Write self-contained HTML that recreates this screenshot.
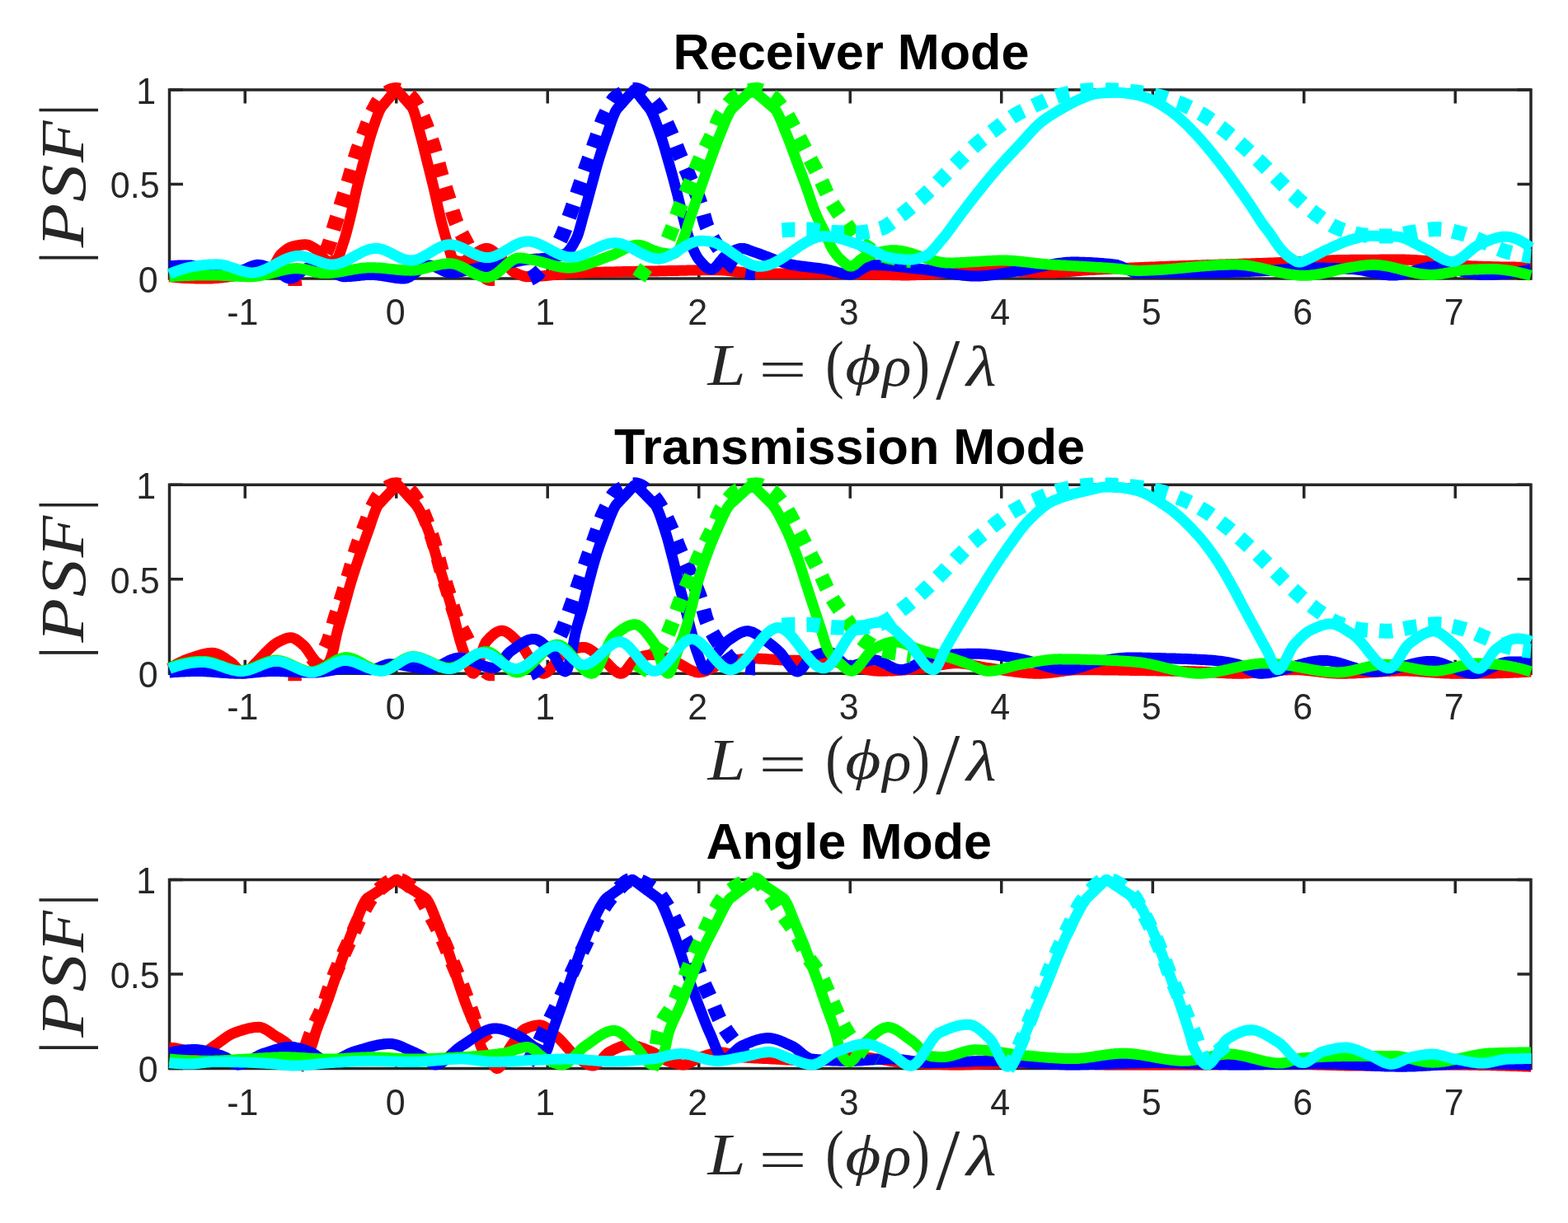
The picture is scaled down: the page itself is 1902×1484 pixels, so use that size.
<!DOCTYPE html><html><head><meta charset="utf-8"><title>PSF</title><style>html,body{margin:0;padding:0;background:#fff;}svg{display:block;}.tk{font-family:"Liberation Sans",Arial,sans-serif;font-size:43px;fill:#262626;}.ti{font-family:"Liberation Sans",Arial,sans-serif;font-size:61.2px;font-weight:bold;fill:#000;}.lx{font-family:"Liberation Serif","Times New Roman",serif;font-size:73px;fill:#262626;}</style></head><body>
<svg xmlns="http://www.w3.org/2000/svg" width="1902" height="1484" viewBox="0 0 1902 1484">
<rect width="1902" height="1484" fill="#fff"/>
<g fill="none" stroke="#262626" stroke-width="3.5">
<rect x="205.5" y="109.0" width="1651.5" height="229.0"/>
<path d="M297.25 109.00V125.50M297.25 338.00V321.50"/>
<path d="M480.75 109.00V125.50M480.75 338.00V321.50"/>
<path d="M664.25 109.00V125.50M664.25 338.00V321.50"/>
<path d="M847.75 109.00V125.50M847.75 338.00V321.50"/>
<path d="M1031.25 109.00V125.50M1031.25 338.00V321.50"/>
<path d="M1214.75 109.00V125.50M1214.75 338.00V321.50"/>
<path d="M1398.25 109.00V125.50M1398.25 338.00V321.50"/>
<path d="M1581.75 109.00V125.50M1581.75 338.00V321.50"/>
<path d="M1765.25 109.00V125.50M1765.25 338.00V321.50"/>
<path d="M205.50 338.00H222.00M1857.00 338.00H1840.50"/>
<path d="M205.50 223.50H222.00M1857.00 223.50H1840.50"/>
<path d="M205.50 109.00H222.00M1857.00 109.00H1840.50"/>
</g>
<path d="M205.5 335.7 L207.0 335.9 L208.5 336.1 L210.0 336.2 L211.5 336.4 L213.0 336.6 L214.5 336.7 L216.0 336.8 L217.5 336.9 L219.0 337.1 L220.5 337.2 L222.0 337.3 L223.5 337.4 L225.0 337.4 L226.5 337.5 L228.0 337.6 L229.5 337.6 L231.0 337.7 L232.5 337.8 L234.0 337.8 L235.5 337.8 L237.0 337.9 L238.5 337.9 L240.0 337.9 L241.5 338.0 L243.0 338.0 L244.5 338.0 L246.0 338.0 L247.5 338.0 L249.0 338.0 L250.5 338.0 L252.0 338.0 L253.5 338.0 L255.0 337.9 L256.5 337.9 L258.0 337.8 L259.5 337.7 L261.0 337.6 L262.5 337.5 L264.0 337.4 L265.5 337.2 L267.0 337.1 L268.5 336.9 L270.0 336.8 L271.5 336.6 L273.0 336.4 L274.5 336.2 L276.0 336.0 L277.5 335.8 L279.0 335.6 L280.5 335.4 L282.0 335.2 L283.5 335.0 L285.0 334.7 L286.5 334.5 L288.0 334.3 L289.5 334.0 L291.0 333.8 L292.5 333.5 L294.0 333.3 L295.5 333.0 L297.0 332.8 L298.5 332.5 L300.0 332.3 L301.5 332.0 L303.0 331.8 L304.5 331.5 L306.0 331.3 L307.5 331.0 L309.0 330.8 L310.5 330.5 L312.0 330.2 L313.5 329.9 L315.0 329.5 L316.5 329.2 L318.0 328.8 L319.5 328.4 L321.0 327.9 L322.5 327.4 L324.0 326.9 L325.5 326.3 L327.0 325.7 L328.5 325.0 L330.0 324.3 L331.5 323.0 L333.0 321.1 L334.5 318.6 L336.0 315.9 L337.5 313.2 L339.0 310.7 L340.5 308.7 L342.0 307.3 L343.5 306.0 L345.0 304.7 L346.5 303.6 L348.0 302.5 L349.5 301.5 L351.0 300.6 L352.5 299.9 L354.0 299.4 L355.5 298.9 L357.0 298.6 L358.5 298.3 L360.0 297.9 L361.5 297.7 L363.0 297.4 L364.5 297.2 L366.0 297.0 L367.5 296.9 L369.0 296.8 L370.5 296.8 L372.0 296.9 L373.5 297.2 L375.0 297.7 L376.5 298.4 L378.0 299.2 L379.5 300.1 L381.0 301.0 L382.5 302.0 L384.0 303.0 L385.5 304.0 L387.0 305.5 L388.5 307.3 L390.0 309.4 L391.5 311.6 L393.0 313.6 L394.5 315.4 L396.0 316.7 L397.5 317.3 L399.0 317.4 L400.5 317.2 L402.0 317.0 L403.5 316.7 L405.0 316.2 L406.5 315.7 L408.0 315.1 L409.5 313.6 L411.0 310.6 L412.5 306.6 L414.0 302.2 L415.5 297.6 L417.0 293.2 L418.5 288.3 L420.0 283.0 L421.5 277.3 L423.0 271.5 L424.5 265.5 L426.0 259.3 L427.5 252.7 L429.0 245.8 L430.5 238.9 L432.0 232.2 L433.5 225.9 L435.0 219.8 L436.5 213.7 L438.0 207.8 L439.5 202.0 L441.0 196.3 L442.5 190.5 L444.0 184.7 L445.5 179.0 L447.0 173.5 L448.5 168.3 L450.0 163.4 L451.5 158.8 L453.0 154.1 L454.5 149.6 L456.0 145.3 L457.5 141.2 L459.0 137.5 L460.5 134.1 L462.0 131.1 L463.5 129.0 L465.0 127.3 L466.5 125.5 L468.0 123.7 L469.5 121.9 L471.0 120.1 L472.5 118.4 L474.0 116.6 L475.5 114.8 L477.0 113.0 L478.5 111.2 L480.0 109.4 L481.5 109.3 L483.0 111.0 L484.5 112.7 L486.0 114.4 L487.5 116.1 L489.0 117.9 L490.5 119.6 L492.0 121.3 L493.5 123.0 L495.0 124.7 L496.5 126.4 L498.0 128.1 L499.5 129.8 L501.0 132.5 L502.5 136.5 L504.0 141.3 L505.5 146.6 L507.0 152.3 L508.5 158.0 L510.0 163.7 L511.5 169.2 L513.0 175.1 L514.5 181.1 L516.0 187.2 L517.5 193.4 L519.0 199.4 L520.5 205.4 L522.0 211.3 L523.5 217.3 L525.0 223.4 L526.5 229.6 L528.0 236.2 L529.5 243.0 L531.0 250.0 L532.5 256.7 L534.0 263.1 L535.5 269.1 L537.0 274.9 L538.5 280.5 L540.0 285.9 L541.5 291.0 L543.0 295.9 L544.5 300.8 L546.0 306.1 L547.5 310.8 L549.0 314.1 L550.5 315.3 L552.0 315.9 L553.5 316.4 L555.0 316.8 L556.5 317.1 L558.0 317.3 L559.5 317.4 L561.0 317.3 L562.5 316.9 L564.0 316.2 L565.5 315.3 L567.0 314.2 L568.5 313.0 L570.0 311.7 L571.5 310.5 L573.0 309.4 L574.5 308.5 L576.0 307.7 L577.5 306.9 L579.0 306.0 L580.5 305.1 L582.0 304.2 L583.5 303.4 L585.0 302.7 L586.5 302.1 L588.0 301.7 L589.5 301.4 L591.0 301.4 L592.5 301.6 L594.0 302.2 L595.5 303.0 L597.0 304.0 L598.5 305.1 L600.0 306.3 L601.5 307.6 L603.0 308.9 L604.5 310.1 L606.0 311.3 L607.5 312.8 L609.0 314.4 L610.5 316.1 L612.0 317.9 L613.5 319.8 L615.0 321.6 L616.5 323.4 L618.0 325.2 L619.5 326.8 L621.0 328.3 L622.5 329.6 L624.0 330.6 L625.5 331.4 L627.0 332.0 L628.5 332.7 L630.0 333.3 L631.5 333.9 L633.0 334.4 L634.5 334.9 L636.0 335.3 L637.5 335.5 L639.0 335.7 L640.5 335.7 L642.0 335.7 L643.5 335.7 L645.0 335.6 L646.5 335.6 L648.0 335.5 L649.5 335.4 L651.0 335.4 L652.5 335.3 L654.0 335.2 L655.5 335.1 L657.0 334.9 L658.5 334.8 L660.0 334.7 L661.5 334.5 L663.0 334.4 L664.5 334.3 L666.0 334.1 L667.5 334.0 L669.0 333.8 L670.5 333.6 L672.0 333.5 L673.5 333.3 L675.0 333.2 L676.5 333.0 L678.0 332.9 L679.5 332.7 L681.0 332.5 L682.5 332.4 L684.0 332.3 L685.5 332.1 L687.0 332.0 L688.5 331.8 L690.0 331.7 L691.5 331.6 L693.0 331.5 L694.5 331.4 L696.0 331.3 L697.5 331.2 L699.0 331.2 L700.5 331.1 L702.0 331.1 L703.5 331.0 L705.0 331.0 L706.5 330.9 L708.0 330.8 L709.5 330.8 L711.0 330.8 L712.5 330.7 L714.0 330.7 L715.5 330.6 L717.0 330.6 L718.5 330.5 L720.0 330.5 L721.5 330.4 L723.0 330.4 L724.5 330.4 L726.0 330.3 L727.5 330.3 L729.0 330.2 L730.5 330.2 L732.0 330.2 L733.5 330.1 L735.0 330.1 L736.5 330.1 L738.0 330.0 L739.5 330.0 L741.0 330.0 L742.5 329.9 L744.0 329.9 L745.5 329.9 L747.0 329.8 L748.5 329.8 L750.0 329.8 L751.5 329.7 L753.0 329.7 L754.5 329.7 L756.0 329.6 L757.5 329.6 L759.0 329.6 L760.5 329.6 L762.0 329.5 L763.5 329.5 L765.0 329.5 L766.5 329.4 L768.0 329.4 L769.5 329.4 L771.0 329.4 L772.5 329.3 L774.0 329.3 L775.5 329.3 L777.0 329.3 L778.5 329.2 L780.0 329.2 L781.5 329.2 L783.0 329.1 L784.5 329.1 L786.0 329.1 L787.5 329.1 L789.0 329.0 L790.5 329.0 L792.0 329.0 L793.5 329.0 L795.0 328.9 L796.5 328.9 L798.0 328.9 L799.5 328.8 L801.0 328.8 L802.5 328.8 L804.0 328.8 L805.5 328.7 L807.0 328.7 L808.5 328.7 L810.0 328.6 L811.5 328.6 L813.0 328.6 L814.5 328.5 L816.0 328.5 L817.5 328.5 L819.0 328.4 L820.5 328.4 L822.0 328.4 L823.5 328.3 L825.0 328.3 L826.5 328.3 L828.0 328.2 L829.5 328.2 L831.0 328.2 L832.5 328.2 L834.0 328.1 L835.5 328.1 L837.0 328.1 L838.5 328.0 L840.0 328.0 L841.5 328.0 L843.0 328.0 L844.5 327.9 L846.0 327.9 L847.5 327.9 L849.0 327.9 L850.5 327.8 L852.0 327.8 L853.5 327.8 L855.0 327.8 L856.5 327.8 L858.0 327.8 L859.5 327.7 L861.0 327.7 L862.5 327.7 L864.0 327.7 L865.5 327.7 L867.0 327.7 L868.5 327.7 L870.0 327.7 L871.5 327.7 L873.0 327.7 L874.5 327.8 L876.0 327.9 L877.5 328.0 L879.0 328.1 L880.5 328.2 L882.0 328.3 L883.5 328.5 L885.0 328.6 L886.5 328.8 L888.0 329.0 L889.5 329.2 L891.0 329.4 L892.5 329.5 L894.0 329.7 L895.5 329.9 L897.0 330.1 L898.5 330.3 L900.0 330.5 L901.5 330.7 L903.0 330.9 L904.5 331.1 L906.0 331.2 L907.5 331.4 L909.0 331.5 L910.5 331.6 L912.0 331.7 L913.5 331.8 L915.0 331.9 L916.5 332.0 L918.0 332.0 L919.5 332.0 L921.0 332.0 L922.5 332.0 L924.0 332.0 L925.5 332.0 L927.0 332.0 L928.5 332.0 L930.0 332.0 L931.5 332.0 L933.0 332.0 L934.5 332.0 L936.0 332.0 L937.5 332.0 L939.0 332.0 L940.5 332.0 L942.0 332.0 L943.5 332.0 L945.0 332.0 L946.5 332.0 L948.0 332.0 L949.5 332.0 L951.0 332.0 L952.5 332.0 L954.0 332.0 L955.5 332.0 L957.0 332.0 L958.5 332.0 L960.0 332.0 L961.5 332.0 L963.0 332.0 L964.5 332.0 L966.0 332.0 L967.5 332.0 L969.0 332.0 L970.5 332.0 L972.0 332.0 L973.5 332.0 L975.0 332.0 L976.5 332.0 L978.0 332.0 L979.5 332.0 L981.0 332.0 L982.5 332.0 L984.0 332.0 L985.5 332.0 L987.0 332.0 L988.5 332.0 L990.0 332.0 L991.5 332.0 L993.0 332.0 L994.5 332.0 L996.0 332.0 L997.5 332.0 L999.0 332.0 L1000.5 332.0 L1002.0 332.0 L1003.5 332.0 L1005.0 332.0 L1006.5 332.0 L1008.0 332.0 L1009.5 332.0 L1011.0 332.0 L1012.5 332.0 L1014.0 332.1 L1015.5 332.1 L1017.0 332.1 L1018.5 332.1 L1020.0 332.1 L1021.5 332.1 L1023.0 332.1 L1024.5 332.2 L1026.0 332.2 L1027.5 332.2 L1029.0 332.2 L1030.5 332.3 L1032.0 332.3 L1033.5 332.3 L1035.0 332.4 L1036.5 332.4 L1038.0 332.4 L1039.5 332.5 L1041.0 332.5 L1042.5 332.6 L1044.0 332.6 L1045.5 332.7 L1047.0 332.7 L1048.5 332.7 L1050.0 332.8 L1051.5 332.8 L1053.0 332.9 L1054.5 332.9 L1056.0 333.0 L1057.5 333.0 L1059.0 333.1 L1060.5 333.1 L1062.0 333.2 L1063.5 333.2 L1065.0 333.3 L1066.5 333.3 L1068.0 333.3 L1069.5 333.4 L1071.0 333.4 L1072.5 333.5 L1074.0 333.5 L1075.5 333.5 L1077.0 333.6 L1078.5 333.6 L1080.0 333.6 L1081.5 333.7 L1083.0 333.7 L1084.5 333.7 L1086.0 333.8 L1087.5 333.8 L1089.0 333.8 L1090.5 333.8 L1092.0 333.8 L1093.5 333.9 L1095.0 333.9 L1096.5 333.9 L1098.0 333.9 L1099.5 333.9 L1101.0 333.9 L1102.5 333.9 L1104.0 333.8 L1105.5 333.8 L1107.0 333.8 L1108.5 333.7 L1110.0 333.7 L1111.5 333.6 L1113.0 333.6 L1114.5 333.5 L1116.0 333.4 L1117.5 333.4 L1119.0 333.3 L1120.5 333.2 L1122.0 333.1 L1123.5 333.0 L1125.0 332.9 L1126.5 332.8 L1128.0 332.7 L1129.5 332.6 L1131.0 332.5 L1132.5 332.4 L1134.0 332.3 L1135.5 332.2 L1137.0 332.1 L1138.5 331.9 L1140.0 331.8 L1141.5 331.7 L1143.0 331.6 L1144.5 331.5 L1146.0 331.4 L1147.5 331.3 L1149.0 331.2 L1150.5 331.1 L1152.0 331.0 L1153.5 330.9 L1155.0 330.7 L1156.5 330.6 L1158.0 330.5 L1159.5 330.3 L1161.0 330.2 L1162.5 330.0 L1164.0 329.9 L1165.5 329.7 L1167.0 329.5 L1168.5 329.4 L1170.0 329.2 L1171.5 329.0 L1173.0 328.9 L1174.5 328.7 L1176.0 328.6 L1177.5 328.4 L1179.0 328.2 L1180.5 328.1 L1182.0 328.0 L1183.5 327.8 L1185.0 327.7 L1186.5 327.6 L1188.0 327.5 L1189.5 327.4 L1191.0 327.3 L1192.5 327.2 L1194.0 327.1 L1195.5 327.1 L1197.0 327.0 L1198.5 327.0 L1200.0 327.0 L1201.5 327.0 L1203.0 327.0 L1204.5 327.1 L1206.0 327.1 L1207.5 327.1 L1209.0 327.2 L1210.5 327.3 L1212.0 327.3 L1213.5 327.4 L1215.0 327.5 L1216.5 327.6 L1218.0 327.7 L1219.5 327.8 L1221.0 327.9 L1222.5 328.1 L1224.0 328.2 L1225.5 328.3 L1227.0 328.4 L1228.5 328.6 L1230.0 328.7 L1231.5 328.8 L1233.0 329.0 L1234.5 329.1 L1236.0 329.3 L1237.5 329.4 L1239.0 329.5 L1240.5 329.7 L1242.0 329.8 L1243.5 329.9 L1245.0 330.0 L1246.5 330.2 L1248.0 330.3 L1249.5 330.4 L1251.0 330.5 L1252.5 330.6 L1254.0 330.7 L1255.5 330.8 L1257.0 330.8 L1258.5 330.9 L1260.0 331.0 L1261.5 331.0 L1263.0 331.1 L1264.5 331.1 L1266.0 331.1 L1267.5 331.1 L1269.0 331.1 L1270.5 331.1 L1272.0 331.1 L1273.5 331.1 L1275.0 331.0 L1276.5 331.0 L1278.0 330.9 L1279.5 330.8 L1281.0 330.7 L1282.5 330.6 L1284.0 330.5 L1285.5 330.4 L1287.0 330.3 L1288.5 330.2 L1290.0 330.1 L1291.5 330.0 L1293.0 329.9 L1294.5 329.7 L1296.0 329.6 L1297.5 329.5 L1299.0 329.3 L1300.5 329.2 L1302.0 329.1 L1303.5 329.0 L1305.0 328.8 L1306.5 328.7 L1308.0 328.6 L1309.5 328.4 L1311.0 328.3 L1312.5 328.2 L1314.0 328.1 L1315.5 328.0 L1317.0 327.9 L1318.5 327.8 L1320.0 327.7 L1321.5 327.6 L1323.0 327.5 L1324.5 327.4 L1326.0 327.4 L1327.5 327.3 L1329.0 327.2 L1330.5 327.1 L1332.0 327.0 L1333.5 326.9 L1335.0 326.9 L1336.5 326.8 L1338.0 326.7 L1339.5 326.6 L1341.0 326.6 L1342.5 326.5 L1344.0 326.4 L1345.5 326.3 L1347.0 326.2 L1348.5 326.2 L1350.0 326.1 L1351.5 326.0 L1353.0 326.0 L1354.5 325.9 L1356.0 325.8 L1357.5 325.7 L1359.0 325.7 L1360.5 325.6 L1362.0 325.5 L1363.5 325.5 L1365.0 325.4 L1366.5 325.3 L1368.0 325.2 L1369.5 325.2 L1371.0 325.1 L1372.5 325.0 L1374.0 325.0 L1375.5 324.9 L1377.0 324.8 L1378.5 324.8 L1380.0 324.7 L1381.5 324.7 L1383.0 324.6 L1384.5 324.5 L1386.0 324.5 L1387.5 324.4 L1389.0 324.3 L1390.5 324.3 L1392.0 324.2 L1393.5 324.2 L1395.0 324.1 L1396.5 324.0 L1398.0 324.0 L1399.5 323.9 L1401.0 323.9 L1402.5 323.8 L1404.0 323.7 L1405.5 323.7 L1407.0 323.6 L1408.5 323.6 L1410.0 323.5 L1411.5 323.5 L1413.0 323.4 L1414.5 323.4 L1416.0 323.3 L1417.5 323.2 L1419.0 323.2 L1420.5 323.1 L1422.0 323.1 L1423.5 323.0 L1425.0 323.0 L1426.5 322.9 L1428.0 322.9 L1429.5 322.8 L1431.0 322.8 L1432.5 322.7 L1434.0 322.6 L1435.5 322.6 L1437.0 322.5 L1438.5 322.5 L1440.0 322.4 L1441.5 322.4 L1443.0 322.3 L1444.5 322.3 L1446.0 322.2 L1447.5 322.2 L1449.0 322.1 L1450.5 322.1 L1452.0 322.0 L1453.5 322.0 L1455.0 321.9 L1456.5 321.9 L1458.0 321.8 L1459.5 321.8 L1461.0 321.7 L1462.5 321.7 L1464.0 321.6 L1465.5 321.6 L1467.0 321.5 L1468.5 321.5 L1470.0 321.4 L1471.5 321.4 L1473.0 321.3 L1474.5 321.3 L1476.0 321.2 L1477.5 321.2 L1479.0 321.1 L1480.5 321.1 L1482.0 321.0 L1483.5 321.0 L1485.0 320.9 L1486.5 320.9 L1488.0 320.8 L1489.5 320.8 L1491.0 320.7 L1492.5 320.7 L1494.0 320.6 L1495.5 320.6 L1497.0 320.5 L1498.5 320.5 L1500.0 320.4 L1501.5 320.4 L1503.0 320.3 L1504.5 320.3 L1506.0 320.2 L1507.5 320.2 L1509.0 320.1 L1510.5 320.1 L1512.0 320.0 L1513.5 320.0 L1515.0 319.9 L1516.5 319.9 L1518.0 319.8 L1519.5 319.8 L1521.0 319.7 L1522.5 319.7 L1524.0 319.6 L1525.5 319.6 L1527.0 319.5 L1528.5 319.5 L1530.0 319.4 L1531.5 319.4 L1533.0 319.3 L1534.5 319.3 L1536.0 319.2 L1537.5 319.2 L1539.0 319.1 L1540.5 319.1 L1542.0 319.0 L1543.5 318.9 L1545.0 318.9 L1546.5 318.8 L1548.0 318.8 L1549.5 318.7 L1551.0 318.7 L1552.5 318.6 L1554.0 318.6 L1555.5 318.5 L1557.0 318.4 L1558.5 318.4 L1560.0 318.3 L1561.5 318.2 L1563.0 318.2 L1564.5 318.1 L1566.0 318.0 L1567.5 318.0 L1569.0 317.9 L1570.5 317.8 L1572.0 317.8 L1573.5 317.7 L1575.0 317.6 L1576.5 317.5 L1578.0 317.5 L1579.5 317.4 L1581.0 317.3 L1582.5 317.3 L1584.0 317.2 L1585.5 317.1 L1587.0 317.0 L1588.5 317.0 L1590.0 316.9 L1591.5 316.8 L1593.0 316.8 L1594.5 316.7 L1596.0 316.6 L1597.5 316.6 L1599.0 316.5 L1600.5 316.4 L1602.0 316.4 L1603.5 316.3 L1605.0 316.2 L1606.5 316.2 L1608.0 316.1 L1609.5 316.1 L1611.0 316.0 L1612.5 316.0 L1614.0 315.9 L1615.5 315.8 L1617.0 315.8 L1618.5 315.8 L1620.0 315.7 L1621.5 315.7 L1623.0 315.6 L1624.5 315.6 L1626.0 315.5 L1627.5 315.5 L1629.0 315.5 L1630.5 315.5 L1632.0 315.4 L1633.5 315.4 L1635.0 315.4 L1636.5 315.4 L1638.0 315.3 L1639.5 315.3 L1641.0 315.3 L1642.5 315.3 L1644.0 315.3 L1645.5 315.3 L1647.0 315.3 L1648.5 315.3 L1650.0 315.3 L1651.5 315.3 L1653.0 315.2 L1654.5 315.2 L1656.0 315.2 L1657.5 315.2 L1659.0 315.2 L1660.5 315.2 L1662.0 315.2 L1663.5 315.2 L1665.0 315.2 L1666.5 315.2 L1668.0 315.2 L1669.5 315.2 L1671.0 315.2 L1672.5 315.2 L1674.0 315.1 L1675.5 315.1 L1677.0 315.1 L1678.5 315.1 L1680.0 315.1 L1681.5 315.1 L1683.0 315.1 L1684.5 315.1 L1686.0 315.1 L1687.5 315.1 L1689.0 315.1 L1690.5 315.1 L1692.0 315.1 L1693.5 315.1 L1695.0 315.1 L1696.5 315.1 L1698.0 315.1 L1699.5 315.1 L1701.0 315.1 L1702.5 315.1 L1704.0 315.1 L1705.5 315.2 L1707.0 315.2 L1708.5 315.3 L1710.0 315.3 L1711.5 315.4 L1713.0 315.5 L1714.5 315.5 L1716.0 315.6 L1717.5 315.7 L1719.0 315.8 L1720.5 315.9 L1722.0 316.0 L1723.5 316.1 L1725.0 316.2 L1726.5 316.3 L1728.0 316.5 L1729.5 316.6 L1731.0 316.7 L1732.5 316.8 L1734.0 316.9 L1735.5 317.0 L1737.0 317.2 L1738.5 317.3 L1740.0 317.4 L1741.5 317.5 L1743.0 317.6 L1744.5 317.8 L1746.0 317.9 L1747.5 318.1 L1749.0 318.3 L1750.5 318.5 L1752.0 318.7 L1753.5 318.9 L1755.0 319.1 L1756.5 319.3 L1758.0 319.5 L1759.5 319.7 L1761.0 319.9 L1762.5 320.2 L1764.0 320.4 L1765.5 320.6 L1767.0 320.8 L1768.5 321.0 L1770.0 321.2 L1771.5 321.4 L1773.0 321.6 L1774.5 321.8 L1776.0 322.0 L1777.5 322.2 L1779.0 322.3 L1780.5 322.5 L1782.0 322.6 L1783.5 322.8 L1785.0 322.9 L1786.5 323.0 L1788.0 323.0 L1789.5 323.1 L1791.0 323.1 L1792.5 323.2 L1794.0 323.2 L1795.5 323.3 L1797.0 323.3 L1798.5 323.4 L1800.0 323.4 L1801.5 323.4 L1803.0 323.5 L1804.5 323.5 L1806.0 323.6 L1807.5 323.6 L1809.0 323.6 L1810.5 323.7 L1812.0 323.7 L1813.5 323.7 L1815.0 323.8 L1816.5 323.8 L1818.0 323.8 L1819.5 323.9 L1821.0 323.9 L1822.5 323.9 L1824.0 324.0 L1825.5 324.0 L1827.0 324.0 L1828.5 324.0 L1830.0 324.1 L1831.5 324.1 L1833.0 324.1 L1834.5 324.1 L1836.0 324.1 L1837.5 324.1 L1839.0 324.2 L1840.5 324.2 L1842.0 324.2 L1843.5 324.2 L1845.0 324.2 L1846.5 324.2 L1848.0 324.2 L1849.5 324.2 L1851.0 324.2 L1852.5 324.3 L1854.0 324.3 L1855.5 324.3 L1857.0 324.3" stroke="#ff0000" stroke-width="13" fill="none" stroke-linejoin="round"/>
<path d="M349.4 338.0 L350.9 338.0 L352.4 338.0 L353.9 338.0 L355.4 338.0 L356.9 338.0 L358.4 338.0 L359.9 338.0 L361.4 338.0 L362.9 338.0 L364.4 338.0 L365.9 337.8 L367.4 337.4 L368.9 336.8 L370.4 336.1 L371.9 335.1 L373.4 334.1 L374.9 333.0 L376.4 331.8 L377.9 330.6 L379.4 329.3 L380.9 328.0 L382.4 326.5 L383.9 324.8 L385.4 323.0 L386.9 320.9 L388.4 318.6 L389.9 316.1 L391.4 313.5 L392.9 310.7 L394.4 307.7 L395.9 304.6 L397.4 301.3 L398.9 297.4 L400.4 292.7 L401.9 287.4 L403.4 282.0 L404.9 276.7 L406.4 271.8 L407.9 267.0 L409.4 262.2 L410.9 257.5 L412.4 252.8 L413.9 248.0 L415.4 243.3 L416.9 238.5 L418.4 233.8 L419.9 229.0 L421.4 224.2 L422.9 219.3 L424.4 214.3 L425.9 209.0 L427.4 203.6 L428.9 198.2 L430.4 192.9 L431.9 188.1 L433.4 183.6 L434.9 179.3 L436.4 175.2 L437.9 171.2 L439.4 167.3 L440.9 163.5 L442.4 159.6 L443.9 155.7 L445.4 151.7 L446.9 147.7 L448.4 143.8 L449.9 140.1 L451.4 136.7 L452.9 133.7 L454.4 130.9 L455.9 128.2 L457.4 125.6 L458.9 123.1 L460.4 120.8 L461.9 118.9 L463.4 117.2 L464.9 115.9 L466.4 114.8 L467.9 113.8 L469.4 112.8 L470.9 111.9 L472.4 111.1 L473.9 110.4 L475.5 109.8 L477.0 109.4 L478.5 109.1 L480.0 109.0 L481.5 109.1 L483.0 109.3 L484.5 109.7 L486.0 110.1 L487.5 110.7 L489.0 111.4 L490.5 112.2 L492.0 113.0 L493.5 113.8 L495.0 114.7 L496.5 115.8 L498.0 117.1 L499.5 118.8 L501.0 120.6 L502.5 122.7 L504.0 124.8 L505.5 127.1 L507.0 129.6 L508.5 132.4 L510.0 135.5 L511.5 138.9 L513.0 142.4 L514.5 146.1 L516.0 149.9 L517.5 153.7 L519.0 157.6 L520.5 161.7 L522.0 166.0 L523.5 170.5 L525.0 175.1 L526.5 179.9 L528.0 184.9 L529.5 190.3 L531.0 196.1 L532.5 201.9 L534.0 207.5 L535.5 212.9 L537.0 217.9 L538.5 222.8 L540.0 227.5 L541.5 232.2 L543.0 236.9 L544.5 241.7 L546.0 246.6 L547.5 251.7 L549.0 256.8 L550.5 261.7 L552.0 266.2 L553.5 270.2 L555.0 273.7 L556.5 277.0 L558.0 280.0 L559.5 282.9 L561.0 285.7 L562.5 288.5 L564.0 291.2 L565.5 294.1 L567.0 297.1 L568.5 300.4 L570.0 303.8 L571.5 307.3 L573.0 310.8 L574.5 314.2 L576.0 317.4 L577.5 320.3 L579.0 322.8 L580.5 324.9 L582.0 326.8 L583.5 328.8 L585.0 330.7 L586.5 332.4 L588.0 334.0 L589.5 335.4 L591.0 336.6 L592.5 337.4 L594.0 337.9 L595.5 338.0 L597.0 338.0 L598.5 338.0 L600.0 338.0" stroke="#ff0000" stroke-width="18" fill="none" stroke-dasharray="16 14"/>
<path d="M205.5 322.9 L207.0 322.7 L208.5 322.6 L210.0 322.5 L211.5 322.4 L213.0 322.3 L214.5 322.2 L216.0 322.1 L217.5 322.1 L219.0 322.1 L220.5 322.0 L222.0 322.0 L223.5 322.0 L225.0 322.0 L226.5 322.0 L228.0 322.0 L229.5 322.0 L231.0 322.0 L232.5 322.1 L234.0 322.4 L235.5 322.7 L237.0 323.1 L238.5 323.6 L240.0 324.1 L241.5 324.7 L243.0 325.3 L244.5 325.9 L246.0 326.6 L247.5 327.2 L249.0 327.8 L250.5 328.4 L252.0 329.0 L253.5 329.5 L255.0 330.0 L256.5 330.4 L258.0 330.7 L259.5 331.0 L261.0 331.1 L262.5 331.1 L264.0 331.1 L265.5 331.1 L267.0 331.0 L268.5 331.0 L270.0 330.9 L271.5 330.8 L273.0 330.7 L274.5 330.6 L276.0 330.5 L277.5 330.3 L279.0 330.2 L280.5 330.0 L282.0 329.8 L283.5 329.7 L285.0 329.5 L286.5 329.3 L288.0 329.1 L289.5 328.9 L291.0 328.7 L292.5 328.3 L294.0 327.9 L295.5 327.3 L297.0 326.7 L298.5 326.1 L300.0 325.4 L301.5 324.7 L303.0 324.0 L304.5 323.4 L306.0 322.8 L307.5 322.2 L309.0 321.8 L310.5 321.5 L312.0 321.3 L313.5 321.3 L315.0 321.4 L316.5 321.6 L318.0 321.9 L319.5 322.3 L321.0 322.8 L322.5 323.3 L324.0 323.9 L325.5 324.5 L327.0 325.2 L328.5 325.9 L330.0 326.6 L331.5 327.3 L333.0 328.0 L334.5 328.6 L336.0 329.3 L337.5 330.1 L339.0 331.1 L340.5 332.2 L342.0 333.2 L343.5 334.3 L345.0 335.3 L346.5 336.3 L348.0 337.0 L349.5 337.6 L351.0 337.9 L352.5 338.0 L354.0 337.7 L355.5 337.2 L357.0 336.5 L358.5 335.5 L360.0 334.4 L361.5 333.2 L363.0 332.0 L364.5 330.7 L366.0 329.4 L367.5 328.2 L369.0 327.1 L370.5 326.1 L372.0 325.3 L373.5 324.7 L375.0 324.3 L376.5 324.3 L378.0 324.3 L379.5 324.4 L381.0 324.5 L382.5 324.6 L384.0 324.8 L385.5 325.0 L387.0 325.2 L388.5 325.4 L390.0 325.7 L391.5 325.9 L393.0 326.2 L394.5 326.5 L396.0 326.8 L397.5 327.2 L399.0 327.8 L400.5 328.5 L402.0 329.2 L403.5 330.0 L405.0 330.8 L406.5 331.7 L408.0 332.5 L409.5 333.2 L411.0 334.0 L412.5 334.6 L414.0 335.1 L415.5 335.5 L417.0 335.7 L418.5 335.7 L420.0 335.7 L421.5 335.6 L423.0 335.6 L424.5 335.5 L426.0 335.4 L427.5 335.2 L429.0 335.1 L430.5 334.9 L432.0 334.8 L433.5 334.6 L435.0 334.5 L436.5 334.3 L438.0 334.1 L439.5 334.0 L441.0 333.9 L442.5 333.7 L444.0 333.6 L445.5 333.5 L447.0 333.5 L448.5 333.4 L450.0 333.4 L451.5 333.4 L453.0 333.5 L454.5 333.6 L456.0 333.7 L457.5 333.8 L459.0 334.0 L460.5 334.2 L462.0 334.4 L463.5 334.6 L465.0 334.9 L466.5 335.1 L468.0 335.4 L469.5 335.6 L471.0 335.9 L472.5 336.1 L474.0 336.4 L475.5 336.6 L477.0 336.9 L478.5 337.1 L480.0 337.3 L481.5 337.5 L483.0 337.6 L484.5 337.8 L486.0 337.9 L487.5 337.9 L489.0 338.0 L490.5 338.0 L492.0 337.8 L493.5 337.4 L495.0 336.8 L496.5 336.1 L498.0 335.2 L499.5 334.2 L501.0 333.1 L502.5 332.0 L504.0 330.8 L505.5 329.6 L507.0 328.4 L508.5 327.2 L510.0 326.1 L511.5 325.1 L513.0 324.2 L514.5 323.4 L516.0 322.7 L517.5 322.3 L519.0 322.0 L520.5 322.0 L522.0 322.1 L523.5 322.4 L525.0 322.8 L526.5 323.3 L528.0 323.9 L529.5 324.6 L531.0 325.3 L532.5 326.0 L534.0 326.8 L535.5 327.6 L537.0 328.3 L538.5 329.0 L540.0 329.6 L541.5 330.1 L543.0 330.6 L544.5 330.9 L546.0 331.1 L547.5 331.1 L549.0 331.1 L550.5 331.0 L552.0 330.8 L553.5 330.7 L555.0 330.4 L556.5 330.2 L558.0 329.9 L559.5 329.6 L561.0 329.2 L562.5 328.9 L564.0 328.5 L565.5 328.2 L567.0 327.8 L568.5 327.4 L570.0 327.1 L571.5 326.7 L573.0 326.4 L574.5 326.1 L576.0 325.8 L577.5 325.5 L579.0 325.2 L580.5 325.0 L582.0 324.8 L583.5 324.6 L585.0 324.3 L586.5 324.1 L588.0 323.9 L589.5 323.7 L591.0 323.5 L592.5 323.3 L594.0 323.1 L595.5 322.9 L597.0 322.7 L598.5 322.5 L600.0 322.3 L601.5 322.1 L603.0 321.9 L604.5 321.7 L606.0 321.5 L607.5 321.2 L609.0 321.0 L610.5 320.7 L612.0 320.5 L613.5 320.2 L615.0 319.9 L616.5 319.6 L618.0 319.3 L619.5 319.0 L621.0 318.7 L622.5 318.3 L624.0 318.0 L625.5 317.7 L627.0 317.4 L628.5 317.1 L630.0 316.8 L631.5 316.5 L633.0 316.2 L634.5 315.9 L636.0 315.7 L637.5 315.4 L639.0 315.2 L640.5 315.0 L642.0 314.9 L643.5 314.7 L645.0 314.6 L646.5 314.4 L648.0 314.3 L649.5 314.2 L651.0 314.1 L652.5 314.0 L654.0 313.9 L655.5 313.8 L657.0 313.6 L658.5 313.5 L660.0 313.4 L661.5 313.2 L663.0 313.1 L664.5 312.9 L666.0 312.7 L667.5 312.5 L669.0 312.3 L670.5 312.0 L672.0 311.8 L673.5 311.5 L675.0 311.2 L676.5 310.9 L678.0 310.5 L679.5 310.1 L681.0 309.7 L682.5 309.2 L684.0 308.6 L685.5 308.0 L687.0 307.1 L688.5 305.8 L690.0 304.2 L691.5 302.3 L693.0 300.2 L694.5 297.8 L696.0 295.3 L697.5 292.5 L699.0 289.7 L700.5 286.3 L702.0 282.0 L703.5 276.9 L705.0 271.4 L706.5 265.7 L708.0 260.2 L709.5 254.9 L711.0 249.5 L712.5 244.0 L714.0 238.4 L715.5 232.9 L717.0 227.4 L718.5 221.9 L720.0 216.3 L721.5 210.6 L723.0 205.1 L724.5 199.8 L726.0 194.7 L727.5 189.8 L729.0 185.0 L730.5 180.4 L732.0 175.8 L733.5 171.4 L735.0 167.0 L736.5 162.7 L738.0 158.3 L739.5 153.8 L741.0 149.3 L742.5 145.0 L744.0 141.0 L745.5 137.4 L747.0 134.3 L748.5 132.1 L750.0 130.4 L751.5 128.7 L753.0 127.1 L754.5 125.4 L756.0 123.7 L757.5 122.0 L759.0 120.3 L760.5 118.6 L762.0 116.9 L763.5 115.2 L765.0 113.6 L766.5 111.9 L768.0 110.2 L769.5 108.5 L771.0 110.4 L772.5 112.3 L774.0 114.2 L775.5 116.1 L777.0 118.1 L778.5 120.0 L780.0 121.9 L781.5 123.8 L783.0 125.7 L784.5 127.6 L786.0 129.5 L787.5 131.4 L789.0 133.4 L790.5 136.3 L792.0 139.4 L793.5 142.9 L795.0 146.7 L796.5 150.7 L798.0 154.8 L799.5 159.0 L801.0 163.3 L802.5 167.7 L804.0 172.4 L805.5 177.3 L807.0 182.4 L808.5 187.6 L810.0 192.9 L811.5 198.1 L813.0 203.4 L814.5 208.8 L816.0 214.3 L817.5 219.9 L819.0 225.5 L820.5 231.3 L822.0 237.2 L823.5 243.3 L825.0 249.4 L826.5 255.3 L828.0 261.1 L829.5 267.0 L831.0 272.9 L832.5 278.6 L834.0 283.9 L835.5 288.5 L837.0 292.6 L838.5 296.5 L840.0 300.2 L841.5 303.7 L843.0 306.9 L844.5 309.8 L846.0 312.3 L847.5 314.5 L849.0 316.3 L850.5 318.0 L852.0 319.8 L853.5 321.4 L855.0 322.9 L856.5 324.2 L858.0 325.3 L859.5 326.2 L861.0 326.7 L862.5 327.0 L864.0 326.8 L865.5 326.1 L867.0 325.0 L868.5 323.6 L870.0 321.9 L871.5 320.0 L873.0 318.0 L874.5 316.1 L876.0 314.3 L877.5 312.6 L879.0 311.2 L880.5 310.2 L882.0 309.3 L883.5 308.3 L885.0 307.3 L886.5 306.4 L888.0 305.5 L889.5 304.6 L891.0 303.9 L892.5 303.2 L894.0 302.6 L895.5 302.1 L897.0 301.7 L898.5 301.4 L900.0 301.4 L901.5 301.4 L903.0 301.7 L904.5 302.0 L906.0 302.5 L907.5 303.1 L909.0 303.6 L910.5 304.3 L912.0 304.9 L913.5 305.4 L915.0 305.9 L916.5 306.4 L918.0 306.9 L919.5 307.4 L921.0 308.0 L922.5 308.5 L924.0 309.1 L925.5 309.6 L927.0 310.2 L928.5 310.8 L930.0 311.3 L931.5 311.9 L933.0 312.5 L934.5 313.1 L936.0 313.6 L937.5 314.2 L939.0 314.8 L940.5 315.3 L942.0 315.9 L943.5 316.4 L945.0 316.9 L946.5 317.4 L948.0 317.9 L949.5 318.4 L951.0 318.8 L952.5 319.3 L954.0 319.7 L955.5 320.1 L957.0 320.4 L958.5 320.7 L960.0 321.1 L961.5 321.3 L963.0 321.6 L964.5 321.9 L966.0 322.1 L967.5 322.3 L969.0 322.5 L970.5 322.8 L972.0 323.0 L973.5 323.2 L975.0 323.3 L976.5 323.5 L978.0 323.7 L979.5 323.9 L981.0 324.1 L982.5 324.2 L984.0 324.4 L985.5 324.6 L987.0 324.8 L988.5 324.9 L990.0 325.1 L991.5 325.3 L993.0 325.5 L994.5 325.7 L996.0 325.9 L997.5 326.2 L999.0 326.4 L1000.5 326.6 L1002.0 326.9 L1003.5 327.2 L1005.0 327.6 L1006.5 327.9 L1008.0 328.3 L1009.5 328.7 L1011.0 329.1 L1012.5 329.5 L1014.0 329.9 L1015.5 330.4 L1017.0 330.7 L1018.5 331.1 L1020.0 331.5 L1021.5 331.8 L1023.0 332.1 L1024.5 332.4 L1026.0 332.6 L1027.5 332.8 L1029.0 332.9 L1030.5 333.0 L1032.0 332.9 L1033.5 332.8 L1035.0 332.4 L1036.5 331.8 L1038.0 331.2 L1039.5 330.4 L1041.0 329.5 L1042.5 328.6 L1044.0 327.6 L1045.5 326.6 L1047.0 325.7 L1048.5 324.7 L1050.0 323.9 L1051.5 323.1 L1053.0 322.5 L1054.5 322.0 L1056.0 321.6 L1057.5 321.5 L1059.0 321.5 L1060.5 321.5 L1062.0 321.6 L1063.5 321.6 L1065.0 321.6 L1066.5 321.7 L1068.0 321.8 L1069.5 321.8 L1071.0 321.9 L1072.5 322.0 L1074.0 322.1 L1075.5 322.2 L1077.0 322.3 L1078.5 322.5 L1080.0 322.6 L1081.5 322.7 L1083.0 322.9 L1084.5 323.0 L1086.0 323.1 L1087.5 323.3 L1089.0 323.5 L1090.5 323.6 L1092.0 323.8 L1093.5 323.9 L1095.0 324.1 L1096.5 324.3 L1098.0 324.4 L1099.5 324.6 L1101.0 324.8 L1102.5 325.0 L1104.0 325.1 L1105.5 325.3 L1107.0 325.5 L1108.5 325.6 L1110.0 325.8 L1111.5 326.0 L1113.0 326.1 L1114.5 326.3 L1116.0 326.4 L1117.5 326.6 L1119.0 326.8 L1120.5 326.9 L1122.0 327.1 L1123.5 327.3 L1125.0 327.5 L1126.5 327.7 L1128.0 327.9 L1129.5 328.2 L1131.0 328.4 L1132.5 328.6 L1134.0 328.9 L1135.5 329.1 L1137.0 329.4 L1138.5 329.6 L1140.0 329.9 L1141.5 330.1 L1143.0 330.4 L1144.5 330.6 L1146.0 330.9 L1147.5 331.1 L1149.0 331.4 L1150.5 331.6 L1152.0 331.9 L1153.5 332.1 L1155.0 332.4 L1156.5 332.6 L1158.0 332.8 L1159.5 333.0 L1161.0 333.2 L1162.5 333.4 L1164.0 333.6 L1165.5 333.8 L1167.0 334.0 L1168.5 334.2 L1170.0 334.3 L1171.5 334.4 L1173.0 334.6 L1174.5 334.7 L1176.0 334.8 L1177.5 334.9 L1179.0 334.9 L1180.5 335.0 L1182.0 335.0 L1183.5 335.0 L1185.0 335.0 L1186.5 335.0 L1188.0 335.0 L1189.5 334.9 L1191.0 334.8 L1192.5 334.7 L1194.0 334.6 L1195.5 334.5 L1197.0 334.4 L1198.5 334.2 L1200.0 334.0 L1201.5 333.9 L1203.0 333.7 L1204.5 333.5 L1206.0 333.3 L1207.5 333.1 L1209.0 332.9 L1210.5 332.6 L1212.0 332.4 L1213.5 332.2 L1215.0 331.9 L1216.5 331.7 L1218.0 331.4 L1219.5 331.2 L1221.0 331.0 L1222.5 330.7 L1224.0 330.5 L1225.5 330.2 L1227.0 330.0 L1228.5 329.8 L1230.0 329.5 L1231.5 329.3 L1233.0 329.1 L1234.5 328.9 L1236.0 328.7 L1237.5 328.4 L1239.0 328.2 L1240.5 327.9 L1242.0 327.7 L1243.5 327.4 L1245.0 327.1 L1246.5 326.9 L1248.0 326.6 L1249.5 326.3 L1251.0 326.0 L1252.5 325.7 L1254.0 325.3 L1255.5 325.0 L1257.0 324.7 L1258.5 324.4 L1260.0 324.1 L1261.5 323.7 L1263.0 323.4 L1264.5 323.1 L1266.0 322.8 L1267.5 322.5 L1269.0 322.2 L1270.5 321.9 L1272.0 321.6 L1273.5 321.3 L1275.0 321.0 L1276.5 320.7 L1278.0 320.4 L1279.5 320.2 L1281.0 319.9 L1282.5 319.7 L1284.0 319.5 L1285.5 319.3 L1287.0 319.1 L1288.5 318.9 L1290.0 318.7 L1291.5 318.6 L1293.0 318.5 L1294.5 318.3 L1296.0 318.3 L1297.5 318.2 L1299.0 318.1 L1300.5 318.1 L1302.0 318.1 L1303.5 318.1 L1305.0 318.1 L1306.5 318.1 L1308.0 318.1 L1309.5 318.2 L1311.0 318.2 L1312.5 318.2 L1314.0 318.3 L1315.5 318.3 L1317.0 318.4 L1318.5 318.4 L1320.0 318.5 L1321.5 318.6 L1323.0 318.6 L1324.5 318.7 L1326.0 318.8 L1327.5 318.9 L1329.0 319.0 L1330.5 319.1 L1332.0 319.2 L1333.5 319.3 L1335.0 319.4 L1336.5 319.5 L1338.0 319.6 L1339.5 319.8 L1341.0 319.9 L1342.5 320.0 L1344.0 320.2 L1345.5 320.3 L1347.0 320.5 L1348.5 320.6 L1350.0 320.8 L1351.5 320.9 L1353.0 321.1 L1354.5 321.4 L1356.0 321.8 L1357.5 322.3 L1359.0 322.9 L1360.5 323.5 L1362.0 324.2 L1363.5 325.0 L1365.0 325.8 L1366.5 326.6 L1368.0 327.3 L1369.5 328.1 L1371.0 328.8 L1372.5 329.4 L1374.0 330.0 L1375.5 330.5 L1377.0 330.8 L1378.5 331.1 L1380.0 331.1 L1381.5 331.1 L1383.0 331.1 L1384.5 331.1 L1386.0 331.1 L1387.5 331.1 L1389.0 331.1 L1390.5 331.1 L1392.0 331.1 L1393.5 331.1 L1395.0 331.1 L1396.5 331.1 L1398.0 331.1 L1399.5 331.1 L1401.0 331.1 L1402.5 331.1 L1404.0 331.1 L1405.5 331.1 L1407.0 331.1 L1408.5 331.1 L1410.0 331.1 L1411.5 331.1 L1413.0 331.1 L1414.5 331.1 L1416.0 331.1 L1417.5 331.1 L1419.0 331.1 L1420.5 331.1 L1422.0 331.1 L1423.5 331.1 L1425.0 331.1 L1426.5 331.1 L1428.0 331.1 L1429.5 331.1 L1431.0 331.1 L1432.5 331.1 L1434.0 331.1 L1435.5 331.1 L1437.0 331.1 L1438.5 331.1 L1440.0 331.1 L1441.5 331.1 L1443.0 331.1 L1444.5 331.1 L1446.0 331.1 L1447.5 331.1 L1449.0 331.1 L1450.5 331.1 L1452.0 331.1 L1453.5 331.1 L1455.0 331.1 L1456.5 331.1 L1458.0 331.1 L1459.5 331.1 L1461.0 331.1 L1462.5 331.0 L1464.0 331.0 L1465.5 331.0 L1467.0 331.0 L1468.5 331.0 L1470.0 330.9 L1471.5 330.9 L1473.0 330.9 L1474.5 330.8 L1476.0 330.8 L1477.5 330.8 L1479.0 330.7 L1480.5 330.7 L1482.0 330.6 L1483.5 330.6 L1485.0 330.5 L1486.5 330.5 L1488.0 330.5 L1489.5 330.4 L1491.0 330.4 L1492.5 330.3 L1494.0 330.3 L1495.5 330.2 L1497.0 330.1 L1498.5 330.1 L1500.0 330.0 L1501.5 330.0 L1503.0 329.9 L1504.5 329.9 L1506.0 329.8 L1507.5 329.8 L1509.0 329.7 L1510.5 329.6 L1512.0 329.6 L1513.5 329.5 L1515.0 329.5 L1516.5 329.4 L1518.0 329.3 L1519.5 329.3 L1521.0 329.2 L1522.5 329.1 L1524.0 329.1 L1525.5 329.0 L1527.0 329.0 L1528.5 328.9 L1530.0 328.8 L1531.5 328.8 L1533.0 328.7 L1534.5 328.6 L1536.0 328.5 L1537.5 328.4 L1539.0 328.3 L1540.5 328.2 L1542.0 328.1 L1543.5 328.0 L1545.0 327.9 L1546.5 327.8 L1548.0 327.7 L1549.5 327.5 L1551.0 327.4 L1552.5 327.3 L1554.0 327.1 L1555.5 327.0 L1557.0 326.9 L1558.5 326.7 L1560.0 326.6 L1561.5 326.5 L1563.0 326.4 L1564.5 326.2 L1566.0 326.1 L1567.5 326.0 L1569.0 325.9 L1570.5 325.8 L1572.0 325.7 L1573.5 325.6 L1575.0 325.5 L1576.5 325.4 L1578.0 325.3 L1579.5 325.2 L1581.0 325.2 L1582.5 325.1 L1584.0 325.0 L1585.5 325.0 L1587.0 325.0 L1588.5 325.0 L1590.0 324.9 L1591.5 324.9 L1593.0 325.0 L1594.5 325.0 L1596.0 325.0 L1597.5 325.0 L1599.0 325.0 L1600.5 325.0 L1602.0 325.1 L1603.5 325.1 L1605.0 325.1 L1606.5 325.2 L1608.0 325.2 L1609.5 325.2 L1611.0 325.3 L1612.5 325.3 L1614.0 325.4 L1615.5 325.4 L1617.0 325.5 L1618.5 325.5 L1620.0 325.6 L1621.5 325.7 L1623.0 325.7 L1624.5 325.8 L1626.0 325.9 L1627.5 325.9 L1629.0 326.0 L1630.5 326.1 L1632.0 326.1 L1633.5 326.2 L1635.0 326.3 L1636.5 326.4 L1638.0 326.4 L1639.5 326.5 L1641.0 326.6 L1642.5 326.7 L1644.0 326.9 L1645.5 327.0 L1647.0 327.2 L1648.5 327.4 L1650.0 327.7 L1651.5 327.9 L1653.0 328.2 L1654.5 328.5 L1656.0 328.8 L1657.5 329.1 L1659.0 329.4 L1660.5 329.7 L1662.0 330.0 L1663.5 330.3 L1665.0 330.7 L1666.5 331.0 L1668.0 331.3 L1669.5 331.6 L1671.0 331.9 L1672.5 332.2 L1674.0 332.5 L1675.5 332.7 L1677.0 333.0 L1678.5 333.2 L1680.0 333.4 L1681.5 333.6 L1683.0 333.7 L1684.5 333.9 L1686.0 334.0 L1687.5 334.1 L1689.0 334.1 L1690.5 334.1 L1692.0 334.1 L1693.5 334.0 L1695.0 333.8 L1696.5 333.6 L1698.0 333.4 L1699.5 333.1 L1701.0 332.8 L1702.5 332.5 L1704.0 332.1 L1705.5 331.7 L1707.0 331.3 L1708.5 330.8 L1710.0 330.4 L1711.5 329.9 L1713.0 329.5 L1714.5 329.0 L1716.0 328.5 L1717.5 328.1 L1719.0 327.6 L1720.5 327.1 L1722.0 326.7 L1723.5 326.3 L1725.0 325.8 L1726.5 325.5 L1728.0 325.1 L1729.5 324.8 L1731.0 324.5 L1732.5 324.2 L1734.0 324.0 L1735.5 323.8 L1737.0 323.7 L1738.5 323.6 L1740.0 323.6 L1741.5 323.6 L1743.0 323.6 L1744.5 323.7 L1746.0 323.8 L1747.5 324.0 L1749.0 324.2 L1750.5 324.4 L1752.0 324.6 L1753.5 324.8 L1755.0 325.1 L1756.5 325.4 L1758.0 325.7 L1759.5 326.0 L1761.0 326.3 L1762.5 326.7 L1764.0 327.0 L1765.5 327.4 L1767.0 327.8 L1768.5 328.1 L1770.0 328.5 L1771.5 328.9 L1773.0 329.2 L1774.5 329.6 L1776.0 330.0 L1777.5 330.3 L1779.0 330.6 L1780.5 331.0 L1782.0 331.3 L1783.5 331.6 L1785.0 331.9 L1786.5 332.1 L1788.0 332.4 L1789.5 332.6 L1791.0 332.8 L1792.5 333.0 L1794.0 333.1 L1795.5 333.3 L1797.0 333.3 L1798.5 333.4 L1800.0 333.4 L1801.5 333.4 L1803.0 333.4 L1804.5 333.4 L1806.0 333.4 L1807.5 333.3 L1809.0 333.3 L1810.5 333.2 L1812.0 333.2 L1813.5 333.1 L1815.0 333.0 L1816.5 332.9 L1818.0 332.8 L1819.5 332.7 L1821.0 332.6 L1822.5 332.4 L1824.0 332.3 L1825.5 332.2 L1827.0 332.0 L1828.5 331.8 L1830.0 331.7 L1831.5 331.5 L1833.0 331.3 L1834.5 331.1 L1836.0 330.8 L1837.5 330.6 L1839.0 330.4 L1840.5 330.1 L1842.0 329.8 L1843.5 329.6 L1845.0 329.3 L1846.5 329.0 L1848.0 328.7 L1849.5 328.3 L1851.0 328.0 L1852.5 327.7 L1854.0 327.3 L1855.5 326.9 L1857.0 326.6" stroke="#0000ff" stroke-width="13" fill="none" stroke-linejoin="round"/>
<path d="M643.0 338.0 L644.5 337.3 L646.0 336.5 L647.5 335.6 L649.0 334.6 L650.5 333.4 L652.0 332.2 L653.5 330.8 L655.0 329.4 L656.5 327.9 L658.0 326.4 L659.5 324.8 L661.0 323.1 L662.5 321.3 L664.0 319.3 L665.5 317.1 L667.0 314.8 L668.5 312.4 L670.0 309.8 L671.5 307.1 L673.0 304.4 L674.5 301.5 L676.0 298.5 L677.5 295.4 L679.0 292.3 L680.5 289.1 L682.0 285.8 L683.5 282.2 L685.0 278.4 L686.5 274.2 L688.0 270.0 L689.5 265.7 L691.0 261.4 L692.5 257.1 L694.0 252.9 L695.5 248.5 L697.0 244.1 L698.5 239.7 L700.0 235.3 L701.5 230.9 L703.0 226.5 L704.5 222.0 L706.0 217.6 L707.5 213.1 L709.0 208.7 L710.5 204.3 L712.0 200.0 L713.5 195.8 L715.0 191.6 L716.5 187.4 L718.0 183.2 L719.5 179.1 L721.0 174.9 L722.5 170.7 L724.0 166.3 L725.5 161.8 L727.0 157.3 L728.5 153.0 L730.0 148.9 L731.5 145.1 L733.0 141.8 L734.5 138.7 L736.0 135.5 L737.5 132.5 L739.0 129.5 L740.5 126.8 L742.0 124.3 L743.5 122.1 L745.0 120.2 L746.5 118.8 L748.0 117.7 L749.5 116.7 L751.0 115.7 L752.5 114.8 L754.0 114.0 L755.5 113.2 L757.0 112.4 L758.5 111.7 L760.0 111.1 L761.5 110.5 L763.0 110.1 L764.5 109.7 L766.0 109.4 L767.5 109.1 L769.0 109.0 L770.5 109.0 L772.0 109.2 L773.5 109.5 L775.0 110.0 L776.5 110.7 L778.0 111.5 L779.5 112.4 L781.0 113.3 L782.5 114.4 L784.0 115.6 L785.5 116.8 L787.0 118.0 L788.5 119.2 L790.0 120.5 L791.5 121.8 L793.0 123.4 L794.5 125.2 L796.0 127.2 L797.5 129.3 L799.0 131.5 L800.5 133.9 L802.0 136.4 L803.5 139.2 L805.0 142.1 L806.5 145.2 L808.0 148.3 L809.5 151.6 L811.0 154.9 L812.5 158.3 L814.0 161.7 L815.5 165.2 L817.0 168.9 L818.5 172.7 L820.0 176.6 L821.5 180.4 L823.0 184.2 L824.5 187.9 L826.0 191.5 L827.5 195.0 L829.0 198.4 L830.5 201.8 L832.0 205.2 L833.5 208.6 L835.0 212.0 L836.5 215.5 L838.0 219.0 L839.5 222.4 L841.0 225.8 L842.5 229.2 L844.0 232.7 L845.5 236.3 L847.0 240.1 L848.5 244.1 L850.0 248.5 L851.5 253.7 L853.0 259.4 L854.5 265.0 L856.0 270.3 L857.5 274.8 L859.0 278.3 L860.5 281.7 L862.0 284.7 L863.5 287.6 L865.0 290.3 L866.5 292.9 L868.0 295.3 L869.5 297.6 L871.0 299.9 L872.5 302.1 L874.0 304.3 L875.5 306.5 L877.0 308.7 L878.5 310.8 L880.0 312.9 L881.5 314.9 L883.0 316.8 L884.5 318.5 L886.0 320.1 L887.5 321.6 L889.0 322.9 L890.5 323.9 L892.0 324.8 L893.5 325.7 L895.0 326.5 L896.5 327.2 L898.0 327.9 L899.5 328.5 L901.0 329.0 L902.5 329.4 L904.0 329.8 L905.5 330.1 L907.0 330.3 L908.5 330.5 L910.0 330.7 L911.5 330.9 L913.0 331.0 L914.5 331.1 L916.0 331.1" stroke="#0000ff" stroke-width="18" fill="none" stroke-dasharray="16 14"/>
<path d="M205.5 335.7 L207.0 335.6 L208.5 335.5 L210.0 335.4 L211.5 335.3 L213.0 335.2 L214.5 335.1 L216.0 335.0 L217.5 334.9 L219.0 334.8 L220.5 334.8 L222.0 334.7 L223.5 334.6 L225.0 334.5 L226.5 334.5 L228.0 334.4 L229.5 334.4 L231.0 334.3 L232.5 334.3 L234.0 334.2 L235.5 334.2 L237.0 334.1 L238.5 334.1 L240.0 334.0 L241.5 334.0 L243.0 334.0 L244.5 334.0 L246.0 333.9 L247.5 333.9 L249.0 333.9 L250.5 333.9 L252.0 333.9 L253.5 333.9 L255.0 333.9 L256.5 333.9 L258.0 333.9 L259.5 333.9 L261.0 334.0 L262.5 334.0 L264.0 334.0 L265.5 334.1 L267.0 334.2 L268.5 334.2 L270.0 334.3 L271.5 334.4 L273.0 334.4 L274.5 334.5 L276.0 334.6 L277.5 334.7 L279.0 334.8 L280.5 334.9 L282.0 334.9 L283.5 335.0 L285.0 335.1 L286.5 335.2 L288.0 335.3 L289.5 335.3 L291.0 335.4 L292.5 335.5 L294.0 335.5 L295.5 335.6 L297.0 335.6 L298.5 335.6 L300.0 335.7 L301.5 335.7 L303.0 335.7 L304.5 335.7 L306.0 335.7 L307.5 335.6 L309.0 335.5 L310.5 335.3 L312.0 335.2 L313.5 334.9 L315.0 334.7 L316.5 334.4 L318.0 334.1 L319.5 333.8 L321.0 333.5 L322.5 333.1 L324.0 332.8 L325.5 332.4 L327.0 332.0 L328.5 331.6 L330.0 331.2 L331.5 330.8 L333.0 330.4 L334.5 330.0 L336.0 329.6 L337.5 329.2 L339.0 328.8 L340.5 328.4 L342.0 328.1 L343.5 327.7 L345.0 327.4 L346.5 327.1 L348.0 326.8 L349.5 326.6 L351.0 326.3 L352.5 326.1 L354.0 326.0 L355.5 325.8 L357.0 325.7 L358.5 325.7 L360.0 325.6 L361.5 325.7 L363.0 325.8 L364.5 325.9 L366.0 326.1 L367.5 326.4 L369.0 326.7 L370.5 327.0 L372.0 327.4 L373.5 327.7 L375.0 328.1 L376.5 328.5 L378.0 328.9 L379.5 329.3 L381.0 329.7 L382.5 330.1 L384.0 330.4 L385.5 330.7 L387.0 331.0 L388.5 331.2 L390.0 331.4 L391.5 331.5 L393.0 331.6 L394.5 331.6 L396.0 331.6 L397.5 331.5 L399.0 331.4 L400.5 331.3 L402.0 331.2 L403.5 331.0 L405.0 330.9 L406.5 330.7 L408.0 330.5 L409.5 330.3 L411.0 330.0 L412.5 329.8 L414.0 329.6 L415.5 329.3 L417.0 329.0 L418.5 328.8 L420.0 328.5 L421.5 328.2 L423.0 327.9 L424.5 327.7 L426.0 327.4 L427.5 327.1 L429.0 326.9 L430.5 326.6 L432.0 326.4 L433.5 326.1 L435.0 325.9 L436.5 325.7 L438.0 325.5 L439.5 325.3 L441.0 325.2 L442.5 325.1 L444.0 324.9 L445.5 324.8 L447.0 324.8 L448.5 324.7 L450.0 324.7 L451.5 324.7 L453.0 324.8 L454.5 324.8 L456.0 324.9 L457.5 324.9 L459.0 325.0 L460.5 325.1 L462.0 325.2 L463.5 325.4 L465.0 325.5 L466.5 325.6 L468.0 325.8 L469.5 325.9 L471.0 326.1 L472.5 326.3 L474.0 326.4 L475.5 326.6 L477.0 326.7 L478.5 326.9 L480.0 327.0 L481.5 327.2 L483.0 327.3 L484.5 327.5 L486.0 327.6 L487.5 327.7 L489.0 327.8 L490.5 327.9 L492.0 328.0 L493.5 328.1 L495.0 328.1 L496.5 328.1 L498.0 328.2 L499.5 328.1 L501.0 328.1 L502.5 328.0 L504.0 327.8 L505.5 327.6 L507.0 327.4 L508.5 327.2 L510.0 326.9 L511.5 326.6 L513.0 326.2 L514.5 325.9 L516.0 325.5 L517.5 325.1 L519.0 324.7 L520.5 324.3 L522.0 323.9 L523.5 323.5 L525.0 323.1 L526.5 322.7 L528.0 322.3 L529.5 322.0 L531.0 321.6 L532.5 321.3 L534.0 321.0 L535.5 320.7 L537.0 320.4 L538.5 320.2 L540.0 320.0 L541.5 319.9 L543.0 319.8 L544.5 319.7 L546.0 319.7 L547.5 319.8 L549.0 320.0 L550.5 320.2 L552.0 320.6 L553.5 321.0 L555.0 321.6 L556.5 322.1 L558.0 322.8 L559.5 323.5 L561.0 324.2 L562.5 325.0 L564.0 325.8 L565.5 326.6 L567.0 327.4 L568.5 328.3 L570.0 329.1 L571.5 329.9 L573.0 330.7 L574.5 331.5 L576.0 332.3 L577.5 333.0 L579.0 333.7 L580.5 334.3 L582.0 334.9 L583.5 335.4 L585.0 335.8 L586.5 336.2 L588.0 336.4 L589.5 336.6 L591.0 336.6 L592.5 336.5 L594.0 336.2 L595.5 335.7 L597.0 335.1 L598.5 334.3 L600.0 333.4 L601.5 332.4 L603.0 331.3 L604.5 330.0 L606.0 328.8 L607.5 327.5 L609.0 326.1 L610.5 324.7 L612.0 323.4 L613.5 322.0 L615.0 320.7 L616.5 319.5 L618.0 318.3 L619.5 317.1 L621.0 316.1 L622.5 315.2 L624.0 314.5 L625.5 313.8 L627.0 313.4 L628.5 313.1 L630.0 313.0 L631.5 313.1 L633.0 313.2 L634.5 313.3 L636.0 313.5 L637.5 313.8 L639.0 314.0 L640.5 314.3 L642.0 314.6 L643.5 314.8 L645.0 315.1 L646.5 315.4 L648.0 315.7 L649.5 316.0 L651.0 316.3 L652.5 316.7 L654.0 317.1 L655.5 317.5 L657.0 317.9 L658.5 318.3 L660.0 318.8 L661.5 319.2 L663.0 319.7 L664.5 320.1 L666.0 320.6 L667.5 321.0 L669.0 321.4 L670.5 321.8 L672.0 322.3 L673.5 322.6 L675.0 323.0 L676.5 323.4 L678.0 323.7 L679.5 324.0 L681.0 324.2 L682.5 324.4 L684.0 324.6 L685.5 324.8 L687.0 324.9 L688.5 324.9 L690.0 324.9 L691.5 324.9 L693.0 324.8 L694.5 324.7 L696.0 324.5 L697.5 324.3 L699.0 324.1 L700.5 323.8 L702.0 323.5 L703.5 323.2 L705.0 322.8 L706.5 322.4 L708.0 322.0 L709.5 321.6 L711.0 321.1 L712.5 320.6 L714.0 320.1 L715.5 319.6 L717.0 319.1 L718.5 318.5 L720.0 318.0 L721.5 317.4 L723.0 316.8 L724.5 316.3 L726.0 315.7 L727.5 315.1 L729.0 314.5 L730.5 314.0 L732.0 313.4 L733.5 312.8 L735.0 312.3 L736.5 311.7 L738.0 311.2 L739.5 310.7 L741.0 310.2 L742.5 309.6 L744.0 309.0 L745.5 308.3 L747.0 307.6 L748.5 306.8 L750.0 306.0 L751.5 305.2 L753.0 304.5 L754.5 303.7 L756.0 302.9 L757.5 302.1 L759.0 301.4 L760.5 300.7 L762.0 300.0 L763.5 299.4 L765.0 298.9 L766.5 298.4 L768.0 298.0 L769.5 297.6 L771.0 297.4 L772.5 297.3 L774.0 297.2 L775.5 297.4 L777.0 297.6 L778.5 297.9 L780.0 298.4 L781.5 298.9 L783.0 299.5 L784.5 300.2 L786.0 300.9 L787.5 301.6 L789.0 302.3 L790.5 303.0 L792.0 303.6 L793.5 304.3 L795.0 304.8 L796.5 305.3 L798.0 305.7 L799.5 306.1 L801.0 306.4 L802.5 306.7 L804.0 306.9 L805.5 307.2 L807.0 307.5 L808.5 307.7 L810.0 307.9 L811.5 308.1 L813.0 308.2 L814.5 308.2 L816.0 308.1 L817.5 307.7 L819.0 306.9 L820.5 305.8 L822.0 304.6 L823.5 303.1 L825.0 300.4 L826.5 296.7 L828.0 292.6 L829.5 288.5 L831.0 284.3 L832.5 279.8 L834.0 275.1 L835.5 270.3 L837.0 265.5 L838.5 260.8 L840.0 256.3 L841.5 251.9 L843.0 247.5 L844.5 243.2 L846.0 239.0 L847.5 234.7 L849.0 230.5 L850.5 226.2 L852.0 221.9 L853.5 217.6 L855.0 213.3 L856.5 209.0 L858.0 204.7 L859.5 200.5 L861.0 196.3 L862.5 192.2 L864.0 188.0 L865.5 183.9 L867.0 179.8 L868.5 175.7 L870.0 171.8 L871.5 168.0 L873.0 164.3 L874.5 160.6 L876.0 156.8 L877.5 153.1 L879.0 149.4 L880.5 145.8 L882.0 142.4 L883.5 139.3 L885.0 136.4 L886.5 133.9 L888.0 131.9 L889.5 130.5 L891.0 129.0 L892.5 127.6 L894.0 126.1 L895.5 124.7 L897.0 123.2 L898.5 121.8 L900.0 120.3 L901.5 118.9 L903.0 117.4 L904.5 116.0 L906.0 114.5 L907.5 113.1 L909.0 111.6 L910.5 110.1 L912.0 108.7 L913.5 109.6 L915.0 110.9 L916.5 112.2 L918.0 113.5 L919.5 114.7 L921.0 116.0 L922.5 117.3 L924.0 118.6 L925.5 119.9 L927.0 121.1 L928.5 122.4 L930.0 123.7 L931.5 125.0 L933.0 126.3 L934.5 127.5 L936.0 128.8 L937.5 130.1 L939.0 131.4 L940.5 132.9 L942.0 135.2 L943.5 137.9 L945.0 141.0 L946.5 144.3 L948.0 147.8 L949.5 151.5 L951.0 155.3 L952.5 159.1 L954.0 162.8 L955.5 166.5 L957.0 170.3 L958.5 174.2 L960.0 178.3 L961.5 182.4 L963.0 186.5 L964.5 190.6 L966.0 194.7 L967.5 198.7 L969.0 202.7 L970.5 206.6 L972.0 210.6 L973.5 214.6 L975.0 218.6 L976.5 222.6 L978.0 226.8 L979.5 231.0 L981.0 235.4 L982.5 239.9 L984.0 244.3 L985.5 248.7 L987.0 252.9 L988.5 256.8 L990.0 260.4 L991.5 263.7 L993.0 266.9 L994.5 270.0 L996.0 273.0 L997.5 276.0 L999.0 279.0 L1000.5 282.1 L1002.0 285.2 L1003.5 288.5 L1005.0 292.2 L1006.5 295.9 L1008.0 299.1 L1009.5 301.7 L1011.0 304.1 L1012.5 306.3 L1014.0 308.4 L1015.5 310.3 L1017.0 312.1 L1018.5 313.7 L1020.0 315.1 L1021.5 316.5 L1023.0 317.9 L1024.5 319.2 L1026.0 320.4 L1027.5 321.5 L1029.0 322.4 L1030.5 322.9 L1032.0 323.1 L1033.5 322.9 L1035.0 322.3 L1036.5 321.4 L1038.0 320.2 L1039.5 318.9 L1041.0 317.6 L1042.5 316.2 L1044.0 315.0 L1045.5 313.9 L1047.0 313.1 L1048.5 312.5 L1050.0 311.9 L1051.5 311.4 L1053.0 310.8 L1054.5 310.2 L1056.0 309.7 L1057.5 309.1 L1059.0 308.6 L1060.5 308.1 L1062.0 307.6 L1063.5 307.2 L1065.0 306.7 L1066.5 306.3 L1068.0 305.9 L1069.5 305.5 L1071.0 305.2 L1072.5 304.9 L1074.0 304.6 L1075.5 304.3 L1077.0 304.1 L1078.5 303.9 L1080.0 303.8 L1081.5 303.7 L1083.0 303.7 L1084.5 303.7 L1086.0 303.7 L1087.5 303.8 L1089.0 303.9 L1090.5 304.1 L1092.0 304.3 L1093.5 304.5 L1095.0 304.8 L1096.5 305.1 L1098.0 305.4 L1099.5 305.8 L1101.0 306.1 L1102.5 306.6 L1104.0 307.0 L1105.5 307.4 L1107.0 307.9 L1108.5 308.4 L1110.0 308.9 L1111.5 309.4 L1113.0 309.9 L1114.5 310.4 L1116.0 310.9 L1117.5 311.4 L1119.0 311.9 L1120.5 312.4 L1122.0 313.0 L1123.5 313.5 L1125.0 314.0 L1126.5 314.4 L1128.0 314.9 L1129.5 315.4 L1131.0 315.8 L1132.5 316.2 L1134.0 316.6 L1135.5 317.0 L1137.0 317.4 L1138.5 317.7 L1140.0 318.0 L1141.5 318.2 L1143.0 318.5 L1144.5 318.6 L1146.0 318.8 L1147.5 318.9 L1149.0 319.0 L1150.5 319.0 L1152.0 319.0 L1153.5 319.0 L1155.0 319.0 L1156.5 318.9 L1158.0 318.9 L1159.5 318.8 L1161.0 318.8 L1162.5 318.7 L1164.0 318.7 L1165.5 318.6 L1167.0 318.5 L1168.5 318.5 L1170.0 318.4 L1171.5 318.3 L1173.0 318.2 L1174.5 318.1 L1176.0 318.0 L1177.5 317.9 L1179.0 317.8 L1180.5 317.7 L1182.0 317.7 L1183.5 317.6 L1185.0 317.5 L1186.5 317.4 L1188.0 317.3 L1189.5 317.2 L1191.0 317.1 L1192.5 317.0 L1194.0 316.9 L1195.5 316.8 L1197.0 316.7 L1198.5 316.6 L1200.0 316.5 L1201.5 316.5 L1203.0 316.4 L1204.5 316.3 L1206.0 316.3 L1207.5 316.2 L1209.0 316.2 L1210.5 316.1 L1212.0 316.1 L1213.5 316.1 L1215.0 316.0 L1216.5 316.0 L1218.0 316.0 L1219.5 316.0 L1221.0 316.1 L1222.5 316.1 L1224.0 316.2 L1225.5 316.2 L1227.0 316.3 L1228.5 316.4 L1230.0 316.5 L1231.5 316.6 L1233.0 316.8 L1234.5 316.9 L1236.0 317.0 L1237.5 317.2 L1239.0 317.4 L1240.5 317.5 L1242.0 317.7 L1243.5 317.9 L1245.0 318.1 L1246.5 318.2 L1248.0 318.4 L1249.5 318.6 L1251.0 318.8 L1252.5 319.0 L1254.0 319.1 L1255.5 319.3 L1257.0 319.5 L1258.5 319.7 L1260.0 319.8 L1261.5 320.0 L1263.0 320.1 L1264.5 320.3 L1266.0 320.4 L1267.5 320.5 L1269.0 320.6 L1270.5 320.8 L1272.0 320.9 L1273.5 321.0 L1275.0 321.1 L1276.5 321.2 L1278.0 321.3 L1279.5 321.4 L1281.0 321.5 L1282.5 321.6 L1284.0 321.7 L1285.5 321.8 L1287.0 321.9 L1288.5 321.9 L1290.0 322.0 L1291.5 322.1 L1293.0 322.2 L1294.5 322.3 L1296.0 322.4 L1297.5 322.5 L1299.0 322.6 L1300.5 322.7 L1302.0 322.7 L1303.5 322.8 L1305.0 322.9 L1306.5 323.0 L1308.0 323.1 L1309.5 323.2 L1311.0 323.2 L1312.5 323.3 L1314.0 323.4 L1315.5 323.5 L1317.0 323.6 L1318.5 323.7 L1320.0 323.7 L1321.5 323.8 L1323.0 323.9 L1324.5 324.0 L1326.0 324.1 L1327.5 324.2 L1329.0 324.3 L1330.5 324.4 L1332.0 324.5 L1333.5 324.5 L1335.0 324.6 L1336.5 324.7 L1338.0 324.8 L1339.5 324.9 L1341.0 325.0 L1342.5 325.1 L1344.0 325.2 L1345.5 325.3 L1347.0 325.4 L1348.5 325.6 L1350.0 325.7 L1351.5 325.8 L1353.0 325.9 L1354.5 326.0 L1356.0 326.2 L1357.5 326.3 L1359.0 326.5 L1360.5 326.7 L1362.0 326.9 L1363.5 327.0 L1365.0 327.2 L1366.5 327.4 L1368.0 327.6 L1369.5 327.7 L1371.0 327.9 L1372.5 328.0 L1374.0 328.2 L1375.5 328.2 L1377.0 328.3 L1378.5 328.4 L1380.0 328.4 L1381.5 328.4 L1383.0 328.4 L1384.5 328.4 L1386.0 328.3 L1387.5 328.3 L1389.0 328.3 L1390.5 328.2 L1392.0 328.2 L1393.5 328.1 L1395.0 328.1 L1396.5 328.0 L1398.0 327.9 L1399.5 327.8 L1401.0 327.8 L1402.5 327.7 L1404.0 327.6 L1405.5 327.5 L1407.0 327.4 L1408.5 327.3 L1410.0 327.2 L1411.5 327.1 L1413.0 327.0 L1414.5 326.9 L1416.0 326.8 L1417.5 326.6 L1419.0 326.5 L1420.5 326.4 L1422.0 326.3 L1423.5 326.1 L1425.0 326.0 L1426.5 325.9 L1428.0 325.7 L1429.5 325.6 L1431.0 325.5 L1432.5 325.3 L1434.0 325.2 L1435.5 325.0 L1437.0 324.9 L1438.5 324.8 L1440.0 324.6 L1441.5 324.5 L1443.0 324.3 L1444.5 324.2 L1446.0 324.1 L1447.5 323.9 L1449.0 323.8 L1450.5 323.7 L1452.0 323.5 L1453.5 323.4 L1455.0 323.3 L1456.5 323.1 L1458.0 323.0 L1459.5 322.9 L1461.0 322.8 L1462.5 322.6 L1464.0 322.5 L1465.5 322.4 L1467.0 322.3 L1468.5 322.2 L1470.0 322.1 L1471.5 322.0 L1473.0 321.9 L1474.5 321.8 L1476.0 321.7 L1477.5 321.6 L1479.0 321.6 L1480.5 321.5 L1482.0 321.4 L1483.5 321.4 L1485.0 321.3 L1486.5 321.2 L1488.0 321.2 L1489.5 321.2 L1491.0 321.1 L1492.5 321.1 L1494.0 321.1 L1495.5 321.1 L1497.0 321.1 L1498.5 321.1 L1500.0 321.1 L1501.5 321.1 L1503.0 321.2 L1504.5 321.3 L1506.0 321.4 L1507.5 321.5 L1509.0 321.7 L1510.5 321.8 L1512.0 322.0 L1513.5 322.2 L1515.0 322.5 L1516.5 322.7 L1518.0 322.9 L1519.5 323.2 L1521.0 323.5 L1522.5 323.8 L1524.0 324.1 L1525.5 324.4 L1527.0 324.7 L1528.5 325.0 L1530.0 325.4 L1531.5 325.7 L1533.0 326.0 L1534.5 326.4 L1536.0 326.7 L1537.5 327.1 L1539.0 327.4 L1540.5 327.8 L1542.0 328.1 L1543.5 328.5 L1545.0 328.8 L1546.5 329.2 L1548.0 329.5 L1549.5 329.9 L1551.0 330.2 L1552.5 330.5 L1554.0 330.9 L1555.5 331.2 L1557.0 331.5 L1558.5 331.8 L1560.0 332.1 L1561.5 332.3 L1563.0 332.6 L1564.5 332.8 L1566.0 333.1 L1567.5 333.3 L1569.0 333.5 L1570.5 333.6 L1572.0 333.8 L1573.5 333.9 L1575.0 334.1 L1576.5 334.2 L1578.0 334.2 L1579.5 334.3 L1581.0 334.3 L1582.5 334.3 L1584.0 334.3 L1585.5 334.3 L1587.0 334.2 L1588.5 334.1 L1590.0 334.0 L1591.5 333.8 L1593.0 333.6 L1594.5 333.4 L1596.0 333.2 L1597.5 333.0 L1599.0 332.7 L1600.5 332.5 L1602.0 332.2 L1603.5 331.9 L1605.0 331.6 L1606.5 331.3 L1608.0 331.0 L1609.5 330.6 L1611.0 330.3 L1612.5 330.0 L1614.0 329.6 L1615.5 329.3 L1617.0 328.9 L1618.5 328.6 L1620.0 328.2 L1621.5 327.9 L1623.0 327.5 L1624.5 327.2 L1626.0 326.8 L1627.5 326.5 L1629.0 326.2 L1630.5 325.9 L1632.0 325.6 L1633.5 325.3 L1635.0 325.0 L1636.5 324.8 L1638.0 324.5 L1639.5 324.3 L1641.0 324.1 L1642.5 323.9 L1644.0 323.7 L1645.5 323.4 L1647.0 323.2 L1648.5 323.0 L1650.0 322.7 L1651.5 322.5 L1653.0 322.3 L1654.5 322.1 L1656.0 321.9 L1657.5 321.8 L1659.0 321.6 L1660.5 321.5 L1662.0 321.4 L1663.5 321.3 L1665.0 321.3 L1666.5 321.3 L1668.0 321.3 L1669.5 321.4 L1671.0 321.5 L1672.5 321.6 L1674.0 321.8 L1675.5 321.9 L1677.0 322.1 L1678.5 322.3 L1680.0 322.6 L1681.5 322.8 L1683.0 323.1 L1684.5 323.4 L1686.0 323.7 L1687.5 324.0 L1689.0 324.4 L1690.5 324.7 L1692.0 325.1 L1693.5 325.5 L1695.0 325.8 L1696.5 326.2 L1698.0 326.6 L1699.5 327.0 L1701.0 327.4 L1702.5 327.7 L1704.0 328.1 L1705.5 328.5 L1707.0 328.9 L1708.5 329.3 L1710.0 329.6 L1711.5 330.0 L1713.0 330.3 L1714.5 330.7 L1716.0 331.0 L1717.5 331.3 L1719.0 331.6 L1720.5 331.9 L1722.0 332.1 L1723.5 332.4 L1725.0 332.6 L1726.5 332.8 L1728.0 332.9 L1729.5 333.1 L1731.0 333.2 L1732.5 333.3 L1734.0 333.4 L1735.5 333.4 L1737.0 333.4 L1738.5 333.4 L1740.0 333.3 L1741.5 333.2 L1743.0 333.1 L1744.5 332.9 L1746.0 332.7 L1747.5 332.5 L1749.0 332.3 L1750.5 332.0 L1752.0 331.7 L1753.5 331.5 L1755.0 331.2 L1756.5 330.9 L1758.0 330.6 L1759.5 330.3 L1761.0 330.0 L1762.5 329.7 L1764.0 329.4 L1765.5 329.1 L1767.0 328.8 L1768.5 328.6 L1770.0 328.3 L1771.5 328.1 L1773.0 327.9 L1774.5 327.8 L1776.0 327.6 L1777.5 327.5 L1779.0 327.4 L1780.5 327.4 L1782.0 327.3 L1783.5 327.2 L1785.0 327.2 L1786.5 327.1 L1788.0 327.0 L1789.5 327.0 L1791.0 326.9 L1792.5 326.9 L1794.0 326.8 L1795.5 326.8 L1797.0 326.7 L1798.5 326.7 L1800.0 326.7 L1801.5 326.6 L1803.0 326.6 L1804.5 326.6 L1806.0 326.6 L1807.5 326.6 L1809.0 326.6 L1810.5 326.6 L1812.0 326.6 L1813.5 326.6 L1815.0 326.7 L1816.5 326.7 L1818.0 326.8 L1819.5 326.9 L1821.0 327.1 L1822.5 327.2 L1824.0 327.4 L1825.5 327.6 L1827.0 327.8 L1828.5 328.0 L1830.0 328.2 L1831.5 328.4 L1833.0 328.7 L1834.5 329.0 L1836.0 329.2 L1837.5 329.5 L1839.0 329.9 L1840.5 330.2 L1842.0 330.5 L1843.5 330.8 L1845.0 331.2 L1846.5 331.6 L1848.0 331.9 L1849.5 332.3 L1851.0 332.7 L1852.5 333.1 L1854.0 333.5 L1855.5 333.9 L1857.0 334.3" stroke="#00ff00" stroke-width="13" fill="none" stroke-linejoin="round"/>
<path d="M775.0 338.0 L776.5 335.5 L778.0 333.1 L779.5 330.8 L781.0 328.5 L782.5 326.4 L784.0 324.4 L785.5 322.7 L787.0 321.0 L788.5 319.4 L790.0 317.9 L791.5 316.5 L793.0 315.1 L794.5 313.6 L796.0 312.2 L797.5 310.6 L799.0 309.0 L800.5 307.3 L802.0 305.4 L803.5 303.3 L805.0 301.0 L806.5 298.4 L808.0 295.3 L809.5 291.8 L811.0 288.2 L812.5 284.4 L814.0 280.5 L815.5 276.7 L817.0 272.8 L818.5 268.8 L820.0 264.6 L821.5 260.3 L823.0 256.0 L824.5 251.9 L826.0 247.9 L827.5 244.2 L829.0 240.6 L830.5 237.1 L832.0 233.7 L833.5 230.3 L835.0 227.0 L836.5 223.5 L838.0 220.0 L839.5 216.4 L841.0 212.8 L842.5 209.1 L844.0 205.5 L845.5 201.8 L847.0 198.3 L848.5 194.8 L850.0 191.4 L851.5 188.2 L853.0 185.1 L854.5 182.1 L856.0 179.1 L857.5 176.2 L859.0 173.2 L860.5 170.3 L862.0 167.3 L863.5 164.2 L865.0 161.1 L866.5 157.7 L868.0 154.1 L869.5 150.4 L871.0 146.9 L872.5 143.5 L874.0 140.3 L875.5 137.6 L877.0 135.3 L878.5 133.1 L880.0 131.0 L881.5 128.9 L883.0 127.0 L884.5 125.1 L886.0 123.4 L887.5 121.7 L889.0 120.2 L890.5 118.9 L892.0 117.7 L893.5 116.7 L895.0 115.9 L896.5 115.1 L898.0 114.4 L899.5 113.7 L901.0 113.1 L902.5 112.4 L904.0 111.8 L905.5 111.3 L907.0 110.7 L908.5 110.3 L910.0 109.9 L911.5 109.6 L913.0 109.3 L914.5 109.1 L916.0 109.0 L917.5 109.0 L919.0 109.1 L920.5 109.4 L922.0 109.7 L923.5 110.2 L925.0 110.7 L926.5 111.4 L928.0 112.1 L929.5 112.8 L931.0 113.6 L932.5 114.4 L934.0 115.3 L935.5 116.2 L937.0 117.2 L938.5 118.5 L940.0 119.9 L941.5 121.5 L943.0 123.2 L944.5 125.0 L946.0 127.0 L947.5 129.0 L949.0 131.0 L950.5 133.0 L952.0 135.2 L953.5 137.4 L955.0 139.9 L956.5 142.5 L958.0 145.2 L959.5 148.0 L961.0 150.8 L962.5 153.7 L964.0 156.6 L965.5 159.4 L967.0 162.2 L968.5 165.1 L970.0 168.0 L971.5 170.9 L973.0 173.8 L974.5 176.8 L976.0 179.8 L977.5 182.8 L979.0 185.7 L980.5 188.7 L982.0 191.6 L983.5 194.4 L985.0 197.3 L986.5 200.2 L988.0 203.0 L989.5 205.9 L991.0 208.8 L992.5 211.8 L994.0 214.8 L995.5 217.8 L997.0 221.0 L998.5 224.4 L1000.0 227.7 L1001.5 231.1 L1003.0 234.4 L1004.5 237.6 L1006.0 240.6 L1007.5 243.4 L1009.0 246.0 L1010.5 248.5 L1012.0 250.8 L1013.5 253.2 L1015.0 255.4 L1016.5 257.6 L1018.0 259.7 L1019.5 261.8 L1021.0 263.9 L1022.5 266.0 L1024.0 268.1 L1025.5 270.2 L1027.0 272.4 L1028.5 274.7 L1030.0 276.9 L1031.5 279.1 L1033.0 281.3 L1034.5 283.5 L1036.0 285.5 L1037.5 287.5 L1039.0 289.4 L1040.5 291.1 L1042.0 292.7 L1043.5 294.1 L1045.0 295.3 L1046.5 296.5 L1048.0 297.6 L1049.5 298.7 L1051.0 299.8 L1052.5 300.8 L1054.0 301.7 L1055.5 302.7 L1057.0 303.6 L1058.5 304.4 L1060.0 305.2 L1061.5 306.0 L1063.0 306.7 L1064.5 307.3 L1066.0 308.0 L1067.5 308.5 L1069.0 309.1 L1070.5 309.5 L1072.0 310.0 L1073.5 310.4 L1075.0 310.8 L1076.5 311.2 L1078.0 311.5 L1079.5 311.9 L1081.0 312.2 L1082.5 312.5 L1084.0 312.8 L1085.5 313.1 L1087.0 313.4 L1088.5 313.7 L1090.0 313.9 L1091.5 314.2 L1093.0 314.4 L1094.5 314.7 L1096.0 314.9 L1097.5 315.2 L1099.0 315.4 L1100.5 315.6 L1102.0 315.8 L1103.5 316.1 L1105.0 316.2" stroke="#00ff00" stroke-width="18" fill="none" stroke-dasharray="16 14"/>
<path d="M205.5 332.5 L207.0 331.8 L208.5 331.2 L210.0 330.6 L211.5 330.0 L213.0 329.4 L214.5 328.8 L216.0 328.3 L217.5 327.8 L219.0 327.3 L220.5 326.8 L222.0 326.4 L223.5 325.9 L225.0 325.5 L226.5 325.1 L228.0 324.8 L229.5 324.4 L231.0 324.1 L232.5 323.8 L234.0 323.5 L235.5 323.2 L237.0 322.9 L238.5 322.7 L240.0 322.5 L241.5 322.3 L243.0 322.1 L244.5 321.9 L246.0 321.7 L247.5 321.6 L249.0 321.4 L250.5 321.3 L252.0 321.2 L253.5 321.1 L255.0 321.0 L256.5 321.0 L258.0 320.9 L259.5 320.9 L261.0 320.8 L262.5 320.8 L264.0 320.8 L265.5 320.9 L267.0 321.0 L268.5 321.1 L270.0 321.4 L271.5 321.7 L273.0 322.0 L274.5 322.4 L276.0 322.8 L277.5 323.3 L279.0 323.8 L280.5 324.3 L282.0 324.8 L283.5 325.3 L285.0 325.9 L286.5 326.4 L288.0 326.9 L289.5 327.5 L291.0 328.0 L292.5 328.4 L294.0 328.9 L295.5 329.3 L297.0 329.7 L298.5 330.1 L300.0 330.3 L301.5 330.6 L303.0 330.8 L304.5 330.9 L306.0 330.9 L307.5 330.9 L309.0 330.7 L310.5 330.5 L312.0 330.2 L313.5 329.9 L315.0 329.5 L316.5 329.0 L318.0 328.5 L319.5 327.9 L321.0 327.3 L322.5 326.6 L324.0 325.9 L325.5 325.2 L327.0 324.5 L328.5 323.7 L330.0 322.9 L331.5 322.1 L333.0 321.3 L334.5 320.4 L336.0 319.6 L337.5 318.8 L339.0 318.0 L340.5 317.2 L342.0 316.5 L343.5 315.7 L345.0 315.0 L346.5 314.3 L348.0 313.7 L349.5 313.1 L351.0 312.6 L352.5 312.1 L354.0 311.6 L355.5 311.3 L357.0 311.0 L358.5 310.7 L360.0 310.6 L361.5 310.5 L363.0 310.5 L364.5 310.6 L366.0 310.8 L367.5 311.0 L369.0 311.3 L370.5 311.7 L372.0 312.1 L373.5 312.5 L375.0 313.0 L376.5 313.5 L378.0 314.1 L379.5 314.6 L381.0 315.2 L382.5 315.8 L384.0 316.4 L385.5 316.9 L387.0 317.5 L388.5 318.0 L390.0 318.5 L391.5 319.0 L393.0 319.5 L394.5 319.9 L396.0 320.2 L397.5 320.5 L399.0 320.8 L400.5 320.9 L402.0 321.0 L403.5 321.0 L405.0 321.0 L406.5 320.8 L408.0 320.6 L409.5 320.2 L411.0 319.8 L412.5 319.4 L414.0 318.9 L415.5 318.3 L417.0 317.7 L418.5 317.0 L420.0 316.3 L421.5 315.5 L423.0 314.8 L424.5 314.0 L426.0 313.1 L427.5 312.3 L429.0 311.5 L430.5 310.6 L432.0 309.8 L433.5 309.0 L435.0 308.2 L436.5 307.4 L438.0 306.6 L439.5 305.9 L441.0 305.2 L442.5 304.5 L444.0 303.9 L445.5 303.4 L447.0 302.9 L448.5 302.4 L450.0 302.1 L451.5 301.8 L453.0 301.5 L454.5 301.4 L456.0 301.4 L457.5 301.4 L459.0 301.6 L460.5 301.8 L462.0 302.2 L463.5 302.6 L465.0 303.1 L466.5 303.6 L468.0 304.2 L469.5 304.9 L471.0 305.6 L472.5 306.3 L474.0 307.0 L475.5 307.8 L477.0 308.6 L478.5 309.4 L480.0 310.1 L481.5 310.9 L483.0 311.6 L484.5 312.3 L486.0 313.0 L487.5 313.6 L489.0 314.2 L490.5 314.7 L492.0 315.1 L493.5 315.5 L495.0 315.7 L496.5 315.9 L498.0 316.0 L499.5 316.0 L501.0 315.8 L502.5 315.6 L504.0 315.3 L505.5 314.8 L507.0 314.3 L508.5 313.8 L510.0 313.1 L511.5 312.4 L513.0 311.6 L514.5 310.8 L516.0 310.0 L517.5 309.1 L519.0 308.2 L520.5 307.3 L522.0 306.4 L523.5 305.5 L525.0 304.6 L526.5 303.7 L528.0 302.8 L529.5 302.0 L531.0 301.2 L532.5 300.4 L534.0 299.7 L535.5 299.0 L537.0 298.5 L538.5 298.0 L540.0 297.5 L541.5 297.2 L543.0 296.9 L544.5 296.8 L546.0 296.8 L547.5 296.9 L549.0 297.0 L550.5 297.3 L552.0 297.6 L553.5 298.0 L555.0 298.5 L556.5 299.1 L558.0 299.7 L559.5 300.3 L561.0 301.0 L562.5 301.7 L564.0 302.5 L565.5 303.2 L567.0 304.0 L568.5 304.8 L570.0 305.6 L571.5 306.3 L573.0 307.1 L574.5 307.8 L576.0 308.5 L577.5 309.2 L579.0 309.9 L580.5 310.4 L582.0 311.0 L583.5 311.4 L585.0 311.8 L586.5 312.1 L588.0 312.4 L589.5 312.5 L591.0 312.6 L592.5 312.5 L594.0 312.4 L595.5 312.1 L597.0 311.8 L598.5 311.3 L600.0 310.8 L601.5 310.3 L603.0 309.6 L604.5 308.9 L606.0 308.2 L607.5 307.4 L609.0 306.6 L610.5 305.7 L612.0 304.8 L613.5 303.9 L615.0 303.0 L616.5 302.1 L618.0 301.2 L619.5 300.3 L621.0 299.5 L622.5 298.6 L624.0 297.8 L625.5 297.0 L627.0 296.3 L628.5 295.6 L630.0 295.0 L631.5 294.5 L633.0 294.0 L634.5 293.6 L636.0 293.3 L637.5 293.0 L639.0 292.9 L640.5 292.9 L642.0 293.0 L643.5 293.1 L645.0 293.4 L646.5 293.7 L648.0 294.1 L649.5 294.5 L651.0 295.0 L652.5 295.6 L654.0 296.2 L655.5 296.9 L657.0 297.6 L658.5 298.3 L660.0 299.1 L661.5 299.9 L663.0 300.7 L664.5 301.5 L666.0 302.3 L667.5 303.1 L669.0 303.9 L670.5 304.7 L672.0 305.5 L673.5 306.3 L675.0 307.0 L676.5 307.8 L678.0 308.4 L679.5 309.1 L681.0 309.7 L682.5 310.2 L684.0 310.7 L685.5 311.1 L687.0 311.5 L688.5 311.8 L690.0 312.0 L691.5 312.1 L693.0 312.1 L694.5 312.1 L696.0 311.9 L697.5 311.7 L699.0 311.5 L700.5 311.1 L702.0 310.7 L703.5 310.3 L705.0 309.8 L706.5 309.2 L708.0 308.6 L709.5 308.0 L711.0 307.4 L712.5 306.7 L714.0 306.0 L715.5 305.3 L717.0 304.5 L718.5 303.8 L720.0 303.1 L721.5 302.3 L723.0 301.6 L724.5 300.9 L726.0 300.2 L727.5 299.5 L729.0 298.8 L730.5 298.2 L732.0 297.6 L733.5 297.1 L735.0 296.6 L736.5 296.1 L738.0 295.7 L739.5 295.4 L741.0 295.1 L742.5 294.9 L744.0 294.8 L745.5 294.7 L747.0 294.8 L748.5 294.9 L750.0 295.1 L751.5 295.4 L753.0 295.7 L754.5 296.1 L756.0 296.6 L757.5 297.2 L759.0 297.8 L760.5 298.4 L762.0 299.1 L763.5 299.8 L765.0 300.6 L766.5 301.3 L768.0 302.1 L769.5 302.9 L771.0 303.7 L772.5 304.6 L774.0 305.4 L775.5 306.2 L777.0 307.0 L778.5 307.8 L780.0 308.5 L781.5 309.3 L783.0 310.0 L784.5 310.6 L786.0 311.2 L787.5 311.8 L789.0 312.3 L790.5 312.8 L792.0 313.2 L793.5 313.5 L795.0 313.7 L796.5 313.9 L798.0 313.9 L799.5 313.9 L801.0 313.8 L802.5 313.6 L804.0 313.3 L805.5 312.9 L807.0 312.4 L808.5 311.8 L810.0 311.2 L811.5 310.5 L813.0 309.8 L814.5 309.0 L816.0 308.1 L817.5 307.3 L819.0 306.4 L820.5 305.4 L822.0 304.5 L823.5 303.6 L825.0 302.6 L826.5 301.7 L828.0 300.7 L829.5 299.8 L831.0 298.9 L832.5 298.0 L834.0 297.2 L835.5 296.4 L837.0 295.7 L838.5 295.0 L840.0 294.3 L841.5 293.8 L843.0 293.3 L844.5 292.9 L846.0 292.6 L847.5 292.3 L849.0 292.2 L850.5 292.2 L852.0 292.2 L853.5 292.3 L855.0 292.4 L856.5 292.5 L858.0 292.7 L859.5 292.8 L861.0 293.0 L862.5 293.3 L864.0 293.6 L865.5 294.0 L867.0 294.5 L868.5 295.1 L870.0 295.7 L871.5 296.4 L873.0 297.2 L874.5 298.0 L876.0 298.8 L877.5 299.7 L879.0 300.6 L880.5 301.6 L882.0 302.6 L883.5 303.6 L885.0 304.7 L886.5 305.7 L888.0 306.8 L889.5 307.8 L891.0 308.9 L892.5 310.0 L894.0 311.0 L895.5 312.1 L897.0 313.1 L898.5 314.1 L900.0 315.1 L901.5 316.0 L903.0 316.9 L904.5 317.8 L906.0 318.6 L907.5 319.4 L909.0 320.1 L910.5 320.8 L912.0 321.4 L913.5 321.9 L915.0 322.3 L916.5 322.7 L918.0 323.0 L919.5 323.2 L921.0 323.3 L922.5 323.3 L924.0 323.3 L925.5 323.1 L927.0 322.9 L928.5 322.6 L930.0 322.3 L931.5 321.8 L933.0 321.4 L934.5 320.8 L936.0 320.2 L937.5 319.6 L939.0 318.9 L940.5 318.1 L942.0 317.3 L943.5 316.5 L945.0 315.6 L946.5 314.8 L948.0 313.8 L949.5 312.9 L951.0 311.9 L952.5 310.9 L954.0 309.9 L955.5 308.8 L957.0 307.8 L958.5 306.8 L960.0 305.7 L961.5 304.6 L963.0 303.6 L964.5 302.5 L966.0 301.5 L967.5 300.4 L969.0 299.4 L970.5 298.4 L972.0 297.4 L973.5 296.5 L975.0 295.5 L976.5 294.6 L978.0 293.8 L979.5 292.9 L981.0 292.1 L982.5 291.4 L984.0 290.7 L985.5 290.0 L987.0 289.4 L988.5 288.8 L990.0 288.3 L991.5 287.9 L993.0 287.5 L994.5 287.2 L996.0 287.0 L997.5 286.8 L999.0 286.7 L1000.5 286.7 L1002.0 286.7 L1003.5 286.8 L1005.0 286.9 L1006.5 287.1 L1008.0 287.3 L1009.5 287.5 L1011.0 287.7 L1012.5 288.0 L1014.0 288.3 L1015.5 288.7 L1017.0 289.0 L1018.5 289.4 L1020.0 289.8 L1021.5 290.2 L1023.0 290.7 L1024.5 291.1 L1026.0 291.6 L1027.5 292.1 L1029.0 292.6 L1030.5 293.1 L1032.0 293.6 L1033.5 294.1 L1035.0 294.7 L1036.5 295.2 L1038.0 295.7 L1039.5 296.2 L1041.0 296.7 L1042.5 297.3 L1044.0 297.8 L1045.5 298.3 L1047.0 298.8 L1048.5 299.3 L1050.0 299.9 L1051.5 300.5 L1053.0 301.1 L1054.5 301.8 L1056.0 302.6 L1057.5 303.3 L1059.0 304.1 L1060.5 304.9 L1062.0 305.7 L1063.5 306.5 L1065.0 307.2 L1066.5 308.0 L1068.0 308.7 L1069.5 309.4 L1071.0 310.1 L1072.5 310.7 L1074.0 311.2 L1075.5 311.7 L1077.0 312.2 L1078.5 312.5 L1080.0 312.8 L1081.5 313.0 L1083.0 313.3 L1084.5 313.5 L1086.0 313.7 L1087.5 313.9 L1089.0 314.1 L1090.5 314.3 L1092.0 314.5 L1093.5 314.6 L1095.0 314.7 L1096.5 314.9 L1098.0 315.0 L1099.5 315.0 L1101.0 315.1 L1102.5 315.1 L1104.0 315.1 L1105.5 315.0 L1107.0 314.9 L1108.5 314.7 L1110.0 314.4 L1111.5 314.1 L1113.0 313.7 L1114.5 313.3 L1116.0 312.9 L1117.5 312.5 L1119.0 312.0 L1120.5 311.5 L1122.0 310.9 L1123.5 310.3 L1125.0 309.4 L1126.5 308.3 L1128.0 307.1 L1129.5 305.7 L1131.0 304.2 L1132.5 302.6 L1134.0 300.9 L1135.5 299.1 L1137.0 297.3 L1138.5 295.5 L1140.0 293.7 L1141.5 291.9 L1143.0 290.1 L1144.5 288.4 L1146.0 286.6 L1147.5 284.7 L1149.0 282.7 L1150.5 280.7 L1152.0 278.7 L1153.5 276.6 L1155.0 274.5 L1156.5 272.4 L1158.0 270.3 L1159.5 268.2 L1161.0 266.1 L1162.5 264.1 L1164.0 262.0 L1165.5 260.1 L1167.0 258.1 L1168.5 256.1 L1170.0 254.1 L1171.5 252.2 L1173.0 250.2 L1174.5 248.2 L1176.0 246.3 L1177.5 244.3 L1179.0 242.4 L1180.5 240.5 L1182.0 238.6 L1183.5 236.6 L1185.0 234.8 L1186.5 232.9 L1188.0 231.0 L1189.5 229.1 L1191.0 227.3 L1192.5 225.4 L1194.0 223.6 L1195.5 221.7 L1197.0 219.9 L1198.5 218.1 L1200.0 216.2 L1201.5 214.4 L1203.0 212.7 L1204.5 210.9 L1206.0 209.1 L1207.5 207.4 L1209.0 205.6 L1210.5 203.9 L1212.0 202.2 L1213.5 200.5 L1215.0 198.9 L1216.5 197.2 L1218.0 195.6 L1219.5 193.9 L1221.0 192.3 L1222.5 190.7 L1224.0 189.1 L1225.5 187.5 L1227.0 185.9 L1228.5 184.3 L1230.0 182.7 L1231.5 181.1 L1233.0 179.5 L1234.5 177.9 L1236.0 176.3 L1237.5 174.7 L1239.0 173.1 L1240.5 171.4 L1242.0 169.7 L1243.5 168.0 L1245.0 166.3 L1246.5 164.6 L1248.0 163.0 L1249.5 161.3 L1251.0 159.7 L1252.5 158.1 L1254.0 156.5 L1255.5 154.9 L1257.0 153.5 L1258.5 152.0 L1260.0 150.7 L1261.5 149.4 L1263.0 148.1 L1264.5 147.0 L1266.0 145.8 L1267.5 144.7 L1269.0 143.7 L1270.5 142.6 L1272.0 141.6 L1273.5 140.6 L1275.0 139.6 L1276.5 138.7 L1278.0 137.8 L1279.5 136.8 L1281.0 136.0 L1282.5 135.1 L1284.0 134.2 L1285.5 133.3 L1287.0 132.5 L1288.5 131.6 L1290.0 130.8 L1291.5 129.9 L1293.0 129.0 L1294.5 128.2 L1296.0 127.4 L1297.5 126.5 L1299.0 125.7 L1300.5 124.9 L1302.0 124.1 L1303.5 123.4 L1305.0 122.6 L1306.5 121.9 L1308.0 121.2 L1309.5 120.6 L1311.0 120.0 L1312.5 119.4 L1314.0 118.8 L1315.5 118.2 L1317.0 117.6 L1318.5 117.0 L1320.0 116.4 L1321.5 115.9 L1323.0 115.4 L1324.5 114.9 L1326.0 114.5 L1327.5 114.1 L1329.0 113.8 L1330.5 113.5 L1332.0 113.4 L1333.5 113.2 L1335.0 113.1 L1336.5 113.0 L1338.0 112.8 L1339.5 112.7 L1341.0 112.6 L1342.5 112.5 L1344.0 112.5 L1345.5 112.4 L1347.0 112.3 L1348.5 112.3 L1350.0 112.2 L1351.5 112.2 L1353.0 112.2 L1354.5 112.2 L1356.0 112.3 L1357.5 112.3 L1359.0 112.4 L1360.5 112.6 L1362.0 112.7 L1363.5 112.9 L1365.0 113.0 L1366.5 113.2 L1368.0 113.4 L1369.5 113.6 L1371.0 113.8 L1372.5 114.0 L1374.0 114.3 L1375.5 114.5 L1377.0 114.8 L1378.5 115.1 L1380.0 115.4 L1381.5 115.8 L1383.0 116.2 L1384.5 116.6 L1386.0 117.1 L1387.5 117.6 L1389.0 118.1 L1390.5 118.6 L1392.0 119.1 L1393.5 119.7 L1395.0 120.2 L1396.5 120.8 L1398.0 121.5 L1399.5 122.2 L1401.0 122.9 L1402.5 123.7 L1404.0 124.6 L1405.5 125.5 L1407.0 126.4 L1408.5 127.3 L1410.0 128.2 L1411.5 129.2 L1413.0 130.2 L1414.5 131.2 L1416.0 132.1 L1417.5 133.1 L1419.0 134.2 L1420.5 135.2 L1422.0 136.3 L1423.5 137.4 L1425.0 138.6 L1426.5 139.8 L1428.0 141.0 L1429.5 142.3 L1431.0 143.6 L1432.5 144.9 L1434.0 146.3 L1435.5 147.7 L1437.0 149.1 L1438.5 150.5 L1440.0 152.0 L1441.5 153.5 L1443.0 155.0 L1444.5 156.6 L1446.0 158.1 L1447.5 159.7 L1449.0 161.2 L1450.5 162.8 L1452.0 164.4 L1453.5 166.1 L1455.0 167.7 L1456.5 169.4 L1458.0 171.1 L1459.5 172.9 L1461.0 174.6 L1462.5 176.4 L1464.0 178.2 L1465.5 180.0 L1467.0 181.8 L1468.5 183.6 L1470.0 185.4 L1471.5 187.3 L1473.0 189.1 L1474.5 191.0 L1476.0 192.9 L1477.5 194.8 L1479.0 196.7 L1480.5 198.7 L1482.0 200.6 L1483.5 202.6 L1485.0 204.6 L1486.5 206.6 L1488.0 208.6 L1489.5 210.6 L1491.0 212.7 L1492.5 214.7 L1494.0 216.8 L1495.5 218.9 L1497.0 221.0 L1498.5 223.1 L1500.0 225.2 L1501.5 227.3 L1503.0 229.4 L1504.5 231.5 L1506.0 233.6 L1507.5 235.7 L1509.0 237.8 L1510.5 240.0 L1512.0 242.1 L1513.5 244.3 L1515.0 246.4 L1516.5 248.6 L1518.0 250.9 L1519.5 253.2 L1521.0 255.5 L1522.5 257.9 L1524.0 260.2 L1525.5 262.6 L1527.0 264.9 L1528.5 267.2 L1530.0 269.5 L1531.5 271.6 L1533.0 273.7 L1534.5 275.6 L1536.0 277.6 L1537.5 279.5 L1539.0 281.5 L1540.5 283.5 L1542.0 285.6 L1543.5 287.8 L1545.0 290.1 L1546.5 292.4 L1548.0 294.6 L1549.5 296.8 L1551.0 298.9 L1552.5 300.8 L1554.0 302.5 L1555.5 304.2 L1557.0 305.8 L1558.5 307.4 L1560.0 308.8 L1561.5 310.2 L1563.0 311.4 L1564.5 312.5 L1566.0 313.5 L1567.5 314.4 L1569.0 315.4 L1570.5 316.3 L1572.0 317.1 L1573.5 317.7 L1575.0 318.0 L1576.5 318.1 L1578.0 317.9 L1579.5 317.5 L1581.0 317.0 L1582.5 316.4 L1584.0 315.7 L1585.5 315.0 L1587.0 314.2 L1588.5 313.5 L1590.0 312.8 L1591.5 312.1 L1593.0 311.4 L1594.5 310.7 L1596.0 309.9 L1597.5 309.1 L1599.0 308.3 L1600.5 307.5 L1602.0 306.6 L1603.5 305.9 L1605.0 305.1 L1606.5 304.3 L1608.0 303.6 L1609.5 303.0 L1611.0 302.3 L1612.5 301.6 L1614.0 300.9 L1615.5 300.2 L1617.0 299.5 L1618.5 298.8 L1620.0 298.1 L1621.5 297.5 L1623.0 296.8 L1624.5 296.2 L1626.0 295.5 L1627.5 294.9 L1629.0 294.3 L1630.5 293.7 L1632.0 293.2 L1633.5 292.6 L1635.0 292.1 L1636.5 291.6 L1638.0 291.2 L1639.5 290.7 L1641.0 290.3 L1642.5 289.9 L1644.0 289.5 L1645.5 289.0 L1647.0 288.6 L1648.5 288.2 L1650.0 287.8 L1651.5 287.4 L1653.0 287.1 L1654.5 286.8 L1656.0 286.6 L1657.5 286.4 L1659.0 286.3 L1660.5 286.2 L1662.0 286.2 L1663.5 286.3 L1665.0 286.3 L1666.5 286.3 L1668.0 286.3 L1669.5 286.3 L1671.0 286.3 L1672.5 286.4 L1674.0 286.4 L1675.5 286.4 L1677.0 286.5 L1678.5 286.5 L1680.0 286.6 L1681.5 286.6 L1683.0 286.7 L1684.5 286.7 L1686.0 286.8 L1687.5 286.8 L1689.0 286.9 L1690.5 287.0 L1692.0 287.1 L1693.5 287.1 L1695.0 287.2 L1696.5 287.4 L1698.0 287.6 L1699.5 288.0 L1701.0 288.4 L1702.5 288.9 L1704.0 289.4 L1705.5 290.0 L1707.0 290.6 L1708.5 291.3 L1710.0 292.0 L1711.5 292.8 L1713.0 293.6 L1714.5 294.4 L1716.0 295.2 L1717.5 296.0 L1719.0 296.8 L1720.5 297.6 L1722.0 298.4 L1723.5 299.2 L1725.0 299.9 L1726.5 300.7 L1728.0 301.4 L1729.5 302.1 L1731.0 302.8 L1732.5 303.7 L1734.0 304.5 L1735.5 305.4 L1737.0 306.3 L1738.5 307.3 L1740.0 308.2 L1741.5 309.2 L1743.0 310.1 L1744.5 311.1 L1746.0 312.0 L1747.5 312.8 L1749.0 313.6 L1750.5 314.4 L1752.0 315.1 L1753.5 315.7 L1755.0 316.2 L1756.5 316.7 L1758.0 317.0 L1759.5 317.3 L1761.0 317.4 L1762.5 317.4 L1764.0 317.1 L1765.5 316.8 L1767.0 316.2 L1768.5 315.6 L1770.0 314.8 L1771.5 313.8 L1773.0 312.8 L1774.5 311.7 L1776.0 310.6 L1777.5 309.3 L1779.0 308.1 L1780.5 306.8 L1782.0 305.5 L1783.5 304.3 L1785.0 303.0 L1786.5 301.8 L1788.0 300.7 L1789.5 299.6 L1791.0 298.6 L1792.5 297.7 L1794.0 296.9 L1795.5 296.2 L1797.0 295.6 L1798.5 295.0 L1800.0 294.4 L1801.5 293.7 L1803.0 293.1 L1804.5 292.5 L1806.0 291.9 L1807.5 291.3 L1809.0 290.7 L1810.5 290.2 L1812.0 289.7 L1813.5 289.2 L1815.0 288.8 L1816.5 288.4 L1818.0 288.0 L1819.5 287.7 L1821.0 287.5 L1822.5 287.3 L1824.0 287.2 L1825.5 287.2 L1827.0 287.2 L1828.5 287.3 L1830.0 287.4 L1831.5 287.7 L1833.0 288.0 L1834.5 288.3 L1836.0 288.8 L1837.5 289.2 L1839.0 289.8 L1840.5 290.4 L1842.0 291.1 L1843.5 291.8 L1845.0 292.6 L1846.5 293.4 L1848.0 294.3 L1849.5 295.2 L1851.0 296.2 L1852.5 297.3 L1854.0 298.4 L1855.5 299.5 L1857.0 300.7" stroke="#00ffff" stroke-width="13" fill="none" stroke-linejoin="round"/>
<path d="M948.4 279.4 L949.9 279.3 L951.4 279.1 L952.9 279.0 L954.4 278.9 L955.9 278.9 L957.4 278.8 L958.9 278.7 L960.4 278.7 L961.9 278.6 L963.4 278.6 L964.9 278.6 L966.4 278.5 L967.9 278.5 L969.4 278.5 L970.9 278.5 L972.4 278.5 L973.9 278.5 L975.4 278.5 L976.9 278.5 L978.4 278.5 L979.9 278.5 L981.4 278.5 L982.9 278.6 L984.4 278.7 L985.9 278.8 L987.4 279.0 L988.9 279.2 L990.5 279.5 L992.0 279.7 L993.5 280.0 L995.0 280.2 L996.5 280.5 L998.0 280.7 L999.5 281.0 L1001.0 281.2 L1002.5 281.4 L1004.0 281.6 L1005.5 281.7 L1007.0 281.8 L1008.5 281.9 L1010.0 282.0 L1011.5 282.0 L1013.0 282.1 L1014.5 282.1 L1016.0 282.2 L1017.5 282.2 L1019.0 282.3 L1020.5 282.3 L1022.0 282.4 L1023.5 282.4 L1025.0 282.4 L1026.5 282.5 L1028.0 282.5 L1029.5 282.5 L1031.0 282.5 L1032.5 282.6 L1034.0 282.6 L1035.5 282.6 L1037.0 282.6 L1038.5 282.6 L1040.0 282.5 L1041.5 282.5 L1043.0 282.4 L1044.5 282.2 L1046.0 282.1 L1047.5 281.9 L1049.0 281.7 L1050.5 281.4 L1052.0 281.2 L1053.5 280.9 L1055.0 280.6 L1056.5 280.3 L1058.0 279.9 L1059.5 279.6 L1061.0 279.2 L1062.5 278.8 L1064.0 278.5 L1065.5 278.0 L1067.0 277.6 L1068.5 277.2 L1070.0 276.7 L1071.5 276.1 L1073.1 275.4 L1074.6 274.5 L1076.1 273.6 L1077.6 272.7 L1079.1 271.6 L1080.6 270.5 L1082.1 269.4 L1083.6 268.3 L1085.1 267.1 L1086.6 265.9 L1088.1 264.7 L1089.6 263.6 L1091.1 262.4 L1092.6 261.3 L1094.1 260.2 L1095.6 259.1 L1097.1 257.9 L1098.6 256.7 L1100.1 255.5 L1101.6 254.3 L1103.1 253.0 L1104.6 251.8 L1106.1 250.5 L1107.6 249.2 L1109.1 247.9 L1110.6 246.6 L1112.1 245.3 L1113.6 243.9 L1115.1 242.6 L1116.6 241.3 L1118.1 239.9 L1119.6 238.6 L1121.1 237.2 L1122.6 235.8 L1124.1 234.4 L1125.6 233.0 L1127.1 231.5 L1128.6 230.1 L1130.1 228.6 L1131.6 227.2 L1133.1 225.7 L1134.6 224.2 L1136.1 222.8 L1137.6 221.3 L1139.1 219.8 L1140.6 218.3 L1142.1 216.8 L1143.6 215.2 L1145.1 213.7 L1146.6 212.1 L1148.1 210.5 L1149.6 209.0 L1151.1 207.4 L1152.6 205.8 L1154.1 204.3 L1155.7 202.7 L1157.2 201.2 L1158.7 199.7 L1160.2 198.2 L1161.7 196.7 L1163.2 195.2 L1164.7 193.7 L1166.2 192.2 L1167.7 190.7 L1169.2 189.3 L1170.7 187.8 L1172.2 186.3 L1173.7 184.9 L1175.2 183.5 L1176.7 182.0 L1178.2 180.6 L1179.7 179.3 L1181.2 177.9 L1182.7 176.6 L1184.2 175.3 L1185.7 174.0 L1187.2 172.7 L1188.7 171.5 L1190.2 170.2 L1191.7 169.0 L1193.2 167.8 L1194.7 166.5 L1196.2 165.3 L1197.7 164.1 L1199.2 163.0 L1200.7 161.8 L1202.2 160.6 L1203.7 159.5 L1205.2 158.3 L1206.7 157.1 L1208.2 156.0 L1209.7 154.8 L1211.2 153.7 L1212.7 152.5 L1214.2 151.4 L1215.7 150.2 L1217.2 149.1 L1218.7 148.0 L1220.2 146.9 L1221.7 145.8 L1223.2 144.8 L1224.7 143.8 L1226.2 142.8 L1227.7 141.8 L1229.2 140.9 L1230.7 140.0 L1232.2 139.1 L1233.7 138.3 L1235.2 137.4 L1236.7 136.6 L1238.3 135.8 L1239.8 135.0 L1241.3 134.3 L1242.8 133.5 L1244.3 132.8 L1245.8 132.1 L1247.3 131.3 L1248.8 130.6 L1250.3 129.9 L1251.8 129.3 L1253.3 128.6 L1254.8 127.9 L1256.3 127.2 L1257.8 126.6 L1259.3 125.9 L1260.8 125.2 L1262.3 124.6 L1263.8 123.9 L1265.3 123.2 L1266.8 122.6 L1268.3 121.9 L1269.8 121.3 L1271.3 120.7 L1272.8 120.1 L1274.3 119.5 L1275.8 118.9 L1277.3 118.3 L1278.8 117.8 L1280.3 117.3 L1281.8 116.8 L1283.3 116.4 L1284.8 116.0 L1286.3 115.6 L1287.8 115.2 L1289.3 114.8 L1290.8 114.4 L1292.3 114.1 L1293.8 113.7 L1295.3 113.3 L1296.8 113.0 L1298.3 112.7 L1299.8 112.3 L1301.3 112.0 L1302.8 111.7 L1304.3 111.5 L1305.8 111.2 L1307.3 111.0 L1308.8 110.7 L1310.3 110.5 L1311.8 110.4 L1313.3 110.2 L1314.8 110.1 L1316.3 109.9 L1317.8 109.8 L1319.3 109.7 L1320.9 109.5 L1322.4 109.4 L1323.9 109.3 L1325.4 109.2 L1326.9 109.1 L1328.4 109.1 L1329.9 109.0 L1331.4 109.0 L1332.9 109.0 L1334.4 109.0 L1335.9 109.0 L1337.4 109.1 L1338.9 109.1 L1340.4 109.1 L1341.9 109.2 L1343.4 109.2 L1344.9 109.3 L1346.4 109.3 L1347.9 109.4 L1349.4 109.4 L1350.9 109.5 L1352.4 109.6 L1353.9 109.6 L1355.4 109.7 L1356.9 109.8 L1358.4 109.9 L1359.9 110.0 L1361.4 110.1 L1362.9 110.2 L1364.4 110.3 L1365.9 110.4 L1367.4 110.6 L1368.9 110.7 L1370.4 110.8 L1371.9 111.0 L1373.4 111.1 L1374.9 111.3 L1376.4 111.4 L1377.9 111.6 L1379.4 111.8 L1380.9 112.0 L1382.4 112.2 L1383.9 112.5 L1385.4 112.7 L1386.9 112.9 L1388.4 113.2 L1389.9 113.5 L1391.4 113.7 L1392.9 114.0 L1394.4 114.3 L1395.9 114.6 L1397.4 114.9 L1398.9 115.2 L1400.4 115.6 L1401.9 115.9 L1403.5 116.2 L1405.0 116.6 L1406.5 117.0 L1408.0 117.4 L1409.5 117.8 L1411.0 118.2 L1412.5 118.6 L1414.0 119.1 L1415.5 119.6 L1417.0 120.1 L1418.5 120.6 L1420.0 121.1 L1421.5 121.6 L1423.0 122.2 L1424.5 122.7 L1426.0 123.3 L1427.5 123.9 L1429.0 124.4 L1430.5 125.0 L1432.0 125.6 L1433.5 126.2 L1435.0 126.8 L1436.5 127.5 L1438.0 128.1 L1439.5 128.8 L1441.0 129.5 L1442.5 130.2 L1444.0 130.9 L1445.5 131.6 L1447.0 132.4 L1448.5 133.2 L1450.0 134.0 L1451.5 134.8 L1453.0 135.6 L1454.5 136.5 L1456.0 137.3 L1457.5 138.2 L1459.0 139.1 L1460.5 140.0 L1462.0 140.9 L1463.5 141.9 L1465.0 142.8 L1466.5 143.8 L1468.0 144.9 L1469.5 145.9 L1471.0 147.0 L1472.5 148.1 L1474.0 149.2 L1475.5 150.4 L1477.0 151.5 L1478.5 152.7 L1480.0 153.9 L1481.5 155.0 L1483.0 156.2 L1484.5 157.4 L1486.1 158.6 L1487.6 159.8 L1489.1 161.0 L1490.6 162.3 L1492.1 163.5 L1493.6 164.7 L1495.1 166.0 L1496.6 167.3 L1498.1 168.6 L1499.6 169.9 L1501.1 171.2 L1502.6 172.5 L1504.1 173.8 L1505.6 175.2 L1507.1 176.5 L1508.6 177.8 L1510.1 179.2 L1511.6 180.5 L1513.1 181.9 L1514.6 183.3 L1516.1 184.7 L1517.6 186.1 L1519.1 187.5 L1520.6 188.9 L1522.1 190.3 L1523.6 191.8 L1525.1 193.2 L1526.6 194.6 L1528.1 196.1 L1529.6 197.5 L1531.1 199.0 L1532.6 200.4 L1534.1 201.9 L1535.6 203.4 L1537.1 204.9 L1538.6 206.4 L1540.1 207.9 L1541.6 209.4 L1543.1 210.9 L1544.6 212.4 L1546.1 213.9 L1547.6 215.4 L1549.1 216.9 L1550.6 218.4 L1552.1 219.9 L1553.6 221.3 L1555.1 222.8 L1556.6 224.3 L1558.1 225.8 L1559.6 227.3 L1561.1 228.8 L1562.6 230.3 L1564.1 231.8 L1565.6 233.3 L1567.1 234.8 L1568.7 236.2 L1570.2 237.7 L1571.7 239.1 L1573.2 240.5 L1574.7 241.8 L1576.2 243.2 L1577.7 244.5 L1579.2 245.8 L1580.7 247.2 L1582.2 248.5 L1583.7 249.8 L1585.2 251.0 L1586.7 252.3 L1588.2 253.5 L1589.7 254.8 L1591.2 256.0 L1592.7 257.2 L1594.2 258.3 L1595.7 259.5 L1597.2 260.6 L1598.7 261.6 L1600.2 262.7 L1601.7 263.8 L1603.2 264.9 L1604.7 266.0 L1606.2 267.0 L1607.7 268.1 L1609.2 269.1 L1610.7 270.2 L1612.2 271.1 L1613.7 272.1 L1615.2 273.0 L1616.7 273.9 L1618.2 274.7 L1619.7 275.4 L1621.2 276.1 L1622.7 276.8 L1624.2 277.4 L1625.7 277.9 L1627.2 278.5 L1628.7 279.0 L1630.2 279.5 L1631.7 280.1 L1633.2 280.6 L1634.7 281.0 L1636.2 281.5 L1637.7 282.0 L1639.2 282.4 L1640.7 282.8 L1642.2 283.2 L1643.7 283.6 L1645.2 283.9 L1646.7 284.2 L1648.2 284.5 L1649.7 284.7 L1651.3 285.0 L1652.8 285.1 L1654.3 285.3 L1655.8 285.4 L1657.3 285.5 L1658.8 285.6 L1660.3 285.7 L1661.8 285.8 L1663.3 285.8 L1664.8 285.9 L1666.3 286.0 L1667.8 286.1 L1669.3 286.1 L1670.8 286.2 L1672.3 286.3 L1673.8 286.3 L1675.3 286.4 L1676.8 286.4 L1678.3 286.4 L1679.8 286.4 L1681.3 286.5 L1682.8 286.5 L1684.3 286.5 L1685.8 286.4 L1687.3 286.4 L1688.8 286.2 L1690.3 286.1 L1691.8 285.9 L1693.3 285.6 L1694.8 285.4 L1696.3 285.1 L1697.8 284.8 L1699.3 284.5 L1700.8 284.2 L1702.3 283.9 L1703.8 283.6 L1705.3 283.2 L1706.8 282.9 L1708.3 282.6 L1709.8 282.4 L1711.3 282.1 L1712.8 281.9 L1714.3 281.7 L1715.8 281.4 L1717.3 281.2 L1718.8 280.9 L1720.3 280.7 L1721.8 280.4 L1723.3 280.2 L1724.8 279.9 L1726.3 279.7 L1727.8 279.4 L1729.3 279.2 L1730.8 279.0 L1732.3 278.8 L1733.9 278.6 L1735.4 278.4 L1736.9 278.3 L1738.4 278.2 L1739.9 278.1 L1741.4 278.0 L1742.9 278.0 L1744.4 278.0 L1745.9 278.1 L1747.4 278.2 L1748.9 278.3 L1750.4 278.4 L1751.9 278.6 L1753.4 278.9 L1754.9 279.1 L1756.4 279.4 L1757.9 279.7 L1759.4 280.0 L1760.9 280.3 L1762.4 280.7 L1763.9 281.0 L1765.4 281.4 L1766.9 281.8 L1768.4 282.2 L1769.9 282.5 L1771.4 282.9 L1772.9 283.3 L1774.4 283.7 L1775.9 284.1 L1777.4 284.5 L1778.9 285.0 L1780.4 285.5 L1781.9 286.1 L1783.4 286.6 L1784.9 287.2 L1786.4 287.8 L1787.9 288.4 L1789.4 289.1 L1790.9 289.7 L1792.4 290.4 L1793.9 291.0 L1795.4 291.7 L1796.9 292.4 L1798.4 293.0 L1799.9 293.6 L1801.4 294.3 L1802.9 294.9 L1804.4 295.5 L1805.9 296.2 L1807.4 296.9 L1808.9 297.6 L1810.4 298.3 L1811.9 299.0 L1813.4 299.7 L1814.9 300.4 L1816.5 301.1 L1818.0 301.8 L1819.5 302.4 L1821.0 303.1 L1822.5 303.7 L1824.0 304.2 L1825.5 304.7 L1827.0 305.2 L1828.5 305.7 L1830.0 306.0 L1831.5 306.4 L1833.0 306.7 L1834.5 307.1 L1836.0 307.4 L1837.5 307.7 L1839.0 308.1 L1840.5 308.4 L1842.0 308.7 L1843.5 308.9 L1845.0 309.2 L1846.5 309.4 L1848.0 309.7 L1849.5 309.9 L1851.0 310.0 L1852.5 310.2 L1854.0 310.3 L1855.5 310.4 L1857.0 310.5" stroke="#00ffff" stroke-width="18" fill="none" stroke-dasharray="16 14"/>
<text class="tk" text-anchor="middle" transform="translate(294.25 394.00) scale(1 1.045)">-1</text>
<text class="tk" text-anchor="middle" transform="translate(479.75 394.00) scale(1 1.045)">0</text>
<text class="tk" text-anchor="middle" transform="translate(661.25 394.00) scale(1 1.045)">1</text>
<text class="tk" text-anchor="middle" transform="translate(846.25 394.00) scale(1 1.045)">2</text>
<text class="tk" text-anchor="middle" transform="translate(1029.75 394.00) scale(1 1.045)">3</text>
<text class="tk" text-anchor="middle" transform="translate(1213.25 394.00) scale(1 1.045)">4</text>
<text class="tk" text-anchor="middle" transform="translate(1396.75 394.00) scale(1 1.045)">5</text>
<text class="tk" text-anchor="middle" transform="translate(1580.25 394.00) scale(1 1.045)">6</text>
<text class="tk" text-anchor="middle" transform="translate(1763.75 394.00) scale(1 1.045)">7</text>
<text class="tk" text-anchor="end" transform="translate(191.60 354.90) scale(1 1.045)">0</text>
<text class="tk" text-anchor="end" transform="translate(193.60 240.40) scale(1 1.045)">0.5</text>
<text class="tk" text-anchor="end" transform="translate(189.10 125.90) scale(1 1.045)">1</text>
<text class="ti" x="1032.5" y="83.7" text-anchor="middle">Receiver Mode</text>
<text class="lx" font-style="italic" transform="translate(858.53 466.60) scale(1.134 0.982)">L</text>
<text class="lx" transform="translate(920.32 471.14) scale(1.421 0.916)">=</text>
<text class="lx" transform="translate(1001.24 467.93) scale(0.921 1.071)">(</text>
<text class="lx" font-style="italic" transform="translate(1025.31 466.04) scale(1.147 0.935)">ϕ</text>
<text class="lx" font-style="italic" transform="translate(1070.59 467.56) scale(0.997 0.965)">ρ</text>
<text class="lx" transform="translate(1105.77 467.93) scale(0.916 1.071)">)</text>
<text class="lx" transform="translate(1135.30 484.00) scale(1.435 1.443)">/</text>
<text class="lx" font-style="italic" transform="translate(1172.31 467.70) scale(1.156 0.967)">λ</text>
<text class="lx" transform="translate(101.81 320.00) rotate(-90) scale(1.000 1.075)">|</text>
<text class="lx" font-style="italic" transform="translate(101.40 300.30) rotate(-90) scale(1.200 1.010)">P</text>
<text class="lx" font-style="italic" transform="translate(102.80 245.05) rotate(-90) scale(1.250 1.082)">S</text>
<text class="lx" font-style="italic" transform="translate(101.40 197.10) rotate(-90) scale(1.131 1.010)">F</text>
<text class="lx" transform="translate(101.81 140.55) rotate(-90) scale(0.950 1.075)">|</text>
<g fill="none" stroke="#262626" stroke-width="3.5">
<rect x="205.5" y="588.25" width="1651.5" height="229.0"/>
<path d="M297.25 588.25V604.75M297.25 817.25V800.75"/>
<path d="M480.75 588.25V604.75M480.75 817.25V800.75"/>
<path d="M664.25 588.25V604.75M664.25 817.25V800.75"/>
<path d="M847.75 588.25V604.75M847.75 817.25V800.75"/>
<path d="M1031.25 588.25V604.75M1031.25 817.25V800.75"/>
<path d="M1214.75 588.25V604.75M1214.75 817.25V800.75"/>
<path d="M1398.25 588.25V604.75M1398.25 817.25V800.75"/>
<path d="M1581.75 588.25V604.75M1581.75 817.25V800.75"/>
<path d="M1765.25 588.25V604.75M1765.25 817.25V800.75"/>
<path d="M205.50 817.25H222.00M1857.00 817.25H1840.50"/>
<path d="M205.50 702.75H222.00M1857.00 702.75H1840.50"/>
<path d="M205.50 588.25H222.00M1857.00 588.25H1840.50"/>
</g>
<path d="M205.5 811.1 L207.0 810.2 L208.5 809.2 L210.0 808.4 L211.5 807.5 L213.0 806.6 L214.5 805.8 L216.0 805.0 L217.5 804.2 L219.0 803.5 L220.5 802.8 L222.0 802.1 L223.5 801.4 L225.0 800.8 L226.5 800.2 L228.0 799.6 L229.5 799.1 L231.0 798.6 L232.5 798.1 L234.0 797.6 L235.5 797.1 L237.0 796.6 L238.5 796.1 L240.0 795.6 L241.5 795.2 L243.0 794.7 L244.5 794.3 L246.0 793.9 L247.5 793.6 L249.0 793.2 L250.5 793.0 L252.0 792.7 L253.5 792.5 L255.0 792.4 L256.5 792.3 L258.0 792.3 L259.5 792.4 L261.0 792.7 L262.5 793.1 L264.0 793.6 L265.5 794.3 L267.0 795.0 L268.5 795.9 L270.0 796.8 L271.5 797.7 L273.0 798.7 L274.5 799.8 L276.0 800.8 L277.5 801.8 L279.0 802.9 L280.5 803.9 L282.0 805.1 L283.5 806.6 L285.0 808.2 L286.5 809.9 L288.0 811.7 L289.5 813.3 L291.0 814.8 L292.5 816.0 L294.0 816.8 L295.5 817.2 L297.0 817.1 L298.5 816.5 L300.0 815.5 L301.5 814.2 L303.0 812.7 L304.5 810.9 L306.0 809.1 L307.5 807.4 L309.0 805.7 L310.5 804.2 L312.0 802.6 L313.5 801.0 L315.0 799.4 L316.5 797.8 L318.0 796.2 L319.5 794.6 L321.0 793.0 L322.5 791.6 L324.0 790.1 L325.5 788.6 L327.0 787.2 L328.5 785.7 L330.0 784.3 L331.5 783.0 L333.0 781.8 L334.5 780.8 L336.0 779.9 L337.5 779.1 L339.0 778.3 L340.5 777.6 L342.0 776.8 L343.5 776.1 L345.0 775.5 L346.5 774.9 L348.0 774.4 L349.5 774.1 L351.0 773.8 L352.5 773.7 L354.0 773.8 L355.5 774.2 L357.0 774.8 L358.5 775.5 L360.0 776.5 L361.5 777.5 L363.0 778.7 L364.5 779.9 L366.0 781.2 L367.5 782.5 L369.0 783.8 L370.5 785.5 L372.0 787.5 L373.5 789.6 L375.0 791.8 L376.5 794.1 L378.0 796.3 L379.5 798.3 L381.0 800.2 L382.5 802.4 L384.0 804.7 L385.5 806.9 L387.0 808.7 L388.5 809.9 L390.0 810.4 L391.5 810.1 L393.0 809.4 L394.5 808.4 L396.0 807.0 L397.5 805.3 L399.0 803.5 L400.5 800.7 L402.0 796.5 L403.5 791.5 L405.0 785.8 L406.5 778.5 L408.0 771.1 L409.5 765.0 L411.0 759.3 L412.5 753.9 L414.0 748.6 L415.5 743.4 L417.0 738.0 L418.5 732.5 L420.0 727.0 L421.5 721.5 L423.0 716.1 L424.5 710.8 L426.0 705.7 L427.5 700.8 L429.0 696.1 L430.5 691.4 L432.0 686.8 L433.5 682.3 L435.0 677.8 L436.5 673.4 L438.0 669.0 L439.5 664.7 L441.0 660.4 L442.5 656.1 L444.0 651.9 L445.5 647.8 L447.0 643.6 L448.5 639.3 L450.0 634.8 L451.5 630.3 L453.0 625.9 L454.5 621.8 L456.0 618.1 L457.5 614.8 L459.0 612.4 L460.5 610.8 L462.0 609.2 L463.5 607.6 L465.0 606.0 L466.5 604.4 L468.0 602.8 L469.5 601.2 L471.0 599.6 L472.5 598.0 L474.0 596.4 L475.5 594.8 L477.0 593.2 L478.5 591.6 L480.0 590.0 L481.5 588.4 L483.0 588.7 L484.5 590.4 L486.0 592.0 L487.5 593.7 L489.0 595.3 L490.5 597.0 L492.0 598.6 L493.5 600.3 L495.0 601.9 L496.5 603.6 L498.0 605.2 L499.5 606.9 L501.0 608.5 L502.5 610.2 L504.0 611.8 L505.5 613.8 L507.0 616.2 L508.5 618.8 L510.0 621.6 L511.5 624.6 L513.0 627.8 L514.5 631.2 L516.0 634.7 L517.5 638.4 L519.0 642.2 L520.5 646.1 L522.0 650.6 L523.5 655.4 L525.0 660.6 L526.5 666.0 L528.0 671.3 L529.5 676.4 L531.0 681.4 L532.5 686.4 L534.0 691.4 L535.5 696.4 L537.0 701.4 L538.5 706.4 L540.0 711.3 L541.5 716.2 L543.0 721.0 L544.5 725.9 L546.0 731.0 L547.5 736.2 L549.0 741.8 L550.5 747.9 L552.0 754.2 L553.5 760.4 L555.0 766.4 L556.5 771.9 L558.0 777.2 L559.5 782.2 L561.0 786.9 L562.5 791.2 L564.0 795.6 L565.5 800.3 L567.0 804.8 L568.5 809.0 L570.0 812.6 L571.5 815.3 L573.0 816.9 L574.5 817.2 L576.0 815.8 L577.5 813.1 L579.0 809.4 L580.5 804.9 L582.0 800.0 L583.5 794.9 L585.0 790.0 L586.5 785.5 L588.0 781.7 L589.5 779.0 L591.0 777.2 L592.5 775.6 L594.0 774.0 L595.5 772.6 L597.0 771.2 L598.5 769.9 L600.0 768.7 L601.5 767.7 L603.0 766.8 L604.5 766.1 L606.0 765.6 L607.5 765.3 L609.0 765.3 L610.5 765.5 L612.0 765.9 L613.5 766.5 L615.0 767.4 L616.5 768.3 L618.0 769.5 L619.5 770.7 L621.0 772.0 L622.5 773.4 L624.0 774.9 L625.5 776.3 L627.0 777.8 L628.5 779.2 L630.0 780.6 L631.5 782.1 L633.0 783.9 L634.5 785.8 L636.0 788.0 L637.5 790.3 L639.0 792.8 L640.5 795.3 L642.0 797.8 L643.5 800.4 L645.0 802.9 L646.5 805.3 L648.0 807.6 L649.5 809.7 L651.0 811.7 L652.5 813.4 L654.0 814.9 L655.5 816.0 L657.0 816.8 L658.5 817.2 L660.0 817.2 L661.5 816.8 L663.0 816.0 L664.5 814.9 L666.0 813.5 L667.5 811.9 L669.0 810.1 L670.5 808.2 L672.0 806.2 L673.5 804.2 L675.0 802.1 L676.5 800.1 L678.0 798.3 L679.5 796.5 L681.0 794.9 L682.5 793.6 L684.0 792.6 L685.5 791.8 L687.0 791.2 L688.5 790.5 L690.0 789.9 L691.5 789.3 L693.0 788.7 L694.5 788.2 L696.0 787.6 L697.5 787.2 L699.0 786.7 L700.5 786.3 L702.0 786.0 L703.5 785.8 L705.0 785.6 L706.5 785.5 L708.0 785.4 L709.5 785.5 L711.0 785.9 L712.5 786.4 L714.0 787.1 L715.5 787.9 L717.0 788.9 L718.5 789.9 L720.0 791.1 L721.5 792.2 L723.0 793.5 L724.5 794.7 L726.0 795.9 L727.5 797.1 L729.0 798.2 L730.5 799.3 L732.0 800.5 L733.5 801.8 L735.0 803.2 L736.5 804.7 L738.0 806.2 L739.5 807.8 L741.0 809.3 L742.5 810.8 L744.0 812.3 L745.5 813.6 L747.0 814.7 L748.5 815.7 L750.0 816.5 L751.5 817.0 L753.0 817.2 L754.5 817.1 L756.0 816.4 L757.5 815.3 L759.0 813.8 L760.5 812.0 L762.0 810.0 L763.5 807.9 L765.0 805.8 L766.5 803.8 L768.0 802.1 L769.5 800.5 L771.0 799.4 L772.5 798.7 L774.0 798.2 L775.5 797.7 L777.0 797.2 L778.5 796.7 L780.0 796.2 L781.5 795.8 L783.0 795.5 L784.5 795.1 L786.0 794.9 L787.5 794.6 L789.0 794.5 L790.5 794.4 L792.0 794.4 L793.5 794.4 L795.0 794.5 L796.5 794.8 L798.0 795.0 L799.5 795.4 L801.0 795.8 L802.5 796.3 L804.0 796.8 L805.5 797.4 L807.0 798.0 L808.5 798.6 L810.0 799.3 L811.5 799.9 L813.0 800.6 L814.5 801.2 L816.0 801.9 L817.5 802.5 L819.0 803.1 L820.5 803.7 L822.0 804.3 L823.5 805.1 L825.0 805.8 L826.5 806.7 L828.0 807.6 L829.5 808.4 L831.0 809.3 L832.5 810.2 L834.0 811.1 L835.5 812.0 L837.0 812.8 L838.5 813.5 L840.0 814.2 L841.5 814.7 L843.0 815.2 L844.5 815.6 L846.0 815.8 L847.5 815.9 L849.0 815.8 L850.5 815.6 L852.0 815.4 L853.5 815.0 L855.0 814.5 L856.5 814.0 L858.0 813.3 L859.5 812.7 L861.0 812.0 L862.5 811.2 L864.0 810.4 L865.5 809.7 L867.0 808.9 L868.5 808.1 L870.0 807.3 L871.5 806.6 L873.0 805.9 L874.5 805.3 L876.0 804.7 L877.5 804.2 L879.0 803.7 L880.5 803.4 L882.0 803.1 L883.5 802.8 L885.0 802.5 L886.5 802.1 L888.0 801.8 L889.5 801.5 L891.0 801.3 L892.5 801.0 L894.0 800.7 L895.5 800.4 L897.0 800.2 L898.5 800.0 L900.0 799.8 L901.5 799.6 L903.0 799.4 L904.5 799.3 L906.0 799.1 L907.5 799.0 L909.0 799.0 L910.5 798.9 L912.0 798.9 L913.5 798.9 L915.0 799.0 L916.5 799.0 L918.0 799.0 L919.5 799.1 L921.0 799.2 L922.5 799.2 L924.0 799.3 L925.5 799.4 L927.0 799.5 L928.5 799.6 L930.0 799.7 L931.5 799.8 L933.0 799.9 L934.5 800.0 L936.0 800.1 L937.5 800.2 L939.0 800.3 L940.5 800.4 L942.0 800.5 L943.5 800.6 L945.0 800.7 L946.5 800.8 L948.0 800.9 L949.5 800.9 L951.0 801.0 L952.5 801.1 L954.0 801.1 L955.5 801.2 L957.0 801.2 L958.5 801.2 L960.0 801.2 L961.5 801.2 L963.0 801.2 L964.5 801.2 L966.0 801.2 L967.5 801.2 L969.0 801.2 L970.5 801.1 L972.0 801.1 L973.5 801.1 L975.0 801.1 L976.5 801.1 L978.0 801.0 L979.5 801.0 L981.0 801.0 L982.5 801.0 L984.0 800.9 L985.5 800.9 L987.0 800.9 L988.5 800.9 L990.0 800.8 L991.5 800.8 L993.0 800.8 L994.5 800.8 L996.0 800.8 L997.5 800.8 L999.0 800.8 L1000.5 800.8 L1002.0 800.8 L1003.5 800.9 L1005.0 801.1 L1006.5 801.3 L1008.0 801.6 L1009.5 801.9 L1011.0 802.3 L1012.5 802.7 L1014.0 803.1 L1015.5 803.5 L1017.0 804.0 L1018.5 804.5 L1020.0 805.0 L1021.5 805.5 L1023.0 806.0 L1024.5 806.5 L1026.0 806.9 L1027.5 807.4 L1029.0 807.8 L1030.5 808.2 L1032.0 808.6 L1033.5 808.9 L1035.0 809.2 L1036.5 809.5 L1038.0 809.8 L1039.5 810.1 L1041.0 810.4 L1042.5 810.7 L1044.0 811.1 L1045.5 811.4 L1047.0 811.7 L1048.5 812.0 L1050.0 812.3 L1051.5 812.5 L1053.0 812.8 L1054.5 813.1 L1056.0 813.3 L1057.5 813.5 L1059.0 813.7 L1060.5 813.9 L1062.0 814.0 L1063.5 814.1 L1065.0 814.2 L1066.5 814.3 L1068.0 814.3 L1069.5 814.3 L1071.0 814.3 L1072.5 814.2 L1074.0 814.2 L1075.5 814.2 L1077.0 814.1 L1078.5 814.1 L1080.0 814.0 L1081.5 813.9 L1083.0 813.9 L1084.5 813.8 L1086.0 813.7 L1087.5 813.6 L1089.0 813.5 L1090.5 813.4 L1092.0 813.3 L1093.5 813.2 L1095.0 813.1 L1096.5 813.0 L1098.0 812.9 L1099.5 812.7 L1101.0 812.6 L1102.5 812.5 L1104.0 812.3 L1105.5 812.2 L1107.0 812.1 L1108.5 811.9 L1110.0 811.8 L1111.5 811.7 L1113.0 811.5 L1114.5 811.4 L1116.0 811.3 L1117.5 811.1 L1119.0 811.0 L1120.5 810.8 L1122.0 810.6 L1123.5 810.4 L1125.0 810.1 L1126.5 809.9 L1128.0 809.6 L1129.5 809.3 L1131.0 809.0 L1132.5 808.7 L1134.0 808.4 L1135.5 808.1 L1137.0 807.8 L1138.5 807.5 L1140.0 807.2 L1141.5 806.9 L1143.0 806.6 L1144.5 806.3 L1146.0 806.0 L1147.5 805.8 L1149.0 805.5 L1150.5 805.3 L1152.0 805.2 L1153.5 805.0 L1155.0 804.9 L1156.5 804.8 L1158.0 804.7 L1159.5 804.7 L1161.0 804.7 L1162.5 804.7 L1164.0 804.8 L1165.5 804.9 L1167.0 805.0 L1168.5 805.2 L1170.0 805.4 L1171.5 805.6 L1173.0 805.8 L1174.5 806.1 L1176.0 806.3 L1177.5 806.6 L1179.0 806.9 L1180.5 807.2 L1182.0 807.5 L1183.5 807.8 L1185.0 808.1 L1186.5 808.4 L1188.0 808.7 L1189.5 809.0 L1191.0 809.3 L1192.5 809.6 L1194.0 809.9 L1195.5 810.2 L1197.0 810.4 L1198.5 810.6 L1200.0 810.8 L1201.5 811.0 L1203.0 811.2 L1204.5 811.4 L1206.0 811.6 L1207.5 811.9 L1209.0 812.1 L1210.5 812.3 L1212.0 812.5 L1213.5 812.7 L1215.0 812.9 L1216.5 813.2 L1218.0 813.4 L1219.5 813.6 L1221.0 813.8 L1222.5 814.0 L1224.0 814.2 L1225.5 814.4 L1227.0 814.6 L1228.5 814.8 L1230.0 815.0 L1231.5 815.2 L1233.0 815.4 L1234.5 815.6 L1236.0 815.8 L1237.5 815.9 L1239.0 816.1 L1240.5 816.2 L1242.0 816.4 L1243.5 816.5 L1245.0 816.6 L1246.5 816.8 L1248.0 816.9 L1249.5 816.9 L1251.0 817.0 L1252.5 817.1 L1254.0 817.2 L1255.5 817.2 L1257.0 817.2 L1258.5 817.2 L1260.0 817.2 L1261.5 817.2 L1263.0 817.2 L1264.5 817.1 L1266.0 817.0 L1267.5 816.9 L1269.0 816.8 L1270.5 816.7 L1272.0 816.5 L1273.5 816.4 L1275.0 816.2 L1276.5 816.0 L1278.0 815.9 L1279.5 815.7 L1281.0 815.5 L1282.5 815.3 L1284.0 815.1 L1285.5 814.9 L1287.0 814.7 L1288.5 814.5 L1290.0 814.3 L1291.5 814.1 L1293.0 813.9 L1294.5 813.7 L1296.0 813.5 L1297.5 813.4 L1299.0 813.2 L1300.5 813.1 L1302.0 813.0 L1303.5 812.9 L1305.0 812.8 L1306.5 812.7 L1308.0 812.7 L1309.5 812.7 L1311.0 812.7 L1312.5 812.7 L1314.0 812.7 L1315.5 812.7 L1317.0 812.7 L1318.5 812.7 L1320.0 812.7 L1321.5 812.7 L1323.0 812.7 L1324.5 812.7 L1326.0 812.7 L1327.5 812.8 L1329.0 812.8 L1330.5 812.8 L1332.0 812.8 L1333.5 812.8 L1335.0 812.8 L1336.5 812.9 L1338.0 812.9 L1339.5 812.9 L1341.0 812.9 L1342.5 812.9 L1344.0 813.0 L1345.5 813.0 L1347.0 813.0 L1348.5 813.0 L1350.0 813.1 L1351.5 813.1 L1353.0 813.1 L1354.5 813.1 L1356.0 813.1 L1357.5 813.2 L1359.0 813.2 L1360.5 813.2 L1362.0 813.2 L1363.5 813.3 L1365.0 813.3 L1366.5 813.3 L1368.0 813.3 L1369.5 813.3 L1371.0 813.4 L1372.5 813.4 L1374.0 813.4 L1375.5 813.4 L1377.0 813.5 L1378.5 813.5 L1380.0 813.5 L1381.5 813.5 L1383.0 813.5 L1384.5 813.6 L1386.0 813.6 L1387.5 813.6 L1389.0 813.6 L1390.5 813.7 L1392.0 813.7 L1393.5 813.7 L1395.0 813.7 L1396.5 813.7 L1398.0 813.8 L1399.5 813.8 L1401.0 813.8 L1402.5 813.8 L1404.0 813.9 L1405.5 813.9 L1407.0 813.9 L1408.5 813.9 L1410.0 814.0 L1411.5 814.0 L1413.0 814.0 L1414.5 814.1 L1416.0 814.1 L1417.5 814.1 L1419.0 814.1 L1420.5 814.2 L1422.0 814.2 L1423.5 814.2 L1425.0 814.3 L1426.5 814.3 L1428.0 814.3 L1429.5 814.4 L1431.0 814.4 L1432.5 814.4 L1434.0 814.5 L1435.5 814.5 L1437.0 814.5 L1438.5 814.6 L1440.0 814.6 L1441.5 814.6 L1443.0 814.7 L1444.5 814.7 L1446.0 814.7 L1447.5 814.8 L1449.0 814.8 L1450.5 814.9 L1452.0 814.9 L1453.5 814.9 L1455.0 815.0 L1456.5 815.0 L1458.0 815.1 L1459.5 815.2 L1461.0 815.2 L1462.5 815.3 L1464.0 815.4 L1465.5 815.5 L1467.0 815.6 L1468.5 815.7 L1470.0 815.8 L1471.5 815.9 L1473.0 816.0 L1474.5 816.1 L1476.0 816.2 L1477.5 816.3 L1479.0 816.4 L1480.5 816.4 L1482.0 816.5 L1483.5 816.6 L1485.0 816.7 L1486.5 816.8 L1488.0 816.9 L1489.5 816.9 L1491.0 817.0 L1492.5 817.1 L1494.0 817.1 L1495.5 817.2 L1497.0 817.2 L1498.5 817.2 L1500.0 817.2 L1501.5 817.2 L1503.0 817.2 L1504.5 817.2 L1506.0 817.2 L1507.5 817.2 L1509.0 817.1 L1510.5 817.0 L1512.0 817.0 L1513.5 816.9 L1515.0 816.8 L1516.5 816.7 L1518.0 816.6 L1519.5 816.5 L1521.0 816.4 L1522.5 816.2 L1524.0 816.1 L1525.5 816.0 L1527.0 815.8 L1528.5 815.7 L1530.0 815.5 L1531.5 815.4 L1533.0 815.2 L1534.5 815.1 L1536.0 814.9 L1537.5 814.8 L1539.0 814.6 L1540.5 814.5 L1542.0 814.3 L1543.5 814.2 L1545.0 814.1 L1546.5 813.9 L1548.0 813.8 L1549.5 813.7 L1551.0 813.5 L1552.5 813.4 L1554.0 813.3 L1555.5 813.2 L1557.0 813.1 L1558.5 813.0 L1560.0 812.9 L1561.5 812.9 L1563.0 812.8 L1564.5 812.8 L1566.0 812.7 L1567.5 812.7 L1569.0 812.7 L1570.5 812.7 L1572.0 812.7 L1573.5 812.7 L1575.0 812.8 L1576.5 812.8 L1578.0 812.9 L1579.5 813.0 L1581.0 813.1 L1582.5 813.3 L1584.0 813.4 L1585.5 813.5 L1587.0 813.7 L1588.5 813.8 L1590.0 814.0 L1591.5 814.2 L1593.0 814.4 L1594.5 814.5 L1596.0 814.7 L1597.5 814.9 L1599.0 815.1 L1600.5 815.3 L1602.0 815.5 L1603.5 815.6 L1605.0 815.8 L1606.5 816.0 L1608.0 816.1 L1609.5 816.3 L1611.0 816.5 L1612.5 816.6 L1614.0 816.7 L1615.5 816.8 L1617.0 816.9 L1618.5 817.0 L1620.0 817.1 L1621.5 817.2 L1623.0 817.2 L1624.5 817.2 L1626.0 817.2 L1627.5 817.2 L1629.0 817.2 L1630.5 817.2 L1632.0 817.2 L1633.5 817.2 L1635.0 817.1 L1636.5 817.1 L1638.0 817.0 L1639.5 817.0 L1641.0 816.9 L1642.5 816.9 L1644.0 816.8 L1645.5 816.7 L1647.0 816.6 L1648.5 816.6 L1650.0 816.5 L1651.5 816.4 L1653.0 816.3 L1654.5 816.2 L1656.0 816.1 L1657.5 816.0 L1659.0 815.9 L1660.5 815.8 L1662.0 815.8 L1663.5 815.7 L1665.0 815.6 L1666.5 815.5 L1668.0 815.4 L1669.5 815.3 L1671.0 815.2 L1672.5 815.1 L1674.0 815.0 L1675.5 814.9 L1677.0 814.8 L1678.5 814.8 L1680.0 814.7 L1681.5 814.6 L1683.0 814.5 L1684.5 814.5 L1686.0 814.4 L1687.5 814.3 L1689.0 814.3 L1690.5 814.2 L1692.0 814.2 L1693.5 814.1 L1695.0 814.1 L1696.5 814.1 L1698.0 814.1 L1699.5 814.1 L1701.0 814.0 L1702.5 814.0 L1704.0 814.1 L1705.5 814.1 L1707.0 814.1 L1708.5 814.1 L1710.0 814.2 L1711.5 814.3 L1713.0 814.3 L1714.5 814.4 L1716.0 814.5 L1717.5 814.5 L1719.0 814.6 L1720.5 814.7 L1722.0 814.8 L1723.5 814.9 L1725.0 815.0 L1726.5 815.1 L1728.0 815.2 L1729.5 815.4 L1731.0 815.5 L1732.5 815.6 L1734.0 815.7 L1735.5 815.8 L1737.0 815.9 L1738.5 816.0 L1740.0 816.1 L1741.5 816.3 L1743.0 816.4 L1744.5 816.5 L1746.0 816.6 L1747.5 816.7 L1749.0 816.7 L1750.5 816.8 L1752.0 816.9 L1753.5 817.0 L1755.0 817.0 L1756.5 817.1 L1758.0 817.1 L1759.5 817.2 L1761.0 817.2 L1762.5 817.2 L1764.0 817.2 L1765.5 817.2 L1767.0 817.2 L1768.5 817.2 L1770.0 817.2 L1771.5 817.2 L1773.0 817.2 L1774.5 817.2 L1776.0 817.2 L1777.5 817.2 L1779.0 817.2 L1780.5 817.2 L1782.0 817.2 L1783.5 817.2 L1785.0 817.2 L1786.5 817.2 L1788.0 817.2 L1789.5 817.2 L1791.0 817.2 L1792.5 817.2 L1794.0 817.1 L1795.5 817.1 L1797.0 817.1 L1798.5 817.1 L1800.0 817.1 L1801.5 817.1 L1803.0 817.0 L1804.5 817.0 L1806.0 817.0 L1807.5 817.0 L1809.0 816.9 L1810.5 816.9 L1812.0 816.9 L1813.5 816.9 L1815.0 816.8 L1816.5 816.8 L1818.0 816.7 L1819.5 816.7 L1821.0 816.7 L1822.5 816.6 L1824.0 816.6 L1825.5 816.5 L1827.0 816.5 L1828.5 816.4 L1830.0 816.4 L1831.5 816.3 L1833.0 816.3 L1834.5 816.2 L1836.0 816.1 L1837.5 816.1 L1839.0 816.0 L1840.5 815.9 L1842.0 815.9 L1843.5 815.8 L1845.0 815.7 L1846.5 815.6 L1848.0 815.5 L1849.5 815.4 L1851.0 815.4 L1852.5 815.3 L1854.0 815.2 L1855.5 815.1 L1857.0 815.0" stroke="#ff0000" stroke-width="13" fill="none" stroke-linejoin="round"/>
<path d="M349.4 817.2 L350.9 817.2 L352.4 817.2 L353.9 817.2 L355.4 817.2 L356.9 817.2 L358.4 817.2 L359.9 817.2 L361.4 817.2 L362.9 817.2 L364.4 817.2 L365.9 817.1 L367.4 816.7 L368.9 816.1 L370.4 815.3 L371.9 814.4 L373.4 813.4 L374.9 812.3 L376.4 811.1 L377.9 809.8 L379.4 808.6 L380.9 807.3 L382.4 805.8 L383.9 804.1 L385.4 802.2 L386.9 800.1 L388.4 797.8 L389.9 795.4 L391.4 792.7 L392.9 789.9 L394.4 787.0 L395.9 783.8 L397.4 780.6 L398.9 776.7 L400.4 771.9 L401.9 766.7 L403.4 761.3 L404.9 755.9 L406.4 751.0 L407.9 746.2 L409.4 741.5 L410.9 736.8 L412.4 732.0 L413.9 727.3 L415.4 722.5 L416.9 717.8 L418.4 713.0 L419.9 708.2 L421.4 703.4 L422.9 698.5 L424.4 693.5 L425.9 688.2 L427.4 682.8 L428.9 677.4 L430.4 672.2 L431.9 667.3 L433.4 662.8 L434.9 658.5 L436.4 654.4 L437.9 650.5 L439.4 646.6 L440.9 642.7 L442.4 638.9 L443.9 635.0 L445.4 631.0 L446.9 626.9 L448.4 623.0 L449.9 619.4 L451.4 616.0 L452.9 613.0 L454.4 610.2 L455.9 607.4 L457.4 604.8 L458.9 602.3 L460.4 600.1 L461.9 598.1 L463.4 596.4 L464.9 595.2 L466.4 594.1 L467.9 593.1 L469.4 592.1 L470.9 591.2 L472.4 590.4 L473.9 589.7 L475.5 589.1 L477.0 588.6 L478.5 588.4 L480.0 588.3 L481.5 588.3 L483.0 588.6 L484.5 588.9 L486.0 589.4 L487.5 590.0 L489.0 590.7 L490.5 591.4 L492.0 592.2 L493.5 593.1 L495.0 594.0 L496.5 595.0 L498.0 596.4 L499.5 598.0 L501.0 599.9 L502.5 601.9 L504.0 604.1 L505.5 606.4 L507.0 608.8 L508.5 611.6 L510.0 614.8 L511.5 618.1 L513.0 621.7 L514.5 625.4 L516.0 629.1 L517.5 632.9 L519.0 636.8 L520.5 641.0 L522.0 645.3 L523.5 649.7 L525.0 654.3 L526.5 659.1 L528.0 664.1 L529.5 669.6 L531.0 675.3 L532.5 681.1 L534.0 686.8 L535.5 692.1 L537.0 697.2 L538.5 702.0 L540.0 706.8 L541.5 711.5 L543.0 716.2 L544.5 721.0 L546.0 725.9 L547.5 731.0 L549.0 736.0 L550.5 740.9 L552.0 745.4 L553.5 749.4 L555.0 753.0 L556.5 756.2 L558.0 759.3 L559.5 762.2 L561.0 765.0 L562.5 767.7 L564.0 770.5 L565.5 773.4 L567.0 776.4 L568.5 779.6 L570.0 783.1 L571.5 786.6 L573.0 790.1 L574.5 793.5 L576.0 796.7 L577.5 799.6 L579.0 802.1 L580.5 804.1 L582.0 806.1 L583.5 808.0 L585.0 809.9 L586.5 811.7 L588.0 813.3 L589.5 814.7 L591.0 815.8 L592.5 816.7 L594.0 817.2 L595.5 817.2 L597.0 817.2 L598.5 817.2 L600.0 817.2" stroke="#ff0000" stroke-width="18" fill="none" stroke-dasharray="16 14"/>
<path d="M205.5 816.1 L207.0 816.0 L208.5 815.9 L210.0 815.7 L211.5 815.6 L213.0 815.5 L214.5 815.4 L216.0 815.3 L217.5 815.2 L219.0 815.1 L220.5 815.0 L222.0 815.0 L223.5 814.9 L225.0 814.8 L226.5 814.8 L228.0 814.7 L229.5 814.7 L231.0 814.6 L232.5 814.6 L234.0 814.6 L235.5 814.5 L237.0 814.5 L238.5 814.5 L240.0 814.5 L241.5 814.5 L243.0 814.5 L244.5 814.6 L246.0 814.6 L247.5 814.7 L249.0 814.7 L250.5 814.8 L252.0 814.9 L253.5 815.0 L255.0 815.1 L256.5 815.2 L258.0 815.3 L259.5 815.4 L261.0 815.5 L262.5 815.7 L264.0 815.8 L265.5 815.9 L267.0 816.0 L268.5 816.2 L270.0 816.3 L271.5 816.4 L273.0 816.5 L274.5 816.6 L276.0 816.7 L277.5 816.8 L279.0 816.9 L280.5 817.0 L282.0 817.1 L283.5 817.1 L285.0 817.2 L286.5 817.2 L288.0 817.2 L289.5 817.2 L291.0 817.2 L292.5 817.2 L294.0 817.2 L295.5 817.1 L297.0 817.0 L298.5 816.9 L300.0 816.8 L301.5 816.7 L303.0 816.6 L304.5 816.4 L306.0 816.3 L307.5 816.1 L309.0 816.0 L310.5 815.8 L312.0 815.7 L313.5 815.5 L315.0 815.4 L316.5 815.2 L318.0 815.1 L319.5 815.0 L321.0 814.9 L322.5 814.8 L324.0 814.7 L325.5 814.6 L327.0 814.5 L328.5 814.5 L330.0 814.5 L331.5 814.5 L333.0 814.5 L334.5 814.5 L336.0 814.6 L337.5 814.6 L339.0 814.6 L340.5 814.7 L342.0 814.7 L343.5 814.8 L345.0 814.8 L346.5 814.9 L348.0 815.0 L349.5 815.0 L351.0 815.1 L352.5 815.2 L354.0 815.3 L355.5 815.3 L357.0 815.4 L358.5 815.5 L360.0 815.5 L361.5 815.6 L363.0 815.7 L364.5 815.7 L366.0 815.8 L367.5 815.9 L369.0 815.9 L370.5 816.0 L372.0 816.0 L373.5 816.0 L375.0 816.1 L376.5 816.1 L378.0 816.1 L379.5 816.1 L381.0 816.1 L382.5 816.1 L384.0 816.0 L385.5 815.9 L387.0 815.7 L388.5 815.6 L390.0 815.4 L391.5 815.2 L393.0 815.0 L394.5 814.7 L396.0 814.5 L397.5 814.2 L399.0 814.0 L400.5 813.7 L402.0 813.5 L403.5 813.2 L405.0 813.0 L406.5 812.7 L408.0 812.5 L409.5 812.3 L411.0 812.1 L412.5 811.9 L414.0 811.8 L415.5 811.7 L417.0 811.6 L418.5 811.5 L420.0 811.5 L421.5 811.5 L423.0 811.6 L424.5 811.6 L426.0 811.6 L427.5 811.7 L429.0 811.8 L430.5 811.8 L432.0 811.9 L433.5 812.0 L435.0 812.1 L436.5 812.2 L438.0 812.3 L439.5 812.3 L441.0 812.4 L442.5 812.5 L444.0 812.6 L445.5 812.6 L447.0 812.6 L448.5 812.7 L450.0 812.7 L451.5 812.6 L453.0 812.3 L454.5 812.0 L456.0 811.5 L457.5 810.9 L459.0 810.3 L460.5 809.6 L462.0 808.9 L463.5 808.3 L465.0 807.6 L466.5 807.1 L468.0 806.6 L469.5 806.2 L471.0 805.9 L472.5 805.8 L474.0 805.8 L475.5 805.9 L477.0 805.9 L478.5 806.0 L480.0 806.2 L481.5 806.3 L483.0 806.5 L484.5 806.7 L486.0 806.9 L487.5 807.1 L489.0 807.4 L490.5 807.6 L492.0 807.9 L493.5 808.1 L495.0 808.4 L496.5 808.7 L498.0 809.0 L499.5 809.2 L501.0 809.5 L502.5 809.8 L504.0 810.0 L505.5 810.2 L507.0 810.5 L508.5 810.7 L510.0 810.9 L511.5 811.0 L513.0 811.2 L514.5 811.3 L516.0 811.4 L517.5 811.5 L519.0 811.5 L520.5 811.5 L522.0 811.4 L523.5 811.2 L525.0 810.9 L526.5 810.4 L528.0 809.9 L529.5 809.3 L531.0 808.7 L532.5 808.0 L534.0 807.2 L535.5 806.5 L537.0 805.7 L538.5 804.9 L540.0 804.0 L541.5 803.3 L543.0 802.5 L544.5 801.7 L546.0 801.0 L547.5 800.4 L549.0 799.8 L550.5 799.3 L552.0 798.9 L553.5 798.6 L555.0 798.3 L556.5 798.2 L558.0 798.3 L559.5 798.4 L561.0 798.6 L562.5 798.8 L564.0 799.2 L565.5 799.6 L567.0 800.0 L568.5 800.5 L570.0 801.1 L571.5 801.7 L573.0 802.3 L574.5 802.9 L576.0 803.6 L577.5 804.2 L579.0 804.9 L580.5 805.5 L582.0 806.2 L583.5 806.8 L585.0 807.4 L586.5 807.9 L588.0 808.5 L589.5 808.9 L591.0 809.3 L592.5 809.7 L594.0 810.0 L595.5 810.2 L597.0 810.3 L598.5 810.4 L600.0 810.2 L601.5 809.5 L603.0 808.6 L604.5 807.3 L606.0 805.8 L607.5 804.1 L609.0 802.2 L610.5 800.3 L612.0 798.4 L613.5 796.5 L615.0 794.6 L616.5 792.9 L618.0 791.4 L619.5 790.1 L621.0 789.1 L622.5 788.0 L624.0 786.9 L625.5 785.8 L627.0 784.8 L628.5 783.7 L630.0 782.6 L631.5 781.6 L633.0 780.6 L634.5 779.7 L636.0 778.9 L637.5 778.1 L639.0 777.4 L640.5 776.7 L642.0 776.2 L643.5 775.8 L645.0 775.5 L646.5 775.4 L648.0 775.4 L649.5 775.6 L651.0 776.0 L652.5 776.7 L654.0 777.5 L655.5 778.5 L657.0 779.6 L658.5 780.8 L660.0 782.1 L661.5 783.5 L663.0 784.9 L664.5 786.4 L666.0 787.9 L667.5 789.3 L669.0 790.8 L670.5 792.8 L672.0 795.2 L673.5 797.9 L675.0 800.7 L676.5 803.5 L678.0 806.3 L679.5 808.9 L681.0 811.2 L682.5 813.0 L684.0 814.3 L685.5 814.9 L687.0 814.3 L688.5 811.3 L690.0 806.5 L691.5 800.5 L693.0 794.0 L694.5 787.5 L696.0 778.9 L697.5 770.4 L699.0 763.9 L700.5 758.2 L702.0 753.0 L703.5 747.9 L705.0 742.8 L706.5 737.3 L708.0 731.4 L709.5 725.3 L711.0 719.3 L712.5 713.2 L714.0 707.4 L715.5 701.7 L717.0 696.0 L718.5 690.3 L720.0 684.9 L721.5 679.7 L723.0 674.8 L724.5 670.1 L726.0 665.6 L727.5 661.2 L729.0 657.0 L730.5 652.9 L732.0 648.9 L733.5 645.0 L735.0 641.1 L736.5 637.1 L738.0 633.1 L739.5 629.2 L741.0 625.4 L742.5 621.9 L744.0 618.5 L745.5 615.6 L747.0 613.0 L748.5 611.3 L750.0 609.7 L751.5 608.1 L753.0 606.5 L754.5 604.9 L756.0 603.3 L757.5 601.7 L759.0 600.1 L760.5 598.5 L762.0 596.9 L763.5 595.2 L765.0 593.6 L766.5 592.0 L768.0 590.4 L769.5 588.8 L771.0 588.3 L772.5 589.8 L774.0 591.3 L775.5 592.9 L777.0 594.4 L778.5 595.9 L780.0 597.5 L781.5 599.0 L783.0 600.5 L784.5 602.1 L786.0 603.6 L787.5 605.1 L789.0 606.7 L790.5 608.2 L792.0 609.8 L793.5 611.3 L795.0 612.9 L796.5 615.5 L798.0 618.8 L799.5 622.4 L801.0 626.5 L802.5 630.9 L804.0 635.4 L805.5 640.1 L807.0 644.7 L808.5 649.6 L810.0 654.8 L811.5 660.3 L813.0 666.0 L814.5 671.8 L816.0 677.6 L817.5 683.5 L819.0 689.7 L820.5 695.9 L822.0 702.1 L823.5 708.2 L825.0 714.1 L826.5 719.9 L828.0 725.7 L829.5 731.5 L831.0 737.2 L832.5 743.0 L834.0 748.8 L835.5 754.6 L837.0 760.3 L838.5 766.0 L840.0 772.0 L841.5 778.0 L843.0 783.5 L844.5 788.4 L846.0 792.5 L847.5 796.8 L849.0 801.0 L850.5 804.9 L852.0 808.3 L853.5 810.8 L855.0 812.4 L856.5 812.6 L858.0 811.7 L859.5 809.8 L861.0 807.3 L862.5 804.4 L864.0 801.4 L865.5 798.4 L867.0 795.8 L868.5 793.7 L870.0 791.8 L871.5 789.9 L873.0 788.0 L874.5 786.2 L876.0 784.5 L877.5 782.8 L879.0 781.2 L880.5 779.7 L882.0 778.4 L883.5 777.1 L885.0 776.0 L886.5 775.0 L888.0 774.0 L889.5 773.0 L891.0 772.0 L892.5 771.0 L894.0 770.1 L895.5 769.2 L897.0 768.4 L898.5 767.7 L900.0 767.1 L901.5 766.6 L903.0 766.2 L904.5 765.9 L906.0 765.7 L907.5 765.8 L909.0 766.0 L910.5 766.3 L912.0 766.8 L913.5 767.4 L915.0 768.2 L916.5 769.0 L918.0 769.9 L919.5 770.9 L921.0 771.9 L922.5 773.0 L924.0 774.1 L925.5 775.2 L927.0 776.3 L928.5 777.3 L930.0 778.3 L931.5 779.3 L933.0 780.4 L934.5 781.5 L936.0 782.7 L937.5 783.9 L939.0 785.1 L940.5 786.4 L942.0 787.7 L943.5 789.0 L945.0 790.4 L946.5 791.9 L948.0 793.6 L949.5 795.6 L951.0 797.7 L952.5 799.8 L954.0 802.1 L955.5 804.3 L957.0 806.4 L958.5 808.4 L960.0 810.3 L961.5 811.9 L963.0 813.2 L964.5 814.2 L966.0 814.8 L967.5 814.9 L969.0 814.5 L970.5 813.5 L972.0 812.1 L973.5 810.3 L975.0 808.3 L976.5 806.1 L978.0 804.0 L979.5 801.9 L981.0 800.0 L982.5 798.4 L984.0 797.2 L985.5 796.4 L987.0 795.8 L988.5 795.2 L990.0 794.7 L991.5 794.1 L993.0 793.6 L994.5 793.2 L996.0 792.7 L997.5 792.4 L999.0 792.1 L1000.5 791.8 L1002.0 791.6 L1003.5 791.4 L1005.0 791.4 L1006.5 791.4 L1008.0 791.8 L1009.5 792.5 L1011.0 793.5 L1012.5 794.6 L1014.0 796.0 L1015.5 797.4 L1017.0 798.9 L1018.5 800.5 L1020.0 802.0 L1021.5 803.4 L1023.0 804.8 L1024.5 805.9 L1026.0 806.9 L1027.5 807.6 L1029.0 808.0 L1030.5 808.1 L1032.0 808.0 L1033.5 807.8 L1035.0 807.5 L1036.5 807.2 L1038.0 806.8 L1039.5 806.3 L1041.0 805.8 L1042.5 805.3 L1044.0 804.7 L1045.5 804.1 L1047.0 803.6 L1048.5 803.1 L1050.0 802.6 L1051.5 802.1 L1053.0 801.7 L1054.5 801.3 L1056.0 801.0 L1057.5 800.9 L1059.0 800.8 L1060.5 800.8 L1062.0 801.0 L1063.5 801.2 L1065.0 801.6 L1066.5 802.1 L1068.0 802.7 L1069.5 803.3 L1071.0 804.0 L1072.5 804.7 L1074.0 805.5 L1075.5 806.3 L1077.0 807.1 L1078.5 807.9 L1080.0 808.7 L1081.5 809.4 L1083.0 810.1 L1084.5 810.8 L1086.0 811.3 L1087.5 811.8 L1089.0 812.2 L1090.5 812.5 L1092.0 812.6 L1093.5 812.7 L1095.0 812.6 L1096.5 812.4 L1098.0 812.0 L1099.5 811.6 L1101.0 811.1 L1102.5 810.6 L1104.0 809.9 L1105.5 809.2 L1107.0 808.5 L1108.5 807.7 L1110.0 806.9 L1111.5 806.0 L1113.0 805.1 L1114.5 804.2 L1116.0 803.3 L1117.5 802.5 L1119.0 801.6 L1120.5 800.8 L1122.0 799.9 L1123.5 799.2 L1125.0 798.5 L1126.5 797.8 L1128.0 797.2 L1129.5 796.7 L1131.0 796.2 L1132.5 795.9 L1134.0 795.6 L1135.5 795.5 L1137.0 795.3 L1138.5 795.2 L1140.0 795.1 L1141.5 795.0 L1143.0 794.8 L1144.5 794.7 L1146.0 794.6 L1147.5 794.5 L1149.0 794.4 L1150.5 794.3 L1152.0 794.2 L1153.5 794.1 L1155.0 794.1 L1156.5 794.0 L1158.0 793.9 L1159.5 793.8 L1161.0 793.7 L1162.5 793.7 L1164.0 793.6 L1165.5 793.6 L1167.0 793.5 L1168.5 793.5 L1170.0 793.4 L1171.5 793.4 L1173.0 793.3 L1174.5 793.3 L1176.0 793.3 L1177.5 793.2 L1179.0 793.2 L1180.5 793.2 L1182.0 793.2 L1183.5 793.2 L1185.0 793.2 L1186.5 793.2 L1188.0 793.3 L1189.5 793.3 L1191.0 793.4 L1192.5 793.5 L1194.0 793.6 L1195.5 793.7 L1197.0 793.8 L1198.5 793.9 L1200.0 794.1 L1201.5 794.2 L1203.0 794.4 L1204.5 794.6 L1206.0 794.7 L1207.5 794.9 L1209.0 795.1 L1210.5 795.3 L1212.0 795.5 L1213.5 795.7 L1215.0 796.0 L1216.5 796.2 L1218.0 796.4 L1219.5 796.6 L1221.0 796.9 L1222.5 797.1 L1224.0 797.3 L1225.5 797.6 L1227.0 797.8 L1228.5 798.0 L1230.0 798.3 L1231.5 798.5 L1233.0 798.7 L1234.5 799.0 L1236.0 799.2 L1237.5 799.5 L1239.0 799.8 L1240.5 800.1 L1242.0 800.5 L1243.5 800.8 L1245.0 801.2 L1246.5 801.6 L1248.0 802.1 L1249.5 802.5 L1251.0 802.9 L1252.5 803.4 L1254.0 803.9 L1255.5 804.3 L1257.0 804.8 L1258.5 805.3 L1260.0 805.7 L1261.5 806.2 L1263.0 806.7 L1264.5 807.2 L1266.0 807.6 L1267.5 808.1 L1269.0 808.5 L1270.5 808.9 L1272.0 809.4 L1273.5 809.8 L1275.0 810.1 L1276.5 810.5 L1278.0 810.8 L1279.5 811.2 L1281.0 811.5 L1282.5 811.7 L1284.0 812.0 L1285.5 812.2 L1287.0 812.3 L1288.5 812.5 L1290.0 812.6 L1291.5 812.6 L1293.0 812.7 L1294.5 812.6 L1296.0 812.6 L1297.5 812.4 L1299.0 812.3 L1300.5 812.1 L1302.0 811.8 L1303.5 811.5 L1305.0 811.2 L1306.5 810.8 L1308.0 810.4 L1309.5 810.0 L1311.0 809.6 L1312.5 809.1 L1314.0 808.6 L1315.5 808.2 L1317.0 807.7 L1318.5 807.2 L1320.0 806.7 L1321.5 806.2 L1323.0 805.7 L1324.5 805.2 L1326.0 804.7 L1327.5 804.2 L1329.0 803.8 L1330.5 803.3 L1332.0 802.9 L1333.5 802.5 L1335.0 802.2 L1336.5 801.8 L1338.0 801.5 L1339.5 801.3 L1341.0 801.1 L1342.5 800.9 L1344.0 800.6 L1345.5 800.4 L1347.0 800.2 L1348.5 800.0 L1350.0 799.7 L1351.5 799.5 L1353.0 799.3 L1354.5 799.1 L1356.0 799.0 L1357.5 798.8 L1359.0 798.6 L1360.5 798.5 L1362.0 798.4 L1363.5 798.2 L1365.0 798.2 L1366.5 798.1 L1368.0 798.0 L1369.5 798.0 L1371.0 798.0 L1372.5 798.0 L1374.0 798.0 L1375.5 798.0 L1377.0 798.0 L1378.5 798.1 L1380.0 798.1 L1381.5 798.1 L1383.0 798.1 L1384.5 798.1 L1386.0 798.2 L1387.5 798.2 L1389.0 798.2 L1390.5 798.2 L1392.0 798.3 L1393.5 798.3 L1395.0 798.3 L1396.5 798.4 L1398.0 798.4 L1399.5 798.5 L1401.0 798.5 L1402.5 798.5 L1404.0 798.6 L1405.5 798.6 L1407.0 798.6 L1408.5 798.7 L1410.0 798.7 L1411.5 798.8 L1413.0 798.8 L1414.5 798.9 L1416.0 798.9 L1417.5 798.9 L1419.0 799.0 L1420.5 799.0 L1422.0 799.1 L1423.5 799.1 L1425.0 799.1 L1426.5 799.2 L1428.0 799.2 L1429.5 799.3 L1431.0 799.3 L1432.5 799.4 L1434.0 799.4 L1435.5 799.5 L1437.0 799.5 L1438.5 799.6 L1440.0 799.6 L1441.5 799.7 L1443.0 799.8 L1444.5 799.8 L1446.0 799.9 L1447.5 799.9 L1449.0 800.0 L1450.5 800.1 L1452.0 800.2 L1453.5 800.2 L1455.0 800.3 L1456.5 800.4 L1458.0 800.5 L1459.5 800.5 L1461.0 800.6 L1462.5 800.7 L1464.0 800.8 L1465.5 800.9 L1467.0 801.0 L1468.5 801.1 L1470.0 801.2 L1471.5 801.3 L1473.0 801.5 L1474.5 801.6 L1476.0 801.8 L1477.5 801.9 L1479.0 802.1 L1480.5 802.3 L1482.0 802.5 L1483.5 802.7 L1485.0 802.9 L1486.5 803.2 L1488.0 803.4 L1489.5 803.7 L1491.0 804.0 L1492.5 804.2 L1494.0 804.5 L1495.5 804.8 L1497.0 805.2 L1498.5 805.5 L1500.0 805.8 L1501.5 806.2 L1503.0 806.7 L1504.5 807.3 L1506.0 807.9 L1507.5 808.7 L1509.0 809.4 L1510.5 810.2 L1512.0 811.1 L1513.5 811.9 L1515.0 812.7 L1516.5 813.5 L1518.0 814.2 L1519.5 814.9 L1521.0 815.6 L1522.5 816.1 L1524.0 816.6 L1525.5 816.9 L1527.0 817.2 L1528.5 817.2 L1530.0 817.2 L1531.5 817.2 L1533.0 817.1 L1534.5 817.0 L1536.0 816.8 L1537.5 816.7 L1539.0 816.5 L1540.5 816.2 L1542.0 816.0 L1543.5 815.7 L1545.0 815.4 L1546.5 815.1 L1548.0 814.7 L1549.5 814.4 L1551.0 814.0 L1552.5 813.6 L1554.0 813.2 L1555.5 812.8 L1557.0 812.4 L1558.5 812.0 L1560.0 811.5 L1561.5 811.1 L1563.0 810.6 L1564.5 810.1 L1566.0 809.7 L1567.5 809.2 L1569.0 808.8 L1570.5 808.3 L1572.0 807.8 L1573.5 807.4 L1575.0 807.0 L1576.5 806.5 L1578.0 806.1 L1579.5 805.7 L1581.0 805.3 L1582.5 804.9 L1584.0 804.5 L1585.5 804.1 L1587.0 803.8 L1588.5 803.4 L1590.0 803.1 L1591.5 802.8 L1593.0 802.6 L1594.5 802.3 L1596.0 802.1 L1597.5 801.9 L1599.0 801.8 L1600.5 801.6 L1602.0 801.5 L1603.5 801.5 L1605.0 801.5 L1606.5 801.5 L1608.0 801.5 L1609.5 801.6 L1611.0 801.7 L1612.5 801.9 L1614.0 802.1 L1615.5 802.4 L1617.0 802.6 L1618.5 802.9 L1620.0 803.3 L1621.5 803.6 L1623.0 804.0 L1624.5 804.4 L1626.0 804.8 L1627.5 805.3 L1629.0 805.7 L1630.5 806.2 L1632.0 806.7 L1633.5 807.1 L1635.0 807.6 L1636.5 808.1 L1638.0 808.6 L1639.5 809.1 L1641.0 809.6 L1642.5 810.0 L1644.0 810.5 L1645.5 811.0 L1647.0 811.4 L1648.5 811.8 L1650.0 812.2 L1651.5 812.6 L1653.0 813.0 L1654.5 813.3 L1656.0 813.7 L1657.5 813.9 L1659.0 814.2 L1660.5 814.4 L1662.0 814.6 L1663.5 814.8 L1665.0 814.9 L1666.5 814.9 L1668.0 815.0 L1669.5 814.9 L1671.0 814.9 L1672.5 814.8 L1674.0 814.7 L1675.5 814.5 L1677.0 814.3 L1678.5 814.1 L1680.0 813.9 L1681.5 813.6 L1683.0 813.4 L1684.5 813.1 L1686.0 812.7 L1687.5 812.4 L1689.0 812.1 L1690.5 811.7 L1692.0 811.3 L1693.5 810.9 L1695.0 810.5 L1696.5 810.1 L1698.0 809.7 L1699.5 809.3 L1701.0 808.9 L1702.5 808.4 L1704.0 808.0 L1705.5 807.6 L1707.0 807.2 L1708.5 806.8 L1710.0 806.4 L1711.5 806.0 L1713.0 805.6 L1714.5 805.2 L1716.0 804.9 L1717.5 804.6 L1719.0 804.2 L1720.5 803.9 L1722.0 803.7 L1723.5 803.4 L1725.0 803.2 L1726.5 803.0 L1728.0 802.8 L1729.5 802.6 L1731.0 802.5 L1732.5 802.4 L1734.0 802.4 L1735.5 802.4 L1737.0 802.4 L1738.5 802.5 L1740.0 802.7 L1741.5 802.9 L1743.0 803.2 L1744.5 803.6 L1746.0 804.0 L1747.5 804.4 L1749.0 804.9 L1750.5 805.4 L1752.0 806.0 L1753.5 806.6 L1755.0 807.2 L1756.5 807.8 L1758.0 808.4 L1759.5 809.1 L1761.0 809.7 L1762.5 810.4 L1764.0 811.0 L1765.5 811.7 L1767.0 812.3 L1768.5 812.9 L1770.0 813.5 L1771.5 814.0 L1773.0 814.6 L1774.5 815.1 L1776.0 815.5 L1777.5 815.9 L1779.0 816.3 L1780.5 816.6 L1782.0 816.9 L1783.5 817.1 L1785.0 817.2 L1786.5 817.2 L1788.0 817.2 L1789.5 817.1 L1791.0 816.9 L1792.5 816.7 L1794.0 816.3 L1795.5 815.9 L1797.0 815.4 L1798.5 814.9 L1800.0 814.3 L1801.5 813.7 L1803.0 813.0 L1804.5 812.4 L1806.0 811.7 L1807.5 811.0 L1809.0 810.2 L1810.5 809.5 L1812.0 808.8 L1813.5 808.1 L1815.0 807.4 L1816.5 806.8 L1818.0 806.2 L1819.5 805.6 L1821.0 805.0 L1822.5 804.5 L1824.0 804.1 L1825.5 803.7 L1827.0 803.4 L1828.5 803.2 L1830.0 803.1 L1831.5 803.1 L1833.0 803.1 L1834.5 803.1 L1836.0 803.1 L1837.5 803.1 L1839.0 803.1 L1840.5 803.1 L1842.0 803.1 L1843.5 803.1 L1845.0 803.1 L1846.5 803.1 L1848.0 803.2 L1849.5 803.2 L1851.0 803.3 L1852.5 803.3 L1854.0 803.4 L1855.5 803.4 L1857.0 803.5" stroke="#0000ff" stroke-width="13" fill="none" stroke-linejoin="round"/>
<path d="M643.0 817.2 L644.5 816.6 L646.0 815.8 L647.5 814.9 L649.0 813.8 L650.5 812.7 L652.0 811.4 L653.5 810.1 L655.0 808.7 L656.5 807.2 L658.0 805.6 L659.5 804.1 L661.0 802.4 L662.5 800.5 L664.0 798.5 L665.5 796.4 L667.0 794.1 L668.5 791.6 L670.0 789.1 L671.5 786.4 L673.0 783.6 L674.5 780.7 L676.0 777.7 L677.5 774.7 L679.0 771.6 L680.5 768.4 L682.0 765.1 L683.5 761.5 L685.0 757.6 L686.5 753.5 L688.0 749.2 L689.5 744.9 L691.0 740.6 L692.5 736.4 L694.0 732.1 L695.5 727.8 L697.0 723.4 L698.5 718.9 L700.0 714.5 L701.5 710.1 L703.0 705.7 L704.5 701.3 L706.0 696.8 L707.5 692.4 L709.0 688.0 L710.5 683.6 L712.0 679.3 L713.5 675.0 L715.0 670.8 L716.5 666.6 L718.0 662.5 L719.5 658.3 L721.0 654.1 L722.5 649.9 L724.0 645.5 L725.5 641.1 L727.0 636.6 L728.5 632.2 L730.0 628.1 L731.5 624.4 L733.0 621.1 L734.5 617.9 L736.0 614.8 L737.5 611.7 L739.0 608.8 L740.5 606.1 L742.0 603.6 L743.5 601.4 L745.0 599.5 L746.5 598.0 L748.0 596.9 L749.5 595.9 L751.0 595.0 L752.5 594.1 L754.0 593.2 L755.5 592.4 L757.0 591.7 L758.5 591.0 L760.0 590.3 L761.5 589.8 L763.0 589.3 L764.5 588.9 L766.0 588.6 L767.5 588.4 L769.0 588.3 L770.5 588.3 L772.0 588.4 L773.5 588.8 L775.0 589.3 L776.5 589.9 L778.0 590.7 L779.5 591.6 L781.0 592.6 L782.5 593.7 L784.0 594.8 L785.5 596.0 L787.0 597.2 L788.5 598.5 L790.0 599.7 L791.5 601.1 L793.0 602.7 L794.5 604.5 L796.0 606.4 L797.5 608.6 L799.0 610.8 L800.5 613.1 L802.0 615.7 L803.5 618.4 L805.0 621.3 L806.5 624.4 L808.0 627.6 L809.5 630.9 L811.0 634.2 L812.5 637.5 L814.0 640.9 L815.5 644.4 L817.0 648.1 L818.5 652.0 L820.0 655.8 L821.5 659.7 L823.0 663.5 L824.5 667.2 L826.0 670.8 L827.5 674.2 L829.0 677.7 L830.5 681.1 L832.0 684.4 L833.5 687.8 L835.0 691.2 L836.5 694.7 L838.0 698.2 L839.5 701.6 L841.0 705.0 L842.5 708.4 L844.0 711.9 L845.5 715.6 L847.0 719.4 L848.5 723.4 L850.0 727.8 L851.5 733.0 L853.0 738.6 L854.5 744.3 L856.0 749.6 L857.5 754.0 L859.0 757.6 L860.5 760.9 L862.0 764.0 L863.5 766.9 L865.0 769.6 L866.5 772.1 L868.0 774.6 L869.5 776.9 L871.0 779.1 L872.5 781.3 L874.0 783.6 L875.5 785.8 L877.0 787.9 L878.5 790.1 L880.0 792.1 L881.5 794.1 L883.0 796.0 L884.5 797.8 L886.0 799.4 L887.5 800.8 L889.0 802.1 L890.5 803.2 L892.0 804.1 L893.5 804.9 L895.0 805.7 L896.5 806.5 L898.0 807.1 L899.5 807.7 L901.0 808.3 L902.5 808.7 L904.0 809.1 L905.5 809.3 L907.0 809.6 L908.5 809.8 L910.0 810.0 L911.5 810.1 L913.0 810.3 L914.5 810.4 L916.0 810.4" stroke="#0000ff" stroke-width="18" fill="none" stroke-dasharray="16 14"/>
<path d="M205.5 810.4 L207.0 809.8 L208.5 809.2 L210.0 808.7 L211.5 808.1 L213.0 807.6 L214.5 807.2 L216.0 806.7 L217.5 806.3 L219.0 805.9 L220.5 805.5 L222.0 805.1 L223.5 804.8 L225.0 804.5 L226.5 804.2 L228.0 803.9 L229.5 803.7 L231.0 803.4 L232.5 803.2 L234.0 803.0 L235.5 802.9 L237.0 802.7 L238.5 802.6 L240.0 802.5 L241.5 802.5 L243.0 802.4 L244.5 802.4 L246.0 802.4 L247.5 802.4 L249.0 802.5 L250.5 802.7 L252.0 802.9 L253.5 803.2 L255.0 803.5 L256.5 803.9 L258.0 804.3 L259.5 804.7 L261.0 805.2 L262.5 805.7 L264.0 806.3 L265.5 806.8 L267.0 807.3 L268.5 807.9 L270.0 808.5 L271.5 809.0 L273.0 809.6 L274.5 810.1 L276.0 810.6 L277.5 811.1 L279.0 811.6 L280.5 812.0 L282.0 812.4 L283.5 812.8 L285.0 813.1 L286.5 813.4 L288.0 813.6 L289.5 813.7 L291.0 813.8 L292.5 813.8 L294.0 813.7 L295.5 813.6 L297.0 813.3 L298.5 813.0 L300.0 812.7 L301.5 812.2 L303.0 811.8 L304.5 811.2 L306.0 810.7 L307.5 810.1 L309.0 809.5 L310.5 808.8 L312.0 808.2 L313.5 807.5 L315.0 806.9 L316.5 806.2 L318.0 805.6 L319.5 804.9 L321.0 804.4 L322.5 803.8 L324.0 803.3 L325.5 802.8 L327.0 802.4 L328.5 802.0 L330.0 801.7 L331.5 801.5 L333.0 801.3 L334.5 801.2 L336.0 801.2 L337.5 801.4 L339.0 801.6 L340.5 801.8 L342.0 802.2 L343.5 802.6 L345.0 803.1 L346.5 803.6 L348.0 804.2 L349.5 804.9 L351.0 805.5 L352.5 806.2 L354.0 806.9 L355.5 807.6 L357.0 808.3 L358.5 809.0 L360.0 809.8 L361.5 810.4 L363.0 811.1 L364.5 811.7 L366.0 812.3 L367.5 812.9 L369.0 813.4 L370.5 813.9 L372.0 814.2 L373.5 814.5 L375.0 814.8 L376.5 814.9 L378.0 815.0 L379.5 814.9 L381.0 814.7 L382.5 814.4 L384.0 814.0 L385.5 813.5 L387.0 812.9 L388.5 812.3 L390.0 811.6 L391.5 810.8 L393.0 810.0 L394.5 809.1 L396.0 808.2 L397.5 807.3 L399.0 806.4 L400.5 805.5 L402.0 804.5 L403.5 803.7 L405.0 802.8 L406.5 802.0 L408.0 801.2 L409.5 800.5 L411.0 799.8 L412.5 799.2 L414.0 798.7 L415.5 798.3 L417.0 798.0 L418.5 797.8 L420.0 797.8 L421.5 797.8 L423.0 798.0 L424.5 798.3 L426.0 798.7 L427.5 799.1 L429.0 799.7 L430.5 800.3 L432.0 801.0 L433.5 801.7 L435.0 802.5 L436.5 803.3 L438.0 804.1 L439.5 804.9 L441.0 805.8 L442.5 806.7 L444.0 807.5 L445.5 808.3 L447.0 809.1 L448.5 809.9 L450.0 810.6 L451.5 811.3 L453.0 811.9 L454.5 812.5 L456.0 812.9 L457.5 813.3 L459.0 813.6 L460.5 813.8 L462.0 813.8 L463.5 813.7 L465.0 813.5 L466.5 813.2 L468.0 812.7 L469.5 812.2 L471.0 811.5 L472.5 810.8 L474.0 809.9 L475.5 809.1 L477.0 808.1 L478.5 807.2 L480.0 806.2 L481.5 805.2 L483.0 804.2 L484.5 803.3 L486.0 802.3 L487.5 801.4 L489.0 800.5 L490.5 799.7 L492.0 799.0 L493.5 798.3 L495.0 797.7 L496.5 797.3 L498.0 796.9 L499.5 796.7 L501.0 796.6 L502.5 796.7 L504.0 796.8 L505.5 797.0 L507.0 797.3 L508.5 797.7 L510.0 798.1 L511.5 798.6 L513.0 799.1 L514.5 799.7 L516.0 800.3 L517.5 801.0 L519.0 801.7 L520.5 802.3 L522.0 803.0 L523.5 803.7 L525.0 804.4 L526.5 805.1 L528.0 805.8 L529.5 806.5 L531.0 807.1 L532.5 807.7 L534.0 808.2 L535.5 808.7 L537.0 809.2 L538.5 809.6 L540.0 809.9 L541.5 810.1 L543.0 810.3 L544.5 810.4 L546.0 810.4 L547.5 810.2 L549.0 809.9 L550.5 809.6 L552.0 809.1 L553.5 808.5 L555.0 807.9 L556.5 807.2 L558.0 806.4 L559.5 805.6 L561.0 804.7 L562.5 803.8 L564.0 802.8 L565.5 801.8 L567.0 800.9 L568.5 799.9 L570.0 798.9 L571.5 797.9 L573.0 797.0 L574.5 796.1 L576.0 795.2 L577.5 794.4 L579.0 793.6 L580.5 792.9 L582.0 792.3 L583.5 791.8 L585.0 791.4 L586.5 791.0 L588.0 790.8 L589.5 790.7 L591.0 790.7 L592.5 791.0 L594.0 791.5 L595.5 792.2 L597.0 793.0 L598.5 794.0 L600.0 795.2 L601.5 796.4 L603.0 797.8 L604.5 799.2 L606.0 800.7 L607.5 802.2 L609.0 803.7 L610.5 805.2 L612.0 806.7 L613.5 808.1 L615.0 809.5 L616.5 810.8 L618.0 812.0 L619.5 813.1 L621.0 814.0 L622.5 814.8 L624.0 815.3 L625.5 815.7 L627.0 815.9 L628.5 815.8 L630.0 815.6 L631.5 815.1 L633.0 814.6 L634.5 813.8 L636.0 813.0 L637.5 812.0 L639.0 810.9 L640.5 809.7 L642.0 808.5 L643.5 807.1 L645.0 805.7 L646.5 804.2 L648.0 802.7 L649.5 801.2 L651.0 799.7 L652.5 798.1 L654.0 796.6 L655.5 795.0 L657.0 793.5 L658.5 792.1 L660.0 790.7 L661.5 789.4 L663.0 788.1 L664.5 786.9 L666.0 785.9 L667.5 784.9 L669.0 784.1 L670.5 783.4 L672.0 782.9 L673.5 782.5 L675.0 782.3 L676.5 782.2 L678.0 782.4 L679.5 782.9 L681.0 783.6 L682.5 784.5 L684.0 785.5 L685.5 786.8 L687.0 788.1 L688.5 789.6 L690.0 791.3 L691.5 793.0 L693.0 794.7 L694.5 796.6 L696.0 798.4 L697.5 800.3 L699.0 802.2 L700.5 804.0 L702.0 805.8 L703.5 807.5 L705.0 809.2 L706.5 810.7 L708.0 812.2 L709.5 813.5 L711.0 814.6 L712.5 815.6 L714.0 816.3 L715.5 816.9 L717.0 817.2 L718.5 817.2 L720.0 816.7 L721.5 815.5 L723.0 813.8 L724.5 811.7 L726.0 809.1 L727.5 806.1 L729.0 803.0 L730.5 799.6 L732.0 796.1 L733.5 792.5 L735.0 789.0 L736.5 785.6 L738.0 782.3 L739.5 779.3 L741.0 776.6 L742.5 774.3 L744.0 772.4 L745.5 771.0 L747.0 769.8 L748.5 768.6 L750.0 767.4 L751.5 766.2 L753.0 765.1 L754.5 764.0 L756.0 763.0 L757.5 762.0 L759.0 761.1 L760.5 760.3 L762.0 759.6 L763.5 759.0 L765.0 758.5 L766.5 758.1 L768.0 757.8 L769.5 757.7 L771.0 757.8 L772.5 758.1 L774.0 758.7 L775.5 759.6 L777.0 760.7 L778.5 761.9 L780.0 763.4 L781.5 765.0 L783.0 766.7 L784.5 768.5 L786.0 770.4 L787.5 772.4 L789.0 774.3 L790.5 776.3 L792.0 778.3 L793.5 780.7 L795.0 783.8 L796.5 787.5 L798.0 791.5 L799.5 795.8 L801.0 800.1 L802.5 804.3 L804.0 808.2 L805.5 811.5 L807.0 814.3 L808.5 816.2 L810.0 817.2 L811.5 816.9 L813.0 815.0 L814.5 811.9 L816.0 807.9 L817.5 803.4 L819.0 798.6 L820.5 793.9 L822.0 789.8 L823.5 786.0 L825.0 782.1 L826.5 778.2 L828.0 774.2 L829.5 770.0 L831.0 765.6 L832.5 760.9 L834.0 755.8 L835.5 750.1 L837.0 744.3 L838.5 738.4 L840.0 732.4 L841.5 726.1 L843.0 719.8 L844.5 713.8 L846.0 708.1 L847.5 702.9 L849.0 698.0 L850.5 693.2 L852.0 688.7 L853.5 684.2 L855.0 679.9 L856.5 675.8 L858.0 671.7 L859.5 667.6 L861.0 663.7 L862.5 659.9 L864.0 656.2 L865.5 652.6 L867.0 649.0 L868.5 645.6 L870.0 642.3 L871.5 638.9 L873.0 635.5 L874.5 632.1 L876.0 628.8 L877.5 625.6 L879.0 622.6 L880.5 619.7 L882.0 617.0 L883.5 614.6 L885.0 612.5 L886.5 611.1 L888.0 609.7 L889.5 608.3 L891.0 607.0 L892.5 605.6 L894.0 604.3 L895.5 602.9 L897.0 601.5 L898.5 600.2 L900.0 598.8 L901.5 597.5 L903.0 596.1 L904.5 594.7 L906.0 593.4 L907.5 592.0 L909.0 590.7 L910.5 589.3 L912.0 587.9 L913.5 589.0 L915.0 590.5 L916.5 592.0 L918.0 593.5 L919.5 595.0 L921.0 596.5 L922.5 598.0 L924.0 599.5 L925.5 600.9 L927.0 602.4 L928.5 603.9 L930.0 605.4 L931.5 606.9 L933.0 608.4 L934.5 609.9 L936.0 611.4 L937.5 613.0 L939.0 615.2 L940.5 617.4 L942.0 619.9 L943.5 622.4 L945.0 625.1 L946.5 628.0 L948.0 630.9 L949.5 633.9 L951.0 636.9 L952.5 640.0 L954.0 643.2 L955.5 646.4 L957.0 649.8 L958.5 653.3 L960.0 657.0 L961.5 660.8 L963.0 664.7 L964.5 668.7 L966.0 672.7 L967.5 676.9 L969.0 681.2 L970.5 685.7 L972.0 690.4 L973.5 695.1 L975.0 699.9 L976.5 704.6 L978.0 709.2 L979.5 713.8 L981.0 718.4 L982.5 723.0 L984.0 727.7 L985.5 732.3 L987.0 736.8 L988.5 741.4 L990.0 745.9 L991.5 750.5 L993.0 755.0 L994.5 759.5 L996.0 764.0 L997.5 768.8 L999.0 773.8 L1000.5 778.6 L1002.0 783.0 L1003.5 786.8 L1005.0 789.8 L1006.5 792.1 L1008.0 794.1 L1009.5 796.0 L1011.0 797.7 L1012.5 799.3 L1014.0 800.7 L1015.5 802.0 L1017.0 803.3 L1018.5 804.6 L1020.0 805.8 L1021.5 807.1 L1023.0 808.5 L1024.5 809.8 L1026.0 811.1 L1027.5 812.3 L1029.0 813.2 L1030.5 813.9 L1032.0 814.2 L1033.5 814.2 L1035.0 813.8 L1036.5 813.0 L1038.0 811.9 L1039.5 810.6 L1041.0 809.1 L1042.5 807.4 L1044.0 805.6 L1045.5 803.6 L1047.0 801.6 L1048.5 799.6 L1050.0 797.6 L1051.5 795.7 L1053.0 793.8 L1054.5 792.1 L1056.0 790.5 L1057.5 789.2 L1059.0 788.1 L1060.5 787.2 L1062.0 786.5 L1063.5 785.7 L1065.0 784.9 L1066.5 784.2 L1068.0 783.5 L1069.5 782.8 L1071.0 782.1 L1072.5 781.5 L1074.0 780.9 L1075.5 780.4 L1077.0 780.0 L1078.5 779.6 L1080.0 779.2 L1081.5 779.0 L1083.0 778.8 L1084.5 778.8 L1086.0 778.8 L1087.5 778.9 L1089.0 779.1 L1090.5 779.3 L1092.0 779.6 L1093.5 780.0 L1095.0 780.4 L1096.5 780.9 L1098.0 781.4 L1099.5 781.9 L1101.0 782.5 L1102.5 783.1 L1104.0 783.7 L1105.5 784.3 L1107.0 784.9 L1108.5 785.6 L1110.0 786.2 L1111.5 786.8 L1113.0 787.4 L1114.5 788.0 L1116.0 788.5 L1117.5 789.0 L1119.0 789.5 L1120.5 789.9 L1122.0 790.3 L1123.5 790.7 L1125.0 791.1 L1126.5 791.5 L1128.0 791.8 L1129.5 792.2 L1131.0 792.6 L1132.5 792.9 L1134.0 793.3 L1135.5 793.6 L1137.0 794.0 L1138.5 794.3 L1140.0 794.7 L1141.5 795.1 L1143.0 795.4 L1144.5 795.8 L1146.0 796.2 L1147.5 796.6 L1149.0 797.0 L1150.5 797.5 L1152.0 797.9 L1153.5 798.4 L1155.0 798.9 L1156.5 799.3 L1158.0 799.8 L1159.5 800.4 L1161.0 800.9 L1162.5 801.4 L1164.0 801.9 L1165.5 802.4 L1167.0 803.0 L1168.5 803.5 L1170.0 804.0 L1171.5 804.6 L1173.0 805.1 L1174.5 805.6 L1176.0 806.2 L1177.5 806.8 L1179.0 807.4 L1180.5 808.1 L1182.0 808.8 L1183.5 809.5 L1185.0 810.2 L1186.5 810.9 L1188.0 811.5 L1189.5 812.1 L1191.0 812.7 L1192.5 813.2 L1194.0 813.6 L1195.5 814.0 L1197.0 814.2 L1198.5 814.3 L1200.0 814.3 L1201.5 814.2 L1203.0 814.1 L1204.5 814.0 L1206.0 813.8 L1207.5 813.5 L1209.0 813.3 L1210.5 813.0 L1212.0 812.7 L1213.5 812.4 L1215.0 812.0 L1216.5 811.6 L1218.0 811.3 L1219.5 810.9 L1221.0 810.4 L1222.5 810.0 L1224.0 809.6 L1225.5 809.2 L1227.0 808.8 L1228.5 808.4 L1230.0 808.0 L1231.5 807.6 L1233.0 807.2 L1234.5 806.9 L1236.0 806.6 L1237.5 806.2 L1239.0 806.0 L1240.5 805.7 L1242.0 805.5 L1243.5 805.2 L1245.0 805.0 L1246.5 804.7 L1248.0 804.4 L1249.5 804.2 L1251.0 803.9 L1252.5 803.6 L1254.0 803.3 L1255.5 803.1 L1257.0 802.8 L1258.5 802.6 L1260.0 802.3 L1261.5 802.1 L1263.0 801.8 L1264.5 801.6 L1266.0 801.4 L1267.5 801.2 L1269.0 801.0 L1270.5 800.8 L1272.0 800.6 L1273.5 800.4 L1275.0 800.3 L1276.5 800.2 L1278.0 800.1 L1279.5 800.0 L1281.0 799.9 L1282.5 799.9 L1284.0 799.8 L1285.5 799.8 L1287.0 799.8 L1288.5 799.9 L1290.0 799.9 L1291.5 799.9 L1293.0 799.9 L1294.5 799.9 L1296.0 799.9 L1297.5 799.9 L1299.0 799.9 L1300.5 800.0 L1302.0 800.0 L1303.5 800.0 L1305.0 800.0 L1306.5 800.1 L1308.0 800.1 L1309.5 800.1 L1311.0 800.2 L1312.5 800.2 L1314.0 800.2 L1315.5 800.3 L1317.0 800.3 L1318.5 800.4 L1320.0 800.4 L1321.5 800.5 L1323.0 800.5 L1324.5 800.5 L1326.0 800.6 L1327.5 800.6 L1329.0 800.7 L1330.5 800.7 L1332.0 800.8 L1333.5 800.8 L1335.0 800.9 L1336.5 800.9 L1338.0 801.0 L1339.5 801.1 L1341.0 801.1 L1342.5 801.2 L1344.0 801.2 L1345.5 801.3 L1347.0 801.3 L1348.5 801.4 L1350.0 801.4 L1351.5 801.5 L1353.0 801.6 L1354.5 801.6 L1356.0 801.7 L1357.5 801.8 L1359.0 801.9 L1360.5 802.0 L1362.0 802.1 L1363.5 802.2 L1365.0 802.3 L1366.5 802.4 L1368.0 802.5 L1369.5 802.6 L1371.0 802.7 L1372.5 802.8 L1374.0 803.0 L1375.5 803.1 L1377.0 803.2 L1378.5 803.4 L1380.0 803.5 L1381.5 803.7 L1383.0 803.8 L1384.5 804.0 L1386.0 804.2 L1387.5 804.5 L1389.0 804.7 L1390.5 805.0 L1392.0 805.3 L1393.5 805.6 L1395.0 805.9 L1396.5 806.2 L1398.0 806.5 L1399.5 806.8 L1401.0 807.2 L1402.5 807.5 L1404.0 807.9 L1405.5 808.3 L1407.0 808.7 L1408.5 809.0 L1410.0 809.4 L1411.5 809.8 L1413.0 810.2 L1414.5 810.6 L1416.0 810.9 L1417.5 811.3 L1419.0 811.7 L1420.5 812.1 L1422.0 812.5 L1423.5 812.8 L1425.0 813.2 L1426.5 813.5 L1428.0 813.9 L1429.5 814.2 L1431.0 814.5 L1432.5 814.8 L1434.0 815.1 L1435.5 815.4 L1437.0 815.6 L1438.5 815.9 L1440.0 816.1 L1441.5 816.3 L1443.0 816.5 L1444.5 816.7 L1446.0 816.8 L1447.5 817.0 L1449.0 817.1 L1450.5 817.2 L1452.0 817.2 L1453.5 817.2 L1455.0 817.2 L1456.5 817.2 L1458.0 817.2 L1459.5 817.1 L1461.0 817.0 L1462.5 816.9 L1464.0 816.8 L1465.5 816.6 L1467.0 816.4 L1468.5 816.2 L1470.0 816.0 L1471.5 815.8 L1473.0 815.6 L1474.5 815.3 L1476.0 815.1 L1477.5 814.8 L1479.0 814.5 L1480.5 814.2 L1482.0 813.9 L1483.5 813.6 L1485.0 813.3 L1486.5 812.9 L1488.0 812.6 L1489.5 812.3 L1491.0 811.9 L1492.5 811.6 L1494.0 811.2 L1495.5 810.9 L1497.0 810.5 L1498.5 810.2 L1500.0 809.9 L1501.5 809.5 L1503.0 809.2 L1504.5 808.9 L1506.0 808.5 L1507.5 808.2 L1509.0 807.9 L1510.5 807.6 L1512.0 807.3 L1513.5 807.1 L1515.0 806.8 L1516.5 806.5 L1518.0 806.3 L1519.5 806.1 L1521.0 805.9 L1522.5 805.7 L1524.0 805.5 L1525.5 805.4 L1527.0 805.2 L1528.5 805.1 L1530.0 805.0 L1531.5 805.0 L1533.0 804.9 L1534.5 804.9 L1536.0 804.9 L1537.5 804.9 L1539.0 805.0 L1540.5 805.1 L1542.0 805.2 L1543.5 805.3 L1545.0 805.4 L1546.5 805.5 L1548.0 805.6 L1549.5 805.8 L1551.0 805.9 L1552.5 806.0 L1554.0 806.2 L1555.5 806.3 L1557.0 806.5 L1558.5 806.7 L1560.0 806.9 L1561.5 807.1 L1563.0 807.3 L1564.5 807.6 L1566.0 807.8 L1567.5 808.1 L1569.0 808.3 L1570.5 808.6 L1572.0 808.9 L1573.5 809.1 L1575.0 809.4 L1576.5 809.7 L1578.0 810.0 L1579.5 810.3 L1581.0 810.6 L1582.5 810.8 L1584.0 811.1 L1585.5 811.4 L1587.0 811.7 L1588.5 812.0 L1590.0 812.3 L1591.5 812.5 L1593.0 812.8 L1594.5 813.1 L1596.0 813.3 L1597.5 813.6 L1599.0 813.8 L1600.5 814.0 L1602.0 814.2 L1603.5 814.5 L1605.0 814.7 L1606.5 814.8 L1608.0 815.0 L1609.5 815.2 L1611.0 815.3 L1612.5 815.5 L1614.0 815.6 L1615.5 815.7 L1617.0 815.7 L1618.5 815.8 L1620.0 815.8 L1621.5 815.9 L1623.0 815.9 L1624.5 815.8 L1626.0 815.8 L1627.5 815.7 L1629.0 815.5 L1630.5 815.4 L1632.0 815.2 L1633.5 814.9 L1635.0 814.7 L1636.5 814.4 L1638.0 814.1 L1639.5 813.8 L1641.0 813.5 L1642.5 813.2 L1644.0 812.8 L1645.5 812.4 L1647.0 812.1 L1648.5 811.7 L1650.0 811.3 L1651.5 811.0 L1653.0 810.6 L1654.5 810.2 L1656.0 809.8 L1657.5 809.5 L1659.0 809.1 L1660.5 808.8 L1662.0 808.4 L1663.5 808.1 L1665.0 807.8 L1666.5 807.6 L1668.0 807.3 L1669.5 807.1 L1671.0 806.9 L1672.5 806.7 L1674.0 806.5 L1675.5 806.4 L1677.0 806.3 L1678.5 806.3 L1680.0 806.3 L1681.5 806.3 L1683.0 806.3 L1684.5 806.4 L1686.0 806.5 L1687.5 806.6 L1689.0 806.8 L1690.5 806.9 L1692.0 807.1 L1693.5 807.3 L1695.0 807.5 L1696.5 807.8 L1698.0 808.0 L1699.5 808.3 L1701.0 808.6 L1702.5 808.8 L1704.0 809.1 L1705.5 809.4 L1707.0 809.7 L1708.5 810.0 L1710.0 810.3 L1711.5 810.6 L1713.0 810.9 L1714.5 811.2 L1716.0 811.5 L1717.5 811.8 L1719.0 812.0 L1720.5 812.3 L1722.0 812.6 L1723.5 812.8 L1725.0 813.0 L1726.5 813.2 L1728.0 813.4 L1729.5 813.6 L1731.0 813.8 L1732.5 813.9 L1734.0 814.1 L1735.5 814.1 L1737.0 814.2 L1738.5 814.3 L1740.0 814.3 L1741.5 814.2 L1743.0 814.2 L1744.5 814.1 L1746.0 813.9 L1747.5 813.7 L1749.0 813.5 L1750.5 813.3 L1752.0 813.0 L1753.5 812.7 L1755.0 812.4 L1756.5 812.0 L1758.0 811.7 L1759.5 811.3 L1761.0 810.9 L1762.5 810.5 L1764.0 810.1 L1765.5 809.7 L1767.0 809.3 L1768.5 808.9 L1770.0 808.5 L1771.5 808.1 L1773.0 807.7 L1774.5 807.4 L1776.0 807.0 L1777.5 806.7 L1779.0 806.4 L1780.5 806.1 L1782.0 805.9 L1783.5 805.6 L1785.0 805.5 L1786.5 805.3 L1788.0 805.2 L1789.5 805.1 L1791.0 805.1 L1792.5 805.1 L1794.0 805.1 L1795.5 805.1 L1797.0 805.2 L1798.5 805.2 L1800.0 805.3 L1801.5 805.3 L1803.0 805.4 L1804.5 805.4 L1806.0 805.5 L1807.5 805.6 L1809.0 805.7 L1810.5 805.8 L1812.0 805.9 L1813.5 806.1 L1815.0 806.2 L1816.5 806.4 L1818.0 806.5 L1819.5 806.7 L1821.0 806.9 L1822.5 807.1 L1824.0 807.3 L1825.5 807.5 L1827.0 807.7 L1828.5 808.0 L1830.0 808.2 L1831.5 808.5 L1833.0 808.7 L1834.5 809.0 L1836.0 809.3 L1837.5 809.6 L1839.0 810.0 L1840.5 810.3 L1842.0 810.7 L1843.5 811.0 L1845.0 811.4 L1846.5 811.8 L1848.0 812.2 L1849.5 812.6 L1851.0 813.1 L1852.5 813.5 L1854.0 814.0 L1855.5 814.5 L1857.0 815.0" stroke="#00ff00" stroke-width="13" fill="none" stroke-linejoin="round"/>
<path d="M775.0 817.2 L776.5 814.8 L778.0 812.4 L779.5 810.0 L781.0 807.8 L782.5 805.7 L784.0 803.7 L785.5 801.9 L787.0 800.2 L788.5 798.7 L790.0 797.2 L791.5 795.8 L793.0 794.3 L794.5 792.9 L796.0 791.4 L797.5 789.9 L799.0 788.3 L800.5 786.5 L802.0 784.6 L803.5 782.6 L805.0 780.3 L806.5 777.6 L808.0 774.5 L809.5 771.1 L811.0 767.4 L812.5 763.6 L814.0 759.7 L815.5 755.9 L817.0 752.1 L818.5 748.0 L820.0 743.8 L821.5 739.5 L823.0 735.3 L824.5 731.1 L826.0 727.2 L827.5 723.4 L829.0 719.8 L830.5 716.4 L832.0 713.0 L833.5 709.6 L835.0 706.2 L836.5 702.8 L838.0 699.3 L839.5 695.7 L841.0 692.1 L842.5 688.4 L844.0 684.7 L845.5 681.1 L847.0 677.5 L848.5 674.0 L850.0 670.7 L851.5 667.5 L853.0 664.4 L854.5 661.3 L856.0 658.3 L857.5 655.4 L859.0 652.5 L860.5 649.5 L862.0 646.5 L863.5 643.5 L865.0 640.3 L866.5 636.9 L868.0 633.3 L869.5 629.7 L871.0 626.1 L872.5 622.7 L874.0 619.6 L875.5 616.8 L877.0 614.5 L878.5 612.3 L880.0 610.2 L881.5 608.2 L883.0 606.2 L884.5 604.4 L886.0 602.6 L887.5 601.0 L889.0 599.5 L890.5 598.2 L892.0 597.0 L893.5 596.0 L895.0 595.1 L896.5 594.4 L898.0 593.7 L899.5 593.0 L901.0 592.3 L902.5 591.7 L904.0 591.1 L905.5 590.5 L907.0 590.0 L908.5 589.5 L910.0 589.1 L911.5 588.8 L913.0 588.6 L914.5 588.4 L916.0 588.3 L917.5 588.3 L919.0 588.4 L920.5 588.6 L922.0 589.0 L923.5 589.4 L925.0 590.0 L926.5 590.6 L928.0 591.3 L929.5 592.1 L931.0 592.9 L932.5 593.7 L934.0 594.5 L935.5 595.4 L937.0 596.5 L938.5 597.7 L940.0 599.1 L941.5 600.7 L943.0 602.5 L944.5 604.3 L946.0 606.2 L947.5 608.2 L949.0 610.2 L950.5 612.3 L952.0 614.4 L953.5 616.7 L955.0 619.1 L956.5 621.7 L958.0 624.4 L959.5 627.2 L961.0 630.1 L962.5 632.9 L964.0 635.8 L965.5 638.7 L967.0 641.5 L968.5 644.3 L970.0 647.2 L971.5 650.1 L973.0 653.1 L974.5 656.1 L976.0 659.0 L977.5 662.0 L979.0 665.0 L980.5 667.9 L982.0 670.8 L983.5 673.7 L985.0 676.6 L986.5 679.4 L988.0 682.3 L989.5 685.2 L991.0 688.1 L992.5 691.0 L994.0 694.0 L995.5 697.1 L997.0 700.3 L998.5 703.6 L1000.0 707.0 L1001.5 710.3 L1003.0 713.7 L1004.5 716.8 L1006.0 719.8 L1007.5 722.6 L1009.0 725.2 L1010.5 727.7 L1012.0 730.1 L1013.5 732.4 L1015.0 734.6 L1016.5 736.8 L1018.0 739.0 L1019.5 741.1 L1021.0 743.2 L1022.5 745.3 L1024.0 747.4 L1025.5 749.5 L1027.0 751.7 L1028.5 753.9 L1030.0 756.1 L1031.5 758.4 L1033.0 760.6 L1034.5 762.7 L1036.0 764.8 L1037.5 766.8 L1039.0 768.6 L1040.5 770.4 L1042.0 771.9 L1043.5 773.3 L1045.0 774.5 L1046.5 775.7 L1048.0 776.9 L1049.5 778.0 L1051.0 779.0 L1052.5 780.0 L1054.0 781.0 L1055.5 781.9 L1057.0 782.8 L1058.5 783.7 L1060.0 784.5 L1061.5 785.2 L1063.0 785.9 L1064.5 786.6 L1066.0 787.2 L1067.5 787.8 L1069.0 788.3 L1070.5 788.8 L1072.0 789.2 L1073.5 789.6 L1075.0 790.0 L1076.5 790.4 L1078.0 790.8 L1079.5 791.1 L1081.0 791.5 L1082.5 791.8 L1084.0 792.1 L1085.5 792.4 L1087.0 792.6 L1088.5 792.9 L1090.0 793.2 L1091.5 793.4 L1093.0 793.7 L1094.5 793.9 L1096.0 794.2 L1097.5 794.4 L1099.0 794.7 L1100.5 794.9 L1102.0 795.1 L1103.5 795.3 L1105.0 795.5" stroke="#00ff00" stroke-width="18" fill="none" stroke-dasharray="16 14"/>
<path d="M205.5 811.5 L207.0 810.9 L208.5 810.4 L210.0 809.8 L211.5 809.3 L213.0 808.8 L214.5 808.3 L216.0 807.9 L217.5 807.5 L219.0 807.1 L220.5 806.7 L222.0 806.3 L223.5 806.0 L225.0 805.7 L226.5 805.4 L228.0 805.1 L229.5 804.8 L231.0 804.6 L232.5 804.4 L234.0 804.2 L235.5 804.1 L237.0 803.9 L238.5 803.8 L240.0 803.7 L241.5 803.6 L243.0 803.6 L244.5 803.5 L246.0 803.5 L247.5 803.5 L249.0 803.6 L250.5 803.8 L252.0 804.0 L253.5 804.2 L255.0 804.5 L256.5 804.9 L258.0 805.3 L259.5 805.7 L261.0 806.1 L262.5 806.6 L264.0 807.1 L265.5 807.6 L267.0 808.2 L268.5 808.7 L270.0 809.2 L271.5 809.8 L273.0 810.3 L274.5 810.8 L276.0 811.3 L277.5 811.8 L279.0 812.2 L280.5 812.7 L282.0 813.1 L283.5 813.4 L285.0 813.7 L286.5 814.0 L288.0 814.2 L289.5 814.4 L291.0 814.5 L292.5 814.5 L294.0 814.5 L295.5 814.3 L297.0 814.1 L298.5 813.9 L300.0 813.5 L301.5 813.1 L303.0 812.7 L304.5 812.2 L306.0 811.6 L307.5 811.1 L309.0 810.5 L310.5 809.9 L312.0 809.2 L313.5 808.6 L315.0 808.0 L316.5 807.3 L318.0 806.7 L319.5 806.1 L321.0 805.5 L322.5 805.0 L324.0 804.5 L325.5 804.0 L327.0 803.6 L328.5 803.2 L330.0 802.9 L331.5 802.6 L333.0 802.5 L334.5 802.4 L336.0 802.4 L337.5 802.5 L339.0 802.6 L340.5 802.9 L342.0 803.2 L343.5 803.6 L345.0 804.1 L346.5 804.6 L348.0 805.2 L349.5 805.8 L351.0 806.4 L352.5 807.1 L354.0 807.8 L355.5 808.4 L357.0 809.1 L358.5 809.8 L360.0 810.5 L361.5 811.2 L363.0 811.9 L364.5 812.5 L366.0 813.1 L367.5 813.6 L369.0 814.1 L370.5 814.5 L372.0 814.9 L373.5 815.2 L375.0 815.4 L376.5 815.6 L378.0 815.6 L379.5 815.6 L381.0 815.4 L382.5 815.2 L384.0 814.8 L385.5 814.4 L387.0 813.9 L388.5 813.3 L390.0 812.7 L391.5 812.0 L393.0 811.3 L394.5 810.6 L396.0 809.8 L397.5 809.0 L399.0 808.2 L400.5 807.5 L402.0 806.7 L403.5 805.9 L405.0 805.2 L406.5 804.5 L408.0 803.9 L409.5 803.3 L411.0 802.8 L412.5 802.3 L414.0 802.0 L415.5 801.7 L417.0 801.5 L418.5 801.5 L420.0 801.5 L421.5 801.6 L423.0 801.8 L424.5 802.1 L426.0 802.4 L427.5 802.8 L429.0 803.2 L430.5 803.7 L432.0 804.3 L433.5 804.9 L435.0 805.5 L436.5 806.1 L438.0 806.7 L439.5 807.4 L441.0 808.0 L442.5 808.7 L444.0 809.3 L445.5 810.0 L447.0 810.6 L448.5 811.2 L450.0 811.7 L451.5 812.3 L453.0 812.7 L454.5 813.1 L456.0 813.5 L457.5 813.8 L459.0 814.0 L460.5 814.2 L462.0 814.3 L463.5 814.2 L465.0 814.1 L466.5 813.8 L468.0 813.3 L469.5 812.8 L471.0 812.2 L472.5 811.4 L474.0 810.6 L475.5 809.8 L477.0 808.9 L478.5 807.9 L480.0 806.9 L481.5 806.0 L483.0 805.0 L484.5 804.0 L486.0 803.0 L487.5 802.1 L489.0 801.2 L490.5 800.3 L492.0 799.6 L493.5 798.9 L495.0 798.3 L496.5 797.8 L498.0 797.4 L499.5 797.2 L501.0 797.1 L502.5 797.1 L504.0 797.3 L505.5 797.5 L507.0 797.8 L508.5 798.1 L510.0 798.6 L511.5 799.1 L513.0 799.6 L514.5 800.2 L516.0 800.9 L517.5 801.6 L519.0 802.3 L520.5 803.0 L522.0 803.7 L523.5 804.5 L525.0 805.2 L526.5 805.9 L528.0 806.6 L529.5 807.3 L531.0 808.0 L532.5 808.6 L534.0 809.2 L535.5 809.7 L537.0 810.2 L538.5 810.6 L540.0 811.0 L541.5 811.2 L543.0 811.4 L544.5 811.5 L546.0 811.5 L547.5 811.3 L549.0 811.0 L550.5 810.6 L552.0 810.0 L553.5 809.4 L555.0 808.6 L556.5 807.8 L558.0 806.8 L559.5 805.9 L561.0 804.9 L562.5 803.8 L564.0 802.7 L565.5 801.6 L567.0 800.6 L568.5 799.5 L570.0 798.5 L571.5 797.5 L573.0 796.5 L574.5 795.6 L576.0 794.8 L577.5 794.0 L579.0 793.4 L580.5 792.9 L582.0 792.5 L583.5 792.2 L585.0 792.1 L586.5 792.1 L588.0 792.3 L589.5 792.6 L591.0 793.1 L592.5 793.6 L594.0 794.3 L595.5 795.1 L597.0 796.0 L598.5 796.9 L600.0 797.9 L601.5 798.9 L603.0 800.0 L604.5 801.1 L606.0 802.2 L607.5 803.2 L609.0 804.3 L610.5 805.4 L612.0 806.4 L613.5 807.3 L615.0 808.2 L616.5 809.0 L618.0 809.7 L619.5 810.3 L621.0 810.8 L622.5 811.2 L624.0 811.4 L625.5 811.5 L627.0 811.4 L628.5 811.2 L630.0 810.9 L631.5 810.4 L633.0 809.8 L634.5 809.0 L636.0 808.2 L637.5 807.3 L639.0 806.3 L640.5 805.3 L642.0 804.2 L643.5 803.0 L645.0 801.8 L646.5 800.5 L648.0 799.3 L649.5 798.0 L651.0 796.7 L652.5 795.5 L654.0 794.2 L655.5 793.0 L657.0 791.8 L658.5 790.6 L660.0 789.6 L661.5 788.5 L663.0 787.6 L664.5 786.7 L666.0 785.9 L667.5 785.3 L669.0 784.7 L670.5 784.3 L672.0 784.0 L673.5 783.8 L675.0 783.8 L676.5 784.1 L678.0 784.6 L679.5 785.3 L681.0 786.2 L682.5 787.2 L684.0 788.4 L685.5 789.7 L687.0 791.1 L688.5 792.6 L690.0 794.1 L691.5 795.6 L693.0 797.1 L694.5 798.6 L696.0 800.1 L697.5 801.4 L699.0 802.7 L700.5 803.8 L702.0 804.8 L703.5 805.6 L705.0 806.2 L706.5 806.6 L708.0 806.7 L709.5 806.6 L711.0 806.3 L712.5 805.9 L714.0 805.3 L715.5 804.5 L717.0 803.7 L718.5 802.7 L720.0 801.6 L721.5 800.4 L723.0 799.1 L724.5 797.8 L726.0 796.4 L727.5 795.0 L729.0 793.6 L730.5 792.2 L732.0 790.7 L733.5 789.3 L735.0 788.0 L736.5 786.6 L738.0 785.4 L739.5 784.2 L741.0 783.0 L742.5 782.0 L744.0 781.1 L745.5 780.3 L747.0 779.7 L748.5 779.2 L750.0 778.9 L751.5 778.8 L753.0 778.9 L754.5 779.2 L756.0 779.8 L757.5 780.6 L759.0 781.6 L760.5 782.7 L762.0 784.1 L763.5 785.5 L765.0 787.1 L766.5 788.8 L768.0 790.6 L769.5 792.4 L771.0 794.3 L772.5 796.2 L774.0 798.1 L775.5 800.0 L777.0 801.9 L778.5 803.6 L780.0 805.4 L781.5 807.0 L783.0 808.5 L784.5 809.9 L786.0 811.1 L787.5 812.2 L789.0 813.0 L790.5 813.7 L792.0 814.1 L793.5 814.3 L795.0 814.2 L796.5 813.8 L798.0 813.3 L799.5 812.5 L801.0 811.6 L802.5 810.5 L804.0 809.2 L805.5 807.8 L807.0 806.2 L808.5 804.6 L810.0 802.9 L811.5 801.1 L813.0 799.2 L814.5 797.3 L816.0 795.4 L817.5 793.5 L819.0 791.5 L820.5 789.7 L822.0 787.8 L823.5 786.0 L825.0 784.4 L826.5 782.7 L828.0 781.3 L829.5 779.9 L831.0 778.7 L832.5 777.6 L834.0 776.8 L835.5 776.1 L837.0 775.6 L838.5 775.4 L840.0 775.4 L841.5 775.6 L843.0 776.0 L844.5 776.7 L846.0 777.5 L847.5 778.4 L849.0 779.6 L850.5 780.8 L852.0 782.2 L853.5 783.7 L855.0 785.2 L856.5 786.9 L858.0 788.6 L859.5 790.3 L861.0 792.1 L862.5 793.9 L864.0 795.7 L865.5 797.5 L867.0 799.2 L868.5 800.9 L870.0 802.6 L871.5 804.1 L873.0 805.6 L874.5 807.0 L876.0 808.3 L877.5 809.4 L879.0 810.4 L880.5 811.2 L882.0 811.9 L883.5 812.4 L885.0 812.6 L886.5 812.7 L888.0 812.5 L889.5 812.1 L891.0 811.6 L892.5 810.9 L894.0 810.0 L895.5 809.0 L897.0 807.9 L898.5 806.6 L900.0 805.2 L901.5 803.7 L903.0 802.1 L904.5 800.4 L906.0 798.6 L907.5 796.8 L909.0 794.9 L910.5 793.0 L912.0 791.1 L913.5 789.1 L915.0 787.1 L916.5 785.2 L918.0 783.2 L919.5 781.2 L921.0 779.3 L922.5 777.5 L924.0 775.6 L925.5 773.9 L927.0 772.2 L928.5 770.6 L930.0 769.1 L931.5 767.7 L933.0 766.4 L934.5 765.3 L936.0 764.2 L937.5 763.4 L939.0 762.7 L940.5 762.1 L942.0 761.8 L943.5 761.6 L945.0 761.7 L946.5 761.9 L948.0 762.3 L949.5 763.0 L951.0 763.8 L952.5 764.8 L954.0 765.9 L955.5 767.2 L957.0 768.6 L958.5 770.1 L960.0 771.7 L961.5 773.4 L963.0 775.2 L964.5 777.1 L966.0 779.0 L967.5 780.9 L969.0 782.9 L970.5 784.9 L972.0 787.0 L973.5 789.0 L975.0 791.0 L976.5 792.9 L978.0 794.9 L979.5 796.7 L981.0 798.5 L982.5 800.3 L984.0 801.9 L985.5 803.5 L987.0 804.9 L988.5 806.2 L990.0 807.4 L991.5 808.4 L993.0 809.3 L994.5 809.9 L996.0 810.4 L997.5 810.7 L999.0 810.8 L1000.5 810.6 L1002.0 810.1 L1003.5 809.3 L1005.0 808.3 L1006.5 806.9 L1008.0 805.4 L1009.5 803.6 L1011.0 801.7 L1012.5 799.6 L1014.0 797.4 L1015.5 795.1 L1017.0 792.7 L1018.5 790.2 L1020.0 787.7 L1021.5 785.2 L1023.0 782.7 L1024.5 780.2 L1026.0 777.8 L1027.5 775.5 L1029.0 773.2 L1030.5 771.1 L1032.0 769.2 L1033.5 767.4 L1035.0 765.8 L1036.5 764.5 L1038.0 763.4 L1039.5 762.5 L1041.0 761.9 L1042.5 761.3 L1044.0 760.7 L1045.5 760.1 L1047.0 759.6 L1048.5 759.1 L1050.0 758.6 L1051.5 758.1 L1053.0 757.6 L1054.5 757.2 L1056.0 756.8 L1057.5 756.4 L1059.0 756.1 L1060.5 755.8 L1062.0 755.6 L1063.5 755.4 L1065.0 755.3 L1066.5 755.2 L1068.0 755.2 L1069.5 755.3 L1071.0 755.6 L1072.5 756.0 L1074.0 756.6 L1075.5 757.3 L1077.0 758.1 L1078.5 759.1 L1080.0 760.1 L1081.5 761.3 L1083.0 762.5 L1084.5 763.8 L1086.0 765.1 L1087.5 766.5 L1089.0 768.0 L1090.5 769.4 L1092.0 770.9 L1093.5 772.3 L1095.0 773.8 L1096.5 775.2 L1098.0 776.6 L1099.5 777.9 L1101.0 779.2 L1102.5 780.7 L1104.0 782.4 L1105.5 784.2 L1107.0 786.1 L1108.5 788.1 L1110.0 790.2 L1111.5 792.3 L1113.0 794.5 L1114.5 796.6 L1116.0 798.7 L1117.5 800.7 L1119.0 802.7 L1120.5 804.5 L1122.0 806.3 L1123.5 807.8 L1125.0 809.2 L1126.5 810.4 L1128.0 811.4 L1129.5 812.1 L1131.0 812.5 L1132.5 812.7 L1134.0 812.1 L1135.5 810.6 L1137.0 808.3 L1138.5 805.5 L1140.0 802.3 L1141.5 798.8 L1143.0 795.2 L1144.5 791.8 L1146.0 788.6 L1147.5 785.9 L1149.0 783.3 L1150.5 780.7 L1152.0 778.1 L1153.5 775.5 L1155.0 772.9 L1156.5 770.3 L1158.0 767.8 L1159.5 765.2 L1161.0 762.7 L1162.5 760.1 L1164.0 757.6 L1165.5 755.1 L1167.0 752.6 L1168.5 750.0 L1170.0 747.5 L1171.5 745.0 L1173.0 742.5 L1174.5 740.0 L1176.0 737.5 L1177.5 735.1 L1179.0 732.6 L1180.5 730.1 L1182.0 727.6 L1183.5 725.2 L1185.0 722.7 L1186.5 720.2 L1188.0 717.7 L1189.5 715.3 L1191.0 712.8 L1192.5 710.3 L1194.0 707.8 L1195.5 705.4 L1197.0 703.0 L1198.5 700.5 L1200.0 698.1 L1201.5 695.8 L1203.0 693.4 L1204.5 691.1 L1206.0 688.8 L1207.5 686.5 L1209.0 684.2 L1210.5 681.9 L1212.0 679.7 L1213.5 677.4 L1215.0 675.2 L1216.5 673.0 L1218.0 670.8 L1219.5 668.6 L1221.0 666.5 L1222.5 664.4 L1224.0 662.3 L1225.5 660.2 L1227.0 658.1 L1228.5 656.0 L1230.0 653.9 L1231.5 651.9 L1233.0 649.8 L1234.5 647.7 L1236.0 645.7 L1237.5 643.7 L1239.0 641.8 L1240.5 639.9 L1242.0 638.1 L1243.5 636.3 L1245.0 634.6 L1246.5 633.0 L1248.0 631.4 L1249.5 629.9 L1251.0 628.4 L1252.5 626.9 L1254.0 625.5 L1255.5 624.0 L1257.0 622.6 L1258.5 621.2 L1260.0 619.9 L1261.5 618.5 L1263.0 617.3 L1264.5 616.0 L1266.0 614.8 L1267.5 613.7 L1269.0 612.6 L1270.5 611.6 L1272.0 610.6 L1273.5 609.8 L1275.0 609.0 L1276.5 608.2 L1278.0 607.5 L1279.5 606.9 L1281.0 606.3 L1282.5 605.7 L1284.0 605.1 L1285.5 604.5 L1287.0 603.9 L1288.5 603.4 L1290.0 602.9 L1291.5 602.4 L1293.0 601.9 L1294.5 601.5 L1296.0 601.0 L1297.5 600.6 L1299.0 600.2 L1300.5 599.7 L1302.0 599.3 L1303.5 598.9 L1305.0 598.6 L1306.5 598.2 L1308.0 597.8 L1309.5 597.5 L1311.0 597.1 L1312.5 596.8 L1314.0 596.4 L1315.5 596.1 L1317.0 595.7 L1318.5 595.4 L1320.0 595.0 L1321.5 594.7 L1323.0 594.3 L1324.5 594.0 L1326.0 593.6 L1327.5 593.2 L1329.0 592.9 L1330.5 592.5 L1332.0 592.2 L1333.5 591.9 L1335.0 591.6 L1336.5 591.3 L1338.0 591.1 L1339.5 590.9 L1341.0 590.8 L1342.5 590.6 L1344.0 590.6 L1345.5 590.5 L1347.0 590.6 L1348.5 590.6 L1350.0 590.7 L1351.5 590.7 L1353.0 590.9 L1354.5 591.0 L1356.0 591.2 L1357.5 591.3 L1359.0 591.5 L1360.5 591.7 L1362.0 591.9 L1363.5 592.2 L1365.0 592.4 L1366.5 592.7 L1368.0 593.0 L1369.5 593.3 L1371.0 593.5 L1372.5 593.8 L1374.0 594.1 L1375.5 594.5 L1377.0 594.8 L1378.5 595.1 L1380.0 595.5 L1381.5 596.0 L1383.0 596.5 L1384.5 597.1 L1386.0 597.6 L1387.5 598.3 L1389.0 599.0 L1390.5 599.7 L1392.0 600.4 L1393.5 601.2 L1395.0 602.0 L1396.5 602.9 L1398.0 603.7 L1399.5 604.6 L1401.0 605.5 L1402.5 606.5 L1404.0 607.4 L1405.5 608.4 L1407.0 609.4 L1408.5 610.4 L1410.0 611.4 L1411.5 612.4 L1413.0 613.4 L1414.5 614.4 L1416.0 615.4 L1417.5 616.4 L1419.0 617.5 L1420.5 618.6 L1422.0 619.7 L1423.5 620.9 L1425.0 622.1 L1426.5 623.3 L1428.0 624.6 L1429.5 625.9 L1431.0 627.2 L1432.5 628.6 L1434.0 629.9 L1435.5 631.4 L1437.0 632.8 L1438.5 634.3 L1440.0 635.7 L1441.5 637.3 L1443.0 638.8 L1444.5 640.3 L1446.0 641.9 L1447.5 643.5 L1449.0 645.1 L1450.5 646.7 L1452.0 648.3 L1453.5 650.0 L1455.0 651.7 L1456.5 653.5 L1458.0 655.3 L1459.5 657.1 L1461.0 659.0 L1462.5 660.9 L1464.0 662.8 L1465.5 664.8 L1467.0 666.9 L1468.5 668.9 L1470.0 671.0 L1471.5 673.1 L1473.0 675.3 L1474.5 677.4 L1476.0 679.6 L1477.5 681.9 L1479.0 684.3 L1480.5 686.7 L1482.0 689.2 L1483.5 691.7 L1485.0 694.2 L1486.5 696.8 L1488.0 699.4 L1489.5 702.1 L1491.0 704.7 L1492.5 707.4 L1494.0 710.1 L1495.5 712.8 L1497.0 715.5 L1498.5 718.3 L1500.0 721.1 L1501.5 724.0 L1503.0 726.8 L1504.5 729.7 L1506.0 732.5 L1507.5 735.4 L1509.0 738.2 L1510.5 741.0 L1512.0 743.8 L1513.5 746.6 L1515.0 749.3 L1516.5 752.1 L1518.0 754.8 L1519.5 757.6 L1521.0 760.3 L1522.5 763.1 L1524.0 765.8 L1525.5 768.6 L1527.0 771.4 L1528.5 774.1 L1530.0 776.9 L1531.5 779.7 L1533.0 782.5 L1534.5 785.2 L1536.0 788.0 L1537.5 790.7 L1539.0 793.8 L1540.5 797.2 L1542.0 800.7 L1543.5 804.1 L1545.0 807.2 L1546.5 809.8 L1548.0 811.7 L1549.5 812.6 L1551.0 812.5 L1552.5 811.7 L1554.0 810.2 L1555.5 808.2 L1557.0 805.8 L1558.5 803.1 L1560.0 800.1 L1561.5 797.0 L1563.0 793.9 L1564.5 790.9 L1566.0 788.0 L1567.5 785.4 L1569.0 783.2 L1570.5 781.4 L1572.0 779.8 L1573.5 778.2 L1575.0 776.6 L1576.5 775.0 L1578.0 773.6 L1579.5 772.1 L1581.0 770.8 L1582.5 769.5 L1584.0 768.3 L1585.5 767.2 L1587.0 766.2 L1588.5 765.3 L1590.0 764.6 L1591.5 763.9 L1593.0 763.2 L1594.5 762.5 L1596.0 761.8 L1597.5 761.2 L1599.0 760.5 L1600.5 759.9 L1602.0 759.4 L1603.5 758.9 L1605.0 758.4 L1606.5 758.0 L1608.0 757.7 L1609.5 757.4 L1611.0 757.2 L1612.5 757.1 L1614.0 757.0 L1615.5 757.1 L1617.0 757.3 L1618.5 757.6 L1620.0 758.0 L1621.5 758.5 L1623.0 759.1 L1624.5 759.8 L1626.0 760.6 L1627.5 761.4 L1629.0 762.3 L1630.5 763.2 L1632.0 764.1 L1633.5 765.1 L1635.0 766.0 L1636.5 767.0 L1638.0 767.9 L1639.5 768.9 L1641.0 769.8 L1642.5 770.9 L1644.0 772.1 L1645.5 773.4 L1647.0 774.9 L1648.5 776.5 L1650.0 778.1 L1651.5 779.8 L1653.0 781.6 L1654.5 783.4 L1656.0 785.3 L1657.5 787.2 L1659.0 789.1 L1660.5 791.0 L1662.0 792.9 L1663.5 794.7 L1665.0 796.6 L1666.5 798.3 L1668.0 800.0 L1669.5 801.7 L1671.0 803.2 L1672.5 804.6 L1674.0 805.9 L1675.5 807.1 L1677.0 808.2 L1678.5 809.1 L1680.0 809.8 L1681.5 810.3 L1683.0 810.7 L1684.5 810.8 L1686.0 810.7 L1687.5 810.1 L1689.0 809.0 L1690.5 807.6 L1692.0 805.9 L1693.5 803.9 L1695.0 801.8 L1696.5 799.4 L1698.0 797.0 L1699.5 794.6 L1701.0 792.1 L1702.5 789.7 L1704.0 787.5 L1705.5 785.4 L1707.0 783.5 L1708.5 781.9 L1710.0 780.6 L1711.5 779.5 L1713.0 778.4 L1714.5 777.3 L1716.0 776.2 L1717.5 775.2 L1719.0 774.1 L1720.5 773.1 L1722.0 772.1 L1723.5 771.2 L1725.0 770.3 L1726.5 769.5 L1728.0 768.7 L1729.5 768.1 L1731.0 767.5 L1732.5 767.0 L1734.0 766.5 L1735.5 766.2 L1737.0 766.0 L1738.5 766.0 L1740.0 766.0 L1741.5 766.3 L1743.0 766.7 L1744.5 767.3 L1746.0 768.0 L1747.5 768.9 L1749.0 769.8 L1750.5 770.9 L1752.0 772.0 L1753.5 773.2 L1755.0 774.4 L1756.5 775.7 L1758.0 777.0 L1759.5 778.3 L1761.0 779.6 L1762.5 780.9 L1764.0 782.1 L1765.5 783.3 L1767.0 784.6 L1768.5 786.1 L1770.0 787.8 L1771.5 789.6 L1773.0 791.4 L1774.5 793.4 L1776.0 795.3 L1777.5 797.3 L1779.0 799.3 L1780.5 801.2 L1782.0 803.0 L1783.5 804.7 L1785.0 806.3 L1786.5 807.7 L1788.0 808.9 L1789.5 809.9 L1791.0 810.7 L1792.5 811.1 L1794.0 811.3 L1795.5 811.0 L1797.0 810.2 L1798.5 809.0 L1800.0 807.4 L1801.5 805.6 L1803.0 803.5 L1804.5 801.3 L1806.0 799.0 L1807.5 796.6 L1809.0 794.4 L1810.5 792.3 L1812.0 790.4 L1813.5 788.8 L1815.0 787.5 L1816.5 786.4 L1818.0 785.3 L1819.5 784.2 L1821.0 783.1 L1822.5 782.1 L1824.0 781.1 L1825.5 780.1 L1827.0 779.1 L1828.5 778.3 L1830.0 777.5 L1831.5 776.8 L1833.0 776.2 L1834.5 775.7 L1836.0 775.3 L1837.5 775.0 L1839.0 774.9 L1840.5 774.9 L1842.0 774.9 L1843.5 775.0 L1845.0 775.1 L1846.5 775.3 L1848.0 775.5 L1849.5 775.8 L1851.0 776.1 L1852.5 776.5 L1854.0 777.0 L1855.5 777.6 L1857.0 778.3" stroke="#00ffff" stroke-width="13" fill="none" stroke-linejoin="round"/>
<path d="M948.4 758.6 L949.9 758.5 L951.4 758.4 L952.9 758.3 L954.4 758.2 L955.9 758.1 L957.4 758.0 L958.9 758.0 L960.4 757.9 L961.9 757.9 L963.4 757.8 L964.9 757.8 L966.4 757.8 L967.9 757.8 L969.4 757.7 L970.9 757.7 L972.4 757.7 L973.9 757.7 L975.4 757.7 L976.9 757.7 L978.4 757.7 L979.9 757.7 L981.4 757.7 L982.9 757.8 L984.4 757.9 L985.9 758.1 L987.4 758.3 L988.9 758.5 L990.5 758.7 L992.0 758.9 L993.5 759.2 L995.0 759.5 L996.5 759.7 L998.0 760.0 L999.5 760.2 L1001.0 760.5 L1002.5 760.7 L1004.0 760.8 L1005.5 761.0 L1007.0 761.1 L1008.5 761.2 L1010.0 761.2 L1011.5 761.3 L1013.0 761.3 L1014.5 761.4 L1016.0 761.4 L1017.5 761.5 L1019.0 761.5 L1020.5 761.6 L1022.0 761.6 L1023.5 761.6 L1025.0 761.7 L1026.5 761.7 L1028.0 761.7 L1029.5 761.8 L1031.0 761.8 L1032.5 761.8 L1034.0 761.8 L1035.5 761.8 L1037.0 761.8 L1038.5 761.8 L1040.0 761.8 L1041.5 761.7 L1043.0 761.6 L1044.5 761.5 L1046.0 761.3 L1047.5 761.1 L1049.0 760.9 L1050.5 760.7 L1052.0 760.4 L1053.5 760.2 L1055.0 759.9 L1056.5 759.5 L1058.0 759.2 L1059.5 758.8 L1061.0 758.5 L1062.5 758.1 L1064.0 757.7 L1065.5 757.3 L1067.0 756.9 L1068.5 756.5 L1070.0 756.0 L1071.5 755.3 L1073.1 754.6 L1074.6 753.8 L1076.1 752.9 L1077.6 751.9 L1079.1 750.9 L1080.6 749.8 L1082.1 748.7 L1083.6 747.5 L1085.1 746.3 L1086.6 745.2 L1088.1 744.0 L1089.6 742.8 L1091.1 741.7 L1092.6 740.6 L1094.1 739.4 L1095.6 738.3 L1097.1 737.1 L1098.6 735.9 L1100.1 734.7 L1101.6 733.5 L1103.1 732.3 L1104.6 731.0 L1106.1 729.7 L1107.6 728.4 L1109.1 727.1 L1110.6 725.8 L1112.1 724.5 L1113.6 723.2 L1115.1 721.9 L1116.6 720.5 L1118.1 719.2 L1119.6 717.8 L1121.1 716.4 L1122.6 715.0 L1124.1 713.6 L1125.6 712.2 L1127.1 710.8 L1128.6 709.3 L1130.1 707.9 L1131.6 706.4 L1133.1 705.0 L1134.6 703.5 L1136.1 702.0 L1137.6 700.5 L1139.1 699.0 L1140.6 697.5 L1142.1 696.0 L1143.6 694.5 L1145.1 692.9 L1146.6 691.4 L1148.1 689.8 L1149.6 688.2 L1151.1 686.7 L1152.6 685.1 L1154.1 683.5 L1155.7 682.0 L1157.2 680.5 L1158.7 678.9 L1160.2 677.4 L1161.7 675.9 L1163.2 674.4 L1164.7 673.0 L1166.2 671.5 L1167.7 670.0 L1169.2 668.5 L1170.7 667.0 L1172.2 665.6 L1173.7 664.1 L1175.2 662.7 L1176.7 661.3 L1178.2 659.9 L1179.7 658.5 L1181.2 657.2 L1182.7 655.9 L1184.2 654.5 L1185.7 653.3 L1187.2 652.0 L1188.7 650.7 L1190.2 649.5 L1191.7 648.2 L1193.2 647.0 L1194.7 645.8 L1196.2 644.6 L1197.7 643.4 L1199.2 642.2 L1200.7 641.0 L1202.2 639.9 L1203.7 638.7 L1205.2 637.6 L1206.7 636.4 L1208.2 635.2 L1209.7 634.1 L1211.2 632.9 L1212.7 631.8 L1214.2 630.6 L1215.7 629.5 L1217.2 628.3 L1218.7 627.2 L1220.2 626.1 L1221.7 625.1 L1223.2 624.0 L1224.7 623.0 L1226.2 622.0 L1227.7 621.1 L1229.2 620.1 L1230.7 619.2 L1232.2 618.4 L1233.7 617.5 L1235.2 616.7 L1236.7 615.9 L1238.3 615.1 L1239.8 614.3 L1241.3 613.5 L1242.8 612.8 L1244.3 612.0 L1245.8 611.3 L1247.3 610.6 L1248.8 609.9 L1250.3 609.2 L1251.8 608.5 L1253.3 607.8 L1254.8 607.2 L1256.3 606.5 L1257.8 605.8 L1259.3 605.1 L1260.8 604.5 L1262.3 603.8 L1263.8 603.1 L1265.3 602.5 L1266.8 601.8 L1268.3 601.2 L1269.8 600.5 L1271.3 599.9 L1272.8 599.3 L1274.3 598.7 L1275.8 598.1 L1277.3 597.6 L1278.8 597.1 L1280.3 596.6 L1281.8 596.1 L1283.3 595.7 L1284.8 595.2 L1286.3 594.8 L1287.8 594.4 L1289.3 594.1 L1290.8 593.7 L1292.3 593.3 L1293.8 592.9 L1295.3 592.6 L1296.8 592.2 L1298.3 591.9 L1299.8 591.6 L1301.3 591.3 L1302.8 591.0 L1304.3 590.7 L1305.8 590.5 L1307.3 590.2 L1308.8 590.0 L1310.3 589.8 L1311.8 589.6 L1313.3 589.4 L1314.8 589.3 L1316.3 589.2 L1317.8 589.0 L1319.3 588.9 L1320.9 588.8 L1322.4 588.7 L1323.9 588.6 L1325.4 588.5 L1326.9 588.4 L1328.4 588.3 L1329.9 588.3 L1331.4 588.3 L1332.9 588.3 L1334.4 588.3 L1335.9 588.3 L1337.4 588.3 L1338.9 588.3 L1340.4 588.4 L1341.9 588.4 L1343.4 588.5 L1344.9 588.5 L1346.4 588.6 L1347.9 588.6 L1349.4 588.7 L1350.9 588.7 L1352.4 588.8 L1353.9 588.9 L1355.4 589.0 L1356.9 589.0 L1358.4 589.1 L1359.9 589.2 L1361.4 589.3 L1362.9 589.4 L1364.4 589.6 L1365.9 589.7 L1367.4 589.8 L1368.9 589.9 L1370.4 590.1 L1371.9 590.2 L1373.4 590.4 L1374.9 590.5 L1376.4 590.7 L1377.9 590.9 L1379.4 591.1 L1380.9 591.3 L1382.4 591.5 L1383.9 591.7 L1385.4 591.9 L1386.9 592.2 L1388.4 592.4 L1389.9 592.7 L1391.4 593.0 L1392.9 593.3 L1394.4 593.6 L1395.9 593.9 L1397.4 594.2 L1398.9 594.5 L1400.4 594.8 L1401.9 595.1 L1403.5 595.5 L1405.0 595.8 L1406.5 596.2 L1408.0 596.6 L1409.5 597.0 L1411.0 597.4 L1412.5 597.9 L1414.0 598.4 L1415.5 598.8 L1417.0 599.3 L1418.5 599.8 L1420.0 600.3 L1421.5 600.9 L1423.0 601.4 L1424.5 602.0 L1426.0 602.5 L1427.5 603.1 L1429.0 603.7 L1430.5 604.3 L1432.0 604.9 L1433.5 605.5 L1435.0 606.1 L1436.5 606.7 L1438.0 607.4 L1439.5 608.0 L1441.0 608.7 L1442.5 609.4 L1444.0 610.1 L1445.5 610.9 L1447.0 611.6 L1448.5 612.4 L1450.0 613.2 L1451.5 614.0 L1453.0 614.9 L1454.5 615.7 L1456.0 616.6 L1457.5 617.5 L1459.0 618.4 L1460.5 619.3 L1462.0 620.2 L1463.5 621.1 L1465.0 622.1 L1466.5 623.1 L1468.0 624.1 L1469.5 625.2 L1471.0 626.2 L1472.5 627.3 L1474.0 628.5 L1475.5 629.6 L1477.0 630.8 L1478.5 631.9 L1480.0 633.1 L1481.5 634.3 L1483.0 635.5 L1484.5 636.7 L1486.1 637.9 L1487.6 639.1 L1489.1 640.3 L1490.6 641.5 L1492.1 642.7 L1493.6 644.0 L1495.1 645.3 L1496.6 646.5 L1498.1 647.8 L1499.6 649.1 L1501.1 650.4 L1502.6 651.8 L1504.1 653.1 L1505.6 654.4 L1507.1 655.7 L1508.6 657.1 L1510.1 658.4 L1511.6 659.8 L1513.1 661.2 L1514.6 662.5 L1516.1 663.9 L1517.6 665.3 L1519.1 666.7 L1520.6 668.2 L1522.1 669.6 L1523.6 671.0 L1525.1 672.4 L1526.6 673.9 L1528.1 675.3 L1529.6 676.8 L1531.1 678.2 L1532.6 679.7 L1534.1 681.1 L1535.6 682.6 L1537.1 684.1 L1538.6 685.6 L1540.1 687.1 L1541.6 688.6 L1543.1 690.1 L1544.6 691.6 L1546.1 693.1 L1547.6 694.6 L1549.1 696.1 L1550.6 697.6 L1552.1 699.1 L1553.6 700.6 L1555.1 702.1 L1556.6 703.6 L1558.1 705.1 L1559.6 706.6 L1561.1 708.1 L1562.6 709.6 L1564.1 711.1 L1565.6 712.5 L1567.1 714.0 L1568.7 715.5 L1570.2 716.9 L1571.7 718.3 L1573.2 719.7 L1574.7 721.1 L1576.2 722.4 L1577.7 723.8 L1579.2 725.1 L1580.7 726.4 L1582.2 727.7 L1583.7 729.0 L1585.2 730.3 L1586.7 731.6 L1588.2 732.8 L1589.7 734.0 L1591.2 735.2 L1592.7 736.4 L1594.2 737.6 L1595.7 738.7 L1597.2 739.8 L1598.7 740.9 L1600.2 742.0 L1601.7 743.0 L1603.2 744.1 L1604.7 745.2 L1606.2 746.3 L1607.7 747.3 L1609.2 748.4 L1610.7 749.4 L1612.2 750.4 L1613.7 751.3 L1615.2 752.3 L1616.7 753.1 L1618.2 753.9 L1619.7 754.7 L1621.2 755.4 L1622.7 756.0 L1624.2 756.6 L1625.7 757.2 L1627.2 757.7 L1628.7 758.3 L1630.2 758.8 L1631.7 759.3 L1633.2 759.8 L1634.7 760.3 L1636.2 760.8 L1637.7 761.2 L1639.2 761.7 L1640.7 762.1 L1642.2 762.5 L1643.7 762.8 L1645.2 763.2 L1646.7 763.5 L1648.2 763.7 L1649.7 764.0 L1651.3 764.2 L1652.8 764.4 L1654.3 764.5 L1655.8 764.6 L1657.3 764.7 L1658.8 764.8 L1660.3 764.9 L1661.8 765.0 L1663.3 765.1 L1664.8 765.2 L1666.3 765.3 L1667.8 765.3 L1669.3 765.4 L1670.8 765.5 L1672.3 765.5 L1673.8 765.6 L1675.3 765.6 L1676.8 765.6 L1678.3 765.7 L1679.8 765.7 L1681.3 765.7 L1682.8 765.7 L1684.3 765.7 L1685.8 765.7 L1687.3 765.6 L1688.8 765.5 L1690.3 765.3 L1691.8 765.1 L1693.3 764.9 L1694.8 764.6 L1696.3 764.4 L1697.8 764.1 L1699.3 763.8 L1700.8 763.4 L1702.3 763.1 L1703.8 762.8 L1705.3 762.5 L1706.8 762.2 L1708.3 761.9 L1709.8 761.6 L1711.3 761.4 L1712.8 761.1 L1714.3 760.9 L1715.8 760.7 L1717.3 760.4 L1718.8 760.2 L1720.3 759.9 L1721.8 759.7 L1723.3 759.4 L1724.8 759.2 L1726.3 758.9 L1727.8 758.7 L1729.3 758.5 L1730.8 758.2 L1732.3 758.0 L1733.9 757.9 L1735.4 757.7 L1736.9 757.5 L1738.4 757.4 L1739.9 757.3 L1741.4 757.3 L1742.9 757.3 L1744.4 757.3 L1745.9 757.3 L1747.4 757.4 L1748.9 757.5 L1750.4 757.7 L1751.9 757.9 L1753.4 758.1 L1754.9 758.4 L1756.4 758.6 L1757.9 758.9 L1759.4 759.2 L1760.9 759.6 L1762.4 759.9 L1763.9 760.3 L1765.4 760.6 L1766.9 761.0 L1768.4 761.4 L1769.9 761.8 L1771.4 762.2 L1772.9 762.6 L1774.4 763.0 L1775.9 763.3 L1777.4 763.8 L1778.9 764.3 L1780.4 764.8 L1781.9 765.3 L1783.4 765.9 L1784.9 766.5 L1786.4 767.1 L1787.9 767.7 L1789.4 768.3 L1790.9 769.0 L1792.4 769.6 L1793.9 770.3 L1795.4 771.0 L1796.9 771.6 L1798.4 772.3 L1799.9 772.9 L1801.4 773.5 L1802.9 774.1 L1804.4 774.8 L1805.9 775.4 L1807.4 776.1 L1808.9 776.8 L1810.4 777.5 L1811.9 778.2 L1813.4 778.9 L1814.9 779.6 L1816.5 780.3 L1818.0 781.0 L1819.5 781.7 L1821.0 782.3 L1822.5 782.9 L1824.0 783.5 L1825.5 784.0 L1827.0 784.5 L1828.5 784.9 L1830.0 785.3 L1831.5 785.6 L1833.0 786.0 L1834.5 786.3 L1836.0 786.7 L1837.5 787.0 L1839.0 787.3 L1840.5 787.6 L1842.0 787.9 L1843.5 788.2 L1845.0 788.4 L1846.5 788.7 L1848.0 788.9 L1849.5 789.1 L1851.0 789.3 L1852.5 789.4 L1854.0 789.6 L1855.5 789.7 L1857.0 789.8" stroke="#00ffff" stroke-width="18" fill="none" stroke-dasharray="16 14"/>
<text class="tk" text-anchor="middle" transform="translate(294.25 873.25) scale(1 1.045)">-1</text>
<text class="tk" text-anchor="middle" transform="translate(479.75 873.25) scale(1 1.045)">0</text>
<text class="tk" text-anchor="middle" transform="translate(661.25 873.25) scale(1 1.045)">1</text>
<text class="tk" text-anchor="middle" transform="translate(846.25 873.25) scale(1 1.045)">2</text>
<text class="tk" text-anchor="middle" transform="translate(1029.75 873.25) scale(1 1.045)">3</text>
<text class="tk" text-anchor="middle" transform="translate(1213.25 873.25) scale(1 1.045)">4</text>
<text class="tk" text-anchor="middle" transform="translate(1396.75 873.25) scale(1 1.045)">5</text>
<text class="tk" text-anchor="middle" transform="translate(1580.25 873.25) scale(1 1.045)">6</text>
<text class="tk" text-anchor="middle" transform="translate(1763.75 873.25) scale(1 1.045)">7</text>
<text class="tk" text-anchor="end" transform="translate(191.60 834.15) scale(1 1.045)">0</text>
<text class="tk" text-anchor="end" transform="translate(193.60 719.65) scale(1 1.045)">0.5</text>
<text class="tk" text-anchor="end" transform="translate(189.10 605.15) scale(1 1.045)">1</text>
<text class="ti" x="1030.5" y="562.7" text-anchor="middle">Transmission Mode</text>
<text class="lx" font-style="italic" transform="translate(858.53 945.85) scale(1.134 0.982)">L</text>
<text class="lx" transform="translate(920.32 950.39) scale(1.421 0.916)">=</text>
<text class="lx" transform="translate(1001.24 947.18) scale(0.921 1.071)">(</text>
<text class="lx" font-style="italic" transform="translate(1025.31 945.29) scale(1.147 0.935)">ϕ</text>
<text class="lx" font-style="italic" transform="translate(1070.59 946.81) scale(0.997 0.965)">ρ</text>
<text class="lx" transform="translate(1105.77 947.18) scale(0.916 1.071)">)</text>
<text class="lx" transform="translate(1135.30 963.25) scale(1.435 1.443)">/</text>
<text class="lx" font-style="italic" transform="translate(1172.31 946.95) scale(1.156 0.967)">λ</text>
<text class="lx" transform="translate(101.81 799.25) rotate(-90) scale(1.000 1.075)">|</text>
<text class="lx" font-style="italic" transform="translate(101.40 779.55) rotate(-90) scale(1.200 1.010)">P</text>
<text class="lx" font-style="italic" transform="translate(102.80 724.30) rotate(-90) scale(1.250 1.082)">S</text>
<text class="lx" font-style="italic" transform="translate(101.40 676.35) rotate(-90) scale(1.131 1.010)">F</text>
<text class="lx" transform="translate(101.81 619.80) rotate(-90) scale(0.950 1.075)">|</text>
<g fill="none" stroke="#262626" stroke-width="3.5">
<rect x="205.5" y="1067.5" width="1651.5" height="229.0"/>
<path d="M297.25 1067.50V1084.00M297.25 1296.50V1280.00"/>
<path d="M480.75 1067.50V1084.00M480.75 1296.50V1280.00"/>
<path d="M664.25 1067.50V1084.00M664.25 1296.50V1280.00"/>
<path d="M847.75 1067.50V1084.00M847.75 1296.50V1280.00"/>
<path d="M1031.25 1067.50V1084.00M1031.25 1296.50V1280.00"/>
<path d="M1214.75 1067.50V1084.00M1214.75 1296.50V1280.00"/>
<path d="M1398.25 1067.50V1084.00M1398.25 1296.50V1280.00"/>
<path d="M1581.75 1067.50V1084.00M1581.75 1296.50V1280.00"/>
<path d="M1765.25 1067.50V1084.00M1765.25 1296.50V1280.00"/>
<path d="M205.50 1296.50H222.00M1857.00 1296.50H1840.50"/>
<path d="M205.50 1182.00H222.00M1857.00 1182.00H1840.50"/>
<path d="M205.50 1067.50H222.00M1857.00 1067.50H1840.50"/>
</g>
<path d="M205.5 1271.3 L207.0 1271.3 L208.5 1271.4 L210.0 1271.5 L211.5 1271.7 L213.0 1271.9 L214.5 1272.2 L216.0 1272.5 L217.5 1272.8 L219.0 1273.1 L220.5 1273.5 L222.0 1274.0 L223.5 1275.0 L225.0 1276.4 L226.5 1278.0 L228.0 1279.8 L229.5 1281.5 L231.0 1283.0 L232.5 1284.2 L234.0 1284.9 L235.5 1285.0 L237.0 1284.9 L238.5 1284.5 L240.0 1283.9 L241.5 1283.2 L243.0 1282.3 L244.5 1281.3 L246.0 1280.2 L247.5 1279.0 L249.0 1277.8 L250.5 1276.5 L252.0 1275.3 L253.5 1274.0 L255.0 1272.7 L256.5 1271.5 L258.0 1270.4 L259.5 1269.3 L261.0 1268.4 L262.5 1267.4 L264.0 1266.3 L265.5 1265.2 L267.0 1264.1 L268.5 1263.0 L270.0 1261.9 L271.5 1260.8 L273.0 1259.7 L274.5 1258.7 L276.0 1257.7 L277.5 1256.7 L279.0 1255.8 L280.5 1255.0 L282.0 1254.2 L283.5 1253.6 L285.0 1253.0 L286.5 1252.5 L288.0 1252.0 L289.5 1251.4 L291.0 1250.9 L292.5 1250.5 L294.0 1250.0 L295.5 1249.5 L297.0 1249.1 L298.5 1248.7 L300.0 1248.3 L301.5 1247.9 L303.0 1247.6 L304.5 1247.3 L306.0 1247.0 L307.5 1246.8 L309.0 1246.6 L310.5 1246.5 L312.0 1246.4 L313.5 1246.3 L315.0 1246.4 L316.5 1246.7 L318.0 1247.2 L319.5 1247.7 L321.0 1248.5 L322.5 1249.3 L324.0 1250.2 L325.5 1251.2 L327.0 1252.2 L328.5 1253.2 L330.0 1254.3 L331.5 1255.3 L333.0 1256.3 L334.5 1257.3 L336.0 1258.2 L337.5 1259.0 L339.0 1259.9 L340.5 1260.8 L342.0 1261.8 L343.5 1262.7 L345.0 1263.8 L346.5 1264.9 L348.0 1266.1 L349.5 1267.4 L351.0 1269.2 L352.5 1271.4 L354.0 1273.9 L355.5 1276.4 L357.0 1278.5 L358.5 1279.9 L360.0 1280.5 L361.5 1280.5 L363.0 1280.5 L364.5 1280.5 L366.0 1280.5 L367.5 1280.5 L369.0 1280.5 L370.5 1280.5 L372.0 1280.5 L373.5 1279.4 L375.0 1276.6 L376.5 1272.9 L378.0 1269.0 L379.5 1264.6 L381.0 1259.4 L382.5 1254.4 L384.0 1250.0 L385.5 1245.8 L387.0 1241.8 L388.5 1237.9 L390.0 1234.1 L391.5 1230.2 L393.0 1226.3 L394.5 1222.3 L396.0 1218.1 L397.5 1213.9 L399.0 1209.6 L400.5 1205.2 L402.0 1200.9 L403.5 1196.5 L405.0 1192.2 L406.5 1187.9 L408.0 1183.6 L409.5 1179.3 L411.0 1175.0 L412.5 1170.8 L414.0 1166.5 L415.5 1162.3 L417.0 1158.1 L418.5 1154.0 L420.0 1149.9 L421.5 1145.7 L423.0 1141.6 L424.5 1137.5 L426.0 1133.6 L427.5 1129.7 L429.0 1125.9 L430.5 1122.2 L432.0 1118.5 L433.5 1114.6 L435.0 1110.7 L436.5 1106.9 L438.0 1103.3 L439.5 1099.8 L441.0 1096.7 L442.5 1093.9 L444.0 1091.6 L445.5 1089.9 L447.0 1089.0 L448.5 1088.0 L450.0 1087.0 L451.5 1086.1 L453.0 1085.1 L454.5 1084.1 L456.0 1083.1 L457.5 1082.2 L459.0 1081.2 L460.5 1080.2 L462.0 1079.3 L463.5 1078.3 L465.0 1077.3 L466.5 1076.4 L468.0 1075.4 L469.5 1074.4 L471.0 1073.5 L472.5 1072.5 L474.0 1071.5 L475.5 1070.6 L477.0 1069.6 L478.5 1068.6 L480.0 1067.6 L481.5 1067.3 L483.0 1068.3 L484.5 1069.3 L486.0 1070.2 L487.5 1071.2 L489.0 1072.2 L490.5 1073.2 L492.0 1074.1 L493.5 1075.1 L495.0 1076.1 L496.5 1077.0 L498.0 1078.0 L499.5 1079.0 L501.0 1080.0 L502.5 1080.9 L504.0 1081.9 L505.5 1082.9 L507.0 1083.8 L508.5 1084.8 L510.0 1085.8 L511.5 1086.8 L513.0 1087.7 L514.5 1088.7 L516.0 1089.7 L517.5 1091.1 L519.0 1093.3 L520.5 1095.9 L522.0 1099.0 L523.5 1102.4 L525.0 1106.0 L526.5 1109.7 L528.0 1113.6 L529.5 1117.4 L531.0 1121.3 L532.5 1124.9 L534.0 1128.6 L535.5 1132.4 L537.0 1136.2 L538.5 1140.2 L540.0 1144.2 L541.5 1148.3 L543.0 1152.5 L544.5 1156.8 L546.0 1161.1 L547.5 1165.7 L549.0 1170.4 L550.5 1175.1 L552.0 1179.8 L553.5 1184.5 L555.0 1189.0 L556.5 1193.5 L558.0 1197.9 L559.5 1202.3 L561.0 1206.7 L562.5 1211.0 L564.0 1215.2 L565.5 1219.3 L567.0 1223.3 L568.5 1227.0 L570.0 1230.5 L571.5 1233.9 L573.0 1237.3 L574.5 1240.8 L576.0 1244.6 L577.5 1248.6 L579.0 1253.2 L580.5 1259.1 L582.0 1265.8 L583.5 1270.2 L585.0 1273.3 L586.5 1276.0 L588.0 1278.4 L589.5 1280.5 L591.0 1282.4 L592.5 1284.2 L594.0 1286.1 L595.5 1288.0 L597.0 1290.2 L598.5 1292.5 L600.0 1294.5 L601.5 1296.0 L603.0 1296.5 L604.5 1296.1 L606.0 1294.8 L607.5 1293.0 L609.0 1290.5 L610.5 1287.7 L612.0 1284.7 L613.5 1281.4 L615.0 1278.2 L616.5 1275.1 L618.0 1272.2 L619.5 1269.7 L621.0 1267.6 L622.5 1265.4 L624.0 1263.2 L625.5 1261.0 L627.0 1258.8 L628.5 1256.7 L630.0 1254.7 L631.5 1252.9 L633.0 1251.3 L634.5 1250.0 L636.0 1248.9 L637.5 1248.2 L639.0 1247.6 L640.5 1247.0 L642.0 1246.4 L643.5 1245.9 L645.0 1245.4 L646.5 1245.0 L648.0 1244.6 L649.5 1244.3 L651.0 1244.1 L652.5 1243.9 L654.0 1243.8 L655.5 1243.9 L657.0 1244.2 L658.5 1244.7 L660.0 1245.4 L661.5 1246.2 L663.0 1247.3 L664.5 1248.4 L666.0 1249.7 L667.5 1251.0 L669.0 1252.3 L670.5 1253.7 L672.0 1255.0 L673.5 1256.3 L675.0 1257.6 L676.5 1258.8 L678.0 1260.2 L679.5 1261.7 L681.0 1263.2 L682.5 1264.9 L684.0 1266.5 L685.5 1268.2 L687.0 1269.9 L688.5 1271.6 L690.0 1273.3 L691.5 1275.0 L693.0 1276.6 L694.5 1278.1 L696.0 1279.5 L697.5 1280.8 L699.0 1282.0 L700.5 1283.1 L702.0 1284.2 L703.5 1285.3 L705.0 1286.4 L706.5 1287.5 L708.0 1288.5 L709.5 1289.5 L711.0 1290.4 L712.5 1291.2 L714.0 1291.9 L715.5 1292.5 L717.0 1292.8 L718.5 1293.0 L720.0 1293.0 L721.5 1292.6 L723.0 1291.8 L724.5 1290.8 L726.0 1289.5 L727.5 1288.0 L729.0 1286.4 L730.5 1284.7 L732.0 1283.0 L733.5 1281.4 L735.0 1279.8 L736.5 1278.4 L738.0 1277.1 L739.5 1276.2 L741.0 1275.4 L742.5 1274.7 L744.0 1273.9 L745.5 1273.2 L747.0 1272.5 L748.5 1271.8 L750.0 1271.2 L751.5 1270.6 L753.0 1270.0 L754.5 1269.5 L756.0 1269.1 L757.5 1268.7 L759.0 1268.4 L760.5 1268.2 L762.0 1268.1 L763.5 1268.1 L765.0 1268.2 L766.5 1268.3 L768.0 1268.5 L769.5 1268.8 L771.0 1269.1 L772.5 1269.5 L774.0 1269.9 L775.5 1270.4 L777.0 1270.9 L778.5 1271.4 L780.0 1271.9 L781.5 1272.5 L783.0 1273.1 L784.5 1273.7 L786.0 1274.3 L787.5 1274.9 L789.0 1275.5 L790.5 1276.1 L792.0 1276.8 L793.5 1277.6 L795.0 1278.5 L796.5 1279.4 L798.0 1280.4 L799.5 1281.4 L801.0 1282.4 L802.5 1283.4 L804.0 1284.4 L805.5 1285.3 L807.0 1286.1 L808.5 1286.8 L810.0 1287.3 L811.5 1287.8 L813.0 1288.4 L814.5 1288.9 L816.0 1289.4 L817.5 1289.8 L819.0 1290.3 L820.5 1290.7 L822.0 1291.0 L823.5 1291.3 L825.0 1291.6 L826.5 1291.8 L828.0 1291.9 L829.5 1291.9 L831.0 1291.8 L832.5 1291.4 L834.0 1290.9 L835.5 1290.3 L837.0 1289.6 L838.5 1288.8 L840.0 1287.9 L841.5 1287.0 L843.0 1286.1 L844.5 1285.3 L846.0 1284.5 L847.5 1283.7 L849.0 1283.1 L850.5 1282.6 L852.0 1282.1 L853.5 1281.6 L855.0 1281.2 L856.5 1280.7 L858.0 1280.2 L859.5 1279.7 L861.0 1279.3 L862.5 1278.9 L864.0 1278.5 L865.5 1278.1 L867.0 1277.8 L868.5 1277.5 L870.0 1277.3 L871.5 1277.2 L873.0 1277.1 L874.5 1277.0 L876.0 1277.1 L877.5 1277.2 L879.0 1277.5 L880.5 1277.7 L882.0 1278.1 L883.5 1278.5 L885.0 1278.9 L886.5 1279.4 L888.0 1279.8 L889.5 1280.3 L891.0 1280.8 L892.5 1281.2 L894.0 1281.6 L895.5 1282.0 L897.0 1282.3 L898.5 1282.6 L900.0 1282.8 L901.5 1282.9 L903.0 1283.0 L904.5 1283.2 L906.0 1283.3 L907.5 1283.4 L909.0 1283.5 L910.5 1283.6 L912.0 1283.7 L913.5 1283.8 L915.0 1283.9 L916.5 1283.9 L918.0 1284.0 L919.5 1284.1 L921.0 1284.2 L922.5 1284.2 L924.0 1284.3 L925.5 1284.4 L927.0 1284.5 L928.5 1284.5 L930.0 1284.6 L931.5 1284.6 L933.0 1284.7 L934.5 1284.8 L936.0 1284.9 L937.5 1284.9 L939.0 1285.0 L940.5 1285.1 L942.0 1285.2 L943.5 1285.2 L945.0 1285.3 L946.5 1285.4 L948.0 1285.5 L949.5 1285.6 L951.0 1285.7 L952.5 1285.8 L954.0 1285.9 L955.5 1286.0 L957.0 1286.0 L958.5 1286.1 L960.0 1286.2 L961.5 1286.3 L963.0 1286.4 L964.5 1286.5 L966.0 1286.6 L967.5 1286.7 L969.0 1286.7 L970.5 1286.8 L972.0 1286.9 L973.5 1286.9 L975.0 1287.0 L976.5 1287.1 L978.0 1287.1 L979.5 1287.2 L981.0 1287.2 L982.5 1287.2 L984.0 1287.3 L985.5 1287.3 L987.0 1287.3 L988.5 1287.3 L990.0 1287.3 L991.5 1287.3 L993.0 1287.3 L994.5 1287.2 L996.0 1287.2 L997.5 1287.1 L999.0 1286.9 L1000.5 1286.8 L1002.0 1286.7 L1003.5 1286.5 L1005.0 1286.4 L1006.5 1286.2 L1008.0 1286.0 L1009.5 1285.8 L1011.0 1285.6 L1012.5 1285.4 L1014.0 1285.2 L1015.5 1285.0 L1017.0 1284.8 L1018.5 1284.6 L1020.0 1284.4 L1021.5 1284.2 L1023.0 1284.0 L1024.5 1283.8 L1026.0 1283.6 L1027.5 1283.5 L1029.0 1283.3 L1030.5 1283.2 L1032.0 1283.1 L1033.5 1283.0 L1035.0 1282.9 L1036.5 1282.8 L1038.0 1282.8 L1039.5 1282.8 L1041.0 1282.8 L1042.5 1282.8 L1044.0 1282.8 L1045.5 1282.9 L1047.0 1283.0 L1048.5 1283.1 L1050.0 1283.2 L1051.5 1283.3 L1053.0 1283.5 L1054.5 1283.6 L1056.0 1283.8 L1057.5 1284.0 L1059.0 1284.2 L1060.5 1284.4 L1062.0 1284.6 L1063.5 1284.8 L1065.0 1285.0 L1066.5 1285.2 L1068.0 1285.5 L1069.5 1285.7 L1071.0 1285.9 L1072.5 1286.2 L1074.0 1286.4 L1075.5 1286.6 L1077.0 1286.9 L1078.5 1287.1 L1080.0 1287.3 L1081.5 1287.6 L1083.0 1287.8 L1084.5 1288.0 L1086.0 1288.2 L1087.5 1288.4 L1089.0 1288.6 L1090.5 1288.8 L1092.0 1289.0 L1093.5 1289.1 L1095.0 1289.3 L1096.5 1289.4 L1098.0 1289.5 L1099.5 1289.6 L1101.0 1289.7 L1102.5 1289.8 L1104.0 1289.9 L1105.5 1289.9 L1107.0 1290.0 L1108.5 1290.1 L1110.0 1290.2 L1111.5 1290.3 L1113.0 1290.4 L1114.5 1290.4 L1116.0 1290.5 L1117.5 1290.6 L1119.0 1290.7 L1120.5 1290.8 L1122.0 1290.8 L1123.5 1290.9 L1125.0 1291.0 L1126.5 1291.0 L1128.0 1291.1 L1129.5 1291.2 L1131.0 1291.2 L1132.5 1291.3 L1134.0 1291.4 L1135.5 1291.4 L1137.0 1291.5 L1138.5 1291.5 L1140.0 1291.6 L1141.5 1291.6 L1143.0 1291.7 L1144.5 1291.7 L1146.0 1291.7 L1147.5 1291.8 L1149.0 1291.8 L1150.5 1291.8 L1152.0 1291.9 L1153.5 1291.9 L1155.0 1291.9 L1156.5 1291.9 L1158.0 1291.9 L1159.5 1291.9 L1161.0 1291.9 L1162.5 1291.9 L1164.0 1291.9 L1165.5 1291.9 L1167.0 1291.9 L1168.5 1291.9 L1170.0 1291.8 L1171.5 1291.8 L1173.0 1291.8 L1174.5 1291.8 L1176.0 1291.7 L1177.5 1291.7 L1179.0 1291.7 L1180.5 1291.6 L1182.0 1291.6 L1183.5 1291.5 L1185.0 1291.5 L1186.5 1291.4 L1188.0 1291.4 L1189.5 1291.3 L1191.0 1291.3 L1192.5 1291.2 L1194.0 1291.2 L1195.5 1291.1 L1197.0 1291.1 L1198.5 1291.0 L1200.0 1291.0 L1201.5 1290.9 L1203.0 1290.9 L1204.5 1290.8 L1206.0 1290.7 L1207.5 1290.7 L1209.0 1290.6 L1210.5 1290.6 L1212.0 1290.5 L1213.5 1290.5 L1215.0 1290.4 L1216.5 1290.3 L1218.0 1290.3 L1219.5 1290.2 L1221.0 1290.2 L1222.5 1290.1 L1224.0 1290.1 L1225.5 1290.0 L1227.0 1290.0 L1228.5 1290.0 L1230.0 1289.9 L1231.5 1289.9 L1233.0 1289.8 L1234.5 1289.8 L1236.0 1289.8 L1237.5 1289.8 L1239.0 1289.7 L1240.5 1289.7 L1242.0 1289.7 L1243.5 1289.7 L1245.0 1289.7 L1246.5 1289.6 L1248.0 1289.6 L1249.5 1289.6 L1251.0 1289.6 L1252.5 1289.6 L1254.0 1289.6 L1255.5 1289.7 L1257.0 1289.7 L1258.5 1289.7 L1260.0 1289.7 L1261.5 1289.7 L1263.0 1289.7 L1264.5 1289.8 L1266.0 1289.8 L1267.5 1289.8 L1269.0 1289.8 L1270.5 1289.9 L1272.0 1289.9 L1273.5 1289.9 L1275.0 1290.0 L1276.5 1290.0 L1278.0 1290.1 L1279.5 1290.1 L1281.0 1290.2 L1282.5 1290.2 L1284.0 1290.2 L1285.5 1290.3 L1287.0 1290.3 L1288.5 1290.4 L1290.0 1290.4 L1291.5 1290.5 L1293.0 1290.5 L1294.5 1290.6 L1296.0 1290.6 L1297.5 1290.7 L1299.0 1290.7 L1300.5 1290.8 L1302.0 1290.8 L1303.5 1290.9 L1305.0 1290.9 L1306.5 1291.0 L1308.0 1291.0 L1309.5 1291.1 L1311.0 1291.1 L1312.5 1291.2 L1314.0 1291.2 L1315.5 1291.3 L1317.0 1291.3 L1318.5 1291.4 L1320.0 1291.4 L1321.5 1291.5 L1323.0 1291.5 L1324.5 1291.5 L1326.0 1291.6 L1327.5 1291.6 L1329.0 1291.7 L1330.5 1291.7 L1332.0 1291.7 L1333.5 1291.8 L1335.0 1291.8 L1336.5 1291.8 L1338.0 1291.8 L1339.5 1291.8 L1341.0 1291.9 L1342.5 1291.9 L1344.0 1291.9 L1345.5 1291.9 L1347.0 1291.9 L1348.5 1291.9 L1350.0 1291.9 L1351.5 1291.9 L1353.0 1291.9 L1354.5 1291.9 L1356.0 1291.9 L1357.5 1291.9 L1359.0 1291.9 L1360.5 1291.9 L1362.0 1291.9 L1363.5 1291.9 L1365.0 1291.9 L1366.5 1291.9 L1368.0 1291.9 L1369.5 1291.9 L1371.0 1291.9 L1372.5 1291.9 L1374.0 1291.9 L1375.5 1291.9 L1377.0 1291.9 L1378.5 1291.9 L1380.0 1291.9 L1381.5 1291.9 L1383.0 1291.9 L1384.5 1291.9 L1386.0 1291.9 L1387.5 1291.9 L1389.0 1291.9 L1390.5 1291.9 L1392.0 1291.9 L1393.5 1291.9 L1395.0 1291.9 L1396.5 1291.9 L1398.0 1291.9 L1399.5 1291.9 L1401.0 1291.9 L1402.5 1291.9 L1404.0 1291.9 L1405.5 1291.9 L1407.0 1291.9 L1408.5 1291.9 L1410.0 1291.9 L1411.5 1291.9 L1413.0 1291.9 L1414.5 1291.9 L1416.0 1291.9 L1417.5 1291.9 L1419.0 1291.9 L1420.5 1291.9 L1422.0 1291.9 L1423.5 1291.9 L1425.0 1291.9 L1426.5 1291.9 L1428.0 1291.9 L1429.5 1291.9 L1431.0 1291.9 L1432.5 1291.9 L1434.0 1291.9 L1435.5 1291.9 L1437.0 1291.9 L1438.5 1291.9 L1440.0 1291.9 L1441.5 1291.9 L1443.0 1291.9 L1444.5 1291.9 L1446.0 1291.9 L1447.5 1291.9 L1449.0 1291.9 L1450.5 1291.9 L1452.0 1291.9 L1453.5 1291.9 L1455.0 1291.9 L1456.5 1291.9 L1458.0 1291.9 L1459.5 1291.9 L1461.0 1291.9 L1462.5 1291.9 L1464.0 1291.9 L1465.5 1291.8 L1467.0 1291.8 L1468.5 1291.8 L1470.0 1291.8 L1471.5 1291.8 L1473.0 1291.8 L1474.5 1291.7 L1476.0 1291.7 L1477.5 1291.7 L1479.0 1291.7 L1480.5 1291.7 L1482.0 1291.6 L1483.5 1291.6 L1485.0 1291.6 L1486.5 1291.6 L1488.0 1291.5 L1489.5 1291.5 L1491.0 1291.5 L1492.5 1291.5 L1494.0 1291.5 L1495.5 1291.4 L1497.0 1291.4 L1498.5 1291.4 L1500.0 1291.3 L1501.5 1291.3 L1503.0 1291.3 L1504.5 1291.3 L1506.0 1291.2 L1507.5 1291.2 L1509.0 1291.2 L1510.5 1291.2 L1512.0 1291.1 L1513.5 1291.1 L1515.0 1291.1 L1516.5 1291.1 L1518.0 1291.1 L1519.5 1291.0 L1521.0 1291.0 L1522.5 1291.0 L1524.0 1291.0 L1525.5 1290.9 L1527.0 1290.9 L1528.5 1290.9 L1530.0 1290.9 L1531.5 1290.9 L1533.0 1290.9 L1534.5 1290.8 L1536.0 1290.8 L1537.5 1290.8 L1539.0 1290.8 L1540.5 1290.8 L1542.0 1290.8 L1543.5 1290.8 L1545.0 1290.8 L1546.5 1290.8 L1548.0 1290.8 L1549.5 1290.8 L1551.0 1290.8 L1552.5 1290.8 L1554.0 1290.8 L1555.5 1290.8 L1557.0 1290.8 L1558.5 1290.8 L1560.0 1290.8 L1561.5 1290.9 L1563.0 1290.9 L1564.5 1290.9 L1566.0 1290.9 L1567.5 1291.0 L1569.0 1291.0 L1570.5 1291.0 L1572.0 1291.1 L1573.5 1291.1 L1575.0 1291.1 L1576.5 1291.2 L1578.0 1291.2 L1579.5 1291.3 L1581.0 1291.3 L1582.5 1291.3 L1584.0 1291.4 L1585.5 1291.4 L1587.0 1291.5 L1588.5 1291.5 L1590.0 1291.6 L1591.5 1291.6 L1593.0 1291.7 L1594.5 1291.7 L1596.0 1291.8 L1597.5 1291.8 L1599.0 1291.9 L1600.5 1291.9 L1602.0 1292.0 L1603.5 1292.0 L1605.0 1292.1 L1606.5 1292.1 L1608.0 1292.2 L1609.5 1292.2 L1611.0 1292.3 L1612.5 1292.3 L1614.0 1292.4 L1615.5 1292.4 L1617.0 1292.5 L1618.5 1292.5 L1620.0 1292.6 L1621.5 1292.6 L1623.0 1292.7 L1624.5 1292.7 L1626.0 1292.7 L1627.5 1292.8 L1629.0 1292.8 L1630.5 1292.8 L1632.0 1292.9 L1633.5 1292.9 L1635.0 1292.9 L1636.5 1293.0 L1638.0 1293.0 L1639.5 1293.0 L1641.0 1293.0 L1642.5 1293.0 L1644.0 1293.0 L1645.5 1293.1 L1647.0 1293.1 L1648.5 1293.1 L1650.0 1293.1 L1651.5 1293.1 L1653.0 1293.1 L1654.5 1293.1 L1656.0 1293.1 L1657.5 1293.0 L1659.0 1293.0 L1660.5 1293.0 L1662.0 1293.0 L1663.5 1293.0 L1665.0 1293.0 L1666.5 1293.0 L1668.0 1293.0 L1669.5 1293.0 L1671.0 1292.9 L1672.5 1292.9 L1674.0 1292.9 L1675.5 1292.9 L1677.0 1292.9 L1678.5 1292.8 L1680.0 1292.8 L1681.5 1292.8 L1683.0 1292.8 L1684.5 1292.8 L1686.0 1292.7 L1687.5 1292.7 L1689.0 1292.7 L1690.5 1292.7 L1692.0 1292.6 L1693.5 1292.6 L1695.0 1292.6 L1696.5 1292.6 L1698.0 1292.5 L1699.5 1292.5 L1701.0 1292.5 L1702.5 1292.4 L1704.0 1292.4 L1705.5 1292.4 L1707.0 1292.4 L1708.5 1292.3 L1710.0 1292.3 L1711.5 1292.3 L1713.0 1292.3 L1714.5 1292.3 L1716.0 1292.2 L1717.5 1292.2 L1719.0 1292.2 L1720.5 1292.2 L1722.0 1292.1 L1723.5 1292.1 L1725.0 1292.1 L1726.5 1292.1 L1728.0 1292.1 L1729.5 1292.0 L1731.0 1292.0 L1732.5 1292.0 L1734.0 1292.0 L1735.5 1292.0 L1737.0 1292.0 L1738.5 1292.0 L1740.0 1292.0 L1741.5 1291.9 L1743.0 1291.9 L1744.5 1291.9 L1746.0 1291.9 L1747.5 1291.9 L1749.0 1291.9 L1750.5 1291.9 L1752.0 1291.9 L1753.5 1291.9 L1755.0 1291.9 L1756.5 1291.9 L1758.0 1291.9 L1759.5 1291.9 L1761.0 1291.9 L1762.5 1292.0 L1764.0 1292.0 L1765.5 1292.0 L1767.0 1292.0 L1768.5 1292.0 L1770.0 1292.0 L1771.5 1292.0 L1773.0 1292.0 L1774.5 1292.1 L1776.0 1292.1 L1777.5 1292.1 L1779.0 1292.1 L1780.5 1292.1 L1782.0 1292.2 L1783.5 1292.2 L1785.0 1292.2 L1786.5 1292.2 L1788.0 1292.2 L1789.5 1292.3 L1791.0 1292.3 L1792.5 1292.3 L1794.0 1292.4 L1795.5 1292.4 L1797.0 1292.4 L1798.5 1292.4 L1800.0 1292.5 L1801.5 1292.5 L1803.0 1292.5 L1804.5 1292.6 L1806.0 1292.6 L1807.5 1292.6 L1809.0 1292.7 L1810.5 1292.7 L1812.0 1292.8 L1813.5 1292.8 L1815.0 1292.8 L1816.5 1292.9 L1818.0 1292.9 L1819.5 1293.0 L1821.0 1293.0 L1822.5 1293.0 L1824.0 1293.1 L1825.5 1293.1 L1827.0 1293.2 L1828.5 1293.2 L1830.0 1293.3 L1831.5 1293.3 L1833.0 1293.4 L1834.5 1293.4 L1836.0 1293.5 L1837.5 1293.5 L1839.0 1293.6 L1840.5 1293.6 L1842.0 1293.7 L1843.5 1293.7 L1845.0 1293.8 L1846.5 1293.8 L1848.0 1293.9 L1849.5 1293.9 L1851.0 1294.0 L1852.5 1294.0 L1854.0 1294.1 L1855.5 1294.2 L1857.0 1294.2" stroke="#ff0000" stroke-width="13" fill="none" stroke-linejoin="round"/>
<path d="M360.0 1296.5 L361.5 1293.9 L363.0 1291.1 L364.5 1288.1 L366.0 1285.0 L367.5 1281.6 L369.0 1277.9 L370.5 1274.0 L372.0 1269.8 L373.5 1265.5 L375.0 1261.2 L376.5 1256.9 L378.0 1252.8 L379.5 1248.9 L381.0 1245.4 L382.5 1242.0 L384.0 1238.8 L385.5 1235.7 L387.0 1232.6 L388.5 1229.4 L390.0 1226.1 L391.5 1222.6 L393.0 1218.8 L394.5 1214.7 L396.0 1210.3 L397.5 1205.8 L399.0 1201.3 L400.5 1196.9 L402.0 1192.7 L403.5 1188.8 L405.0 1185.0 L406.5 1181.3 L408.0 1177.7 L409.5 1174.1 L411.0 1170.6 L412.5 1167.1 L414.0 1163.7 L415.5 1160.3 L417.0 1156.9 L418.5 1153.5 L420.0 1150.2 L421.5 1147.0 L423.0 1143.7 L424.5 1140.4 L426.0 1137.1 L427.5 1133.8 L429.0 1130.3 L430.5 1126.9 L432.0 1123.4 L433.5 1120.0 L435.0 1116.8 L436.5 1113.6 L438.0 1110.7 L439.5 1108.0 L441.0 1105.2 L442.5 1102.4 L444.0 1099.7 L445.5 1097.1 L447.0 1094.5 L448.5 1092.1 L450.0 1089.9 L451.5 1087.8 L453.0 1086.0 L454.5 1084.3 L456.0 1082.9 L457.5 1081.5 L459.0 1080.2 L460.5 1078.8 L462.0 1077.5 L463.5 1076.2 L465.0 1075.0 L466.5 1073.8 L468.0 1072.7 L469.5 1071.6 L471.0 1070.7 L472.5 1069.9 L474.0 1069.1 L475.5 1068.5 L477.0 1068.1 L478.5 1067.7 L480.0 1067.5 L481.5 1067.5 L483.0 1067.6 L484.5 1067.9 L486.0 1068.4 L487.5 1068.9 L489.0 1069.6 L490.5 1070.4 L492.0 1071.3 L493.5 1072.3 L495.0 1073.4 L496.5 1074.6 L498.0 1075.8 L499.5 1077.1 L501.0 1078.4 L502.5 1079.7 L504.0 1081.1 L505.5 1082.4 L507.0 1084.1 L508.5 1086.0 L510.0 1088.2 L511.5 1090.6 L513.0 1093.2 L514.5 1096.0 L516.0 1098.8 L517.5 1101.7 L519.0 1104.5 L520.5 1107.3 L522.0 1110.0 L523.5 1112.7 L525.0 1115.5 L526.5 1118.3 L528.0 1121.2 L529.5 1124.1 L531.0 1127.1 L532.5 1130.1 L534.0 1133.2 L535.5 1136.4 L537.0 1139.7 L538.5 1143.1 L540.0 1146.6 L541.5 1150.2 L543.0 1153.8 L544.5 1157.4 L546.0 1161.0 L547.5 1164.6 L549.0 1168.2 L550.5 1171.7 L552.0 1175.3 L553.5 1178.9 L555.0 1182.5 L556.5 1186.1 L558.0 1189.9 L559.5 1193.7 L561.0 1197.6 L562.5 1201.6 L564.0 1205.7 L565.5 1209.8 L567.0 1213.9 L568.5 1217.9 L570.0 1222.0 L571.5 1226.4 L573.0 1230.8 L574.5 1235.2 L576.0 1239.4 L577.5 1243.3 L579.0 1246.7 L580.5 1249.6 L582.0 1252.2 L583.5 1254.5 L585.0 1256.7 L586.5 1258.7 L588.0 1260.6 L589.5 1262.5 L591.0 1264.4 L592.5 1266.3 L594.0 1268.3 L595.5 1270.5 L597.0 1272.9 L598.5 1275.5 L600.0 1278.4 L601.5 1281.2 L603.0 1284.0 L604.5 1286.6 L606.0 1288.8 L607.5 1290.9 L609.0 1292.9 L610.5 1294.8 L612.0 1296.5" stroke="#ff0000" stroke-width="18" fill="none" stroke-dasharray="16 14"/>
<path d="M205.5 1277.7 L207.0 1277.3 L208.5 1276.8 L210.0 1276.4 L211.5 1276.1 L213.0 1275.7 L214.5 1275.4 L216.0 1275.2 L217.5 1274.9 L219.0 1274.7 L220.5 1274.5 L222.0 1274.3 L223.5 1274.2 L225.0 1274.0 L226.5 1273.9 L228.0 1273.8 L229.5 1273.7 L231.0 1273.7 L232.5 1273.6 L234.0 1273.6 L235.5 1273.6 L237.0 1273.6 L238.5 1273.6 L240.0 1273.7 L241.5 1273.9 L243.0 1274.1 L244.5 1274.3 L246.0 1274.6 L247.5 1274.9 L249.0 1275.3 L250.5 1275.6 L252.0 1276.0 L253.5 1276.4 L255.0 1276.8 L256.5 1277.2 L258.0 1277.6 L259.5 1278.0 L261.0 1278.4 L262.5 1278.9 L264.0 1279.3 L265.5 1279.8 L267.0 1280.3 L268.5 1280.9 L270.0 1281.5 L271.5 1282.1 L273.0 1282.7 L274.5 1283.4 L276.0 1284.4 L277.5 1285.5 L279.0 1286.7 L280.5 1287.9 L282.0 1289.1 L283.5 1290.2 L285.0 1291.0 L286.5 1291.6 L288.0 1291.9 L289.5 1291.9 L291.0 1291.7 L292.5 1291.4 L294.0 1291.0 L295.5 1290.5 L297.0 1289.9 L298.5 1289.3 L300.0 1288.5 L301.5 1287.7 L303.0 1286.9 L304.5 1286.1 L306.0 1285.2 L307.5 1284.3 L309.0 1283.4 L310.5 1282.6 L312.0 1281.7 L313.5 1280.9 L315.0 1280.2 L316.5 1279.5 L318.0 1278.9 L319.5 1278.3 L321.0 1277.9 L322.5 1277.4 L324.0 1276.9 L325.5 1276.4 L327.0 1275.9 L328.5 1275.4 L330.0 1274.9 L331.5 1274.5 L333.0 1274.0 L334.5 1273.5 L336.0 1273.1 L337.5 1272.7 L339.0 1272.3 L340.5 1271.9 L342.0 1271.6 L343.5 1271.3 L345.0 1271.0 L346.5 1270.8 L348.0 1270.6 L349.5 1270.5 L351.0 1270.4 L352.5 1270.4 L354.0 1270.4 L355.5 1270.5 L357.0 1270.7 L358.5 1271.0 L360.0 1271.3 L361.5 1271.6 L363.0 1272.0 L364.5 1272.4 L366.0 1272.9 L367.5 1273.3 L369.0 1273.8 L370.5 1274.4 L372.0 1274.9 L373.5 1275.4 L375.0 1275.9 L376.5 1276.5 L378.0 1277.2 L379.5 1278.1 L381.0 1279.0 L382.5 1280.1 L384.0 1281.2 L385.5 1282.3 L387.0 1283.4 L388.5 1284.4 L390.0 1285.4 L391.5 1286.3 L393.0 1287.1 L394.5 1287.7 L396.0 1288.2 L397.5 1288.4 L399.0 1288.5 L400.5 1288.4 L402.0 1288.2 L403.5 1287.8 L405.0 1287.4 L406.5 1286.9 L408.0 1286.3 L409.5 1285.7 L411.0 1285.0 L412.5 1284.2 L414.0 1283.4 L415.5 1282.7 L417.0 1281.8 L418.5 1281.0 L420.0 1280.2 L421.5 1279.4 L423.0 1278.7 L424.5 1278.0 L426.0 1277.3 L427.5 1276.7 L429.0 1276.2 L430.5 1275.7 L432.0 1275.3 L433.5 1274.9 L435.0 1274.4 L436.5 1274.0 L438.0 1273.5 L439.5 1273.1 L441.0 1272.6 L442.5 1272.2 L444.0 1271.7 L445.5 1271.3 L447.0 1270.9 L448.5 1270.4 L450.0 1270.0 L451.5 1269.6 L453.0 1269.3 L454.5 1268.9 L456.0 1268.6 L457.5 1268.2 L459.0 1267.9 L460.5 1267.7 L462.0 1267.4 L463.5 1267.2 L465.0 1267.0 L466.5 1266.8 L468.0 1266.7 L469.5 1266.6 L471.0 1266.5 L472.5 1266.5 L474.0 1266.5 L475.5 1266.6 L477.0 1266.9 L478.5 1267.2 L480.0 1267.5 L481.5 1268.0 L483.0 1268.5 L484.5 1269.0 L486.0 1269.6 L487.5 1270.2 L489.0 1270.9 L490.5 1271.6 L492.0 1272.3 L493.5 1273.0 L495.0 1273.7 L496.5 1274.3 L498.0 1275.0 L499.5 1275.7 L501.0 1276.3 L502.5 1277.0 L504.0 1277.7 L505.5 1278.4 L507.0 1279.2 L508.5 1279.9 L510.0 1280.7 L511.5 1281.5 L513.0 1282.4 L514.5 1283.2 L516.0 1284.1 L517.5 1285.3 L519.0 1286.6 L520.5 1287.9 L522.0 1289.1 L523.5 1290.3 L525.0 1291.2 L526.5 1291.7 L528.0 1291.9 L529.5 1291.8 L531.0 1291.5 L532.5 1291.0 L534.0 1290.3 L535.5 1289.5 L537.0 1288.5 L538.5 1287.4 L540.0 1286.3 L541.5 1285.0 L543.0 1283.7 L544.5 1282.3 L546.0 1280.9 L547.5 1279.5 L549.0 1278.1 L550.5 1276.7 L552.0 1275.3 L553.5 1273.9 L555.0 1272.7 L556.5 1271.5 L558.0 1270.3 L559.5 1269.3 L561.0 1268.4 L562.5 1267.5 L564.0 1266.5 L565.5 1265.5 L567.0 1264.5 L568.5 1263.4 L570.0 1262.4 L571.5 1261.3 L573.0 1260.3 L574.5 1259.3 L576.0 1258.2 L577.5 1257.2 L579.0 1256.3 L580.5 1255.3 L582.0 1254.4 L583.5 1253.5 L585.0 1252.7 L586.5 1251.9 L588.0 1251.2 L589.5 1250.5 L591.0 1249.9 L592.5 1249.4 L594.0 1248.9 L595.5 1248.5 L597.0 1248.2 L598.5 1248.1 L600.0 1248.0 L601.5 1248.0 L603.0 1248.1 L604.5 1248.2 L606.0 1248.4 L607.5 1248.7 L609.0 1249.1 L610.5 1249.5 L612.0 1249.9 L613.5 1250.4 L615.0 1251.0 L616.5 1251.6 L618.0 1252.2 L619.5 1252.8 L621.0 1253.5 L622.5 1254.1 L624.0 1254.8 L625.5 1255.5 L627.0 1256.2 L628.5 1256.9 L630.0 1257.6 L631.5 1258.3 L633.0 1259.2 L634.5 1260.2 L636.0 1261.3 L637.5 1262.4 L639.0 1263.6 L640.5 1264.8 L642.0 1266.0 L643.5 1267.1 L645.0 1268.2 L646.5 1269.3 L648.0 1270.2 L649.5 1271.1 L651.0 1271.8 L652.5 1272.6 L654.0 1273.3 L655.5 1274.1 L657.0 1274.7 L658.5 1275.3 L660.0 1275.7 L661.5 1275.9 L663.0 1275.1 L664.5 1271.7 L666.0 1266.6 L667.5 1260.7 L669.0 1255.3 L670.5 1250.9 L672.0 1246.5 L673.5 1242.2 L675.0 1238.0 L676.5 1233.7 L678.0 1229.4 L679.5 1225.2 L681.0 1220.9 L682.5 1216.6 L684.0 1212.3 L685.5 1208.0 L687.0 1203.7 L688.5 1199.4 L690.0 1195.1 L691.5 1190.8 L693.0 1186.5 L694.5 1182.1 L696.0 1177.7 L697.5 1173.3 L699.0 1169.0 L700.5 1164.7 L702.0 1160.5 L703.5 1156.5 L705.0 1152.5 L706.5 1148.5 L708.0 1144.6 L709.5 1140.7 L711.0 1137.0 L712.5 1133.3 L714.0 1129.7 L715.5 1126.4 L717.0 1123.1 L718.5 1119.9 L720.0 1116.7 L721.5 1113.6 L723.0 1110.4 L724.5 1107.4 L726.0 1104.5 L727.5 1101.6 L729.0 1099.0 L730.5 1096.5 L732.0 1094.2 L733.5 1092.2 L735.0 1090.4 L736.5 1089.2 L738.0 1088.1 L739.5 1087.0 L741.0 1085.9 L742.5 1084.8 L744.0 1083.7 L745.5 1082.6 L747.0 1081.6 L748.5 1080.5 L750.0 1079.4 L751.5 1078.3 L753.0 1077.2 L754.5 1076.1 L756.0 1075.0 L757.5 1073.9 L759.0 1072.8 L760.5 1071.7 L762.0 1070.6 L763.5 1069.5 L765.0 1068.5 L766.5 1067.4 L768.0 1067.7 L769.5 1068.8 L771.0 1069.9 L772.5 1071.0 L774.0 1072.1 L775.5 1073.2 L777.0 1074.3 L778.5 1075.5 L780.0 1076.6 L781.5 1077.7 L783.0 1078.8 L784.5 1079.9 L786.0 1081.0 L787.5 1082.1 L789.0 1083.2 L790.5 1084.3 L792.0 1085.4 L793.5 1086.5 L795.0 1087.6 L796.5 1088.7 L798.0 1089.8 L799.5 1091.3 L801.0 1093.5 L802.5 1096.2 L804.0 1099.2 L805.5 1102.5 L807.0 1106.1 L808.5 1109.8 L810.0 1113.7 L811.5 1117.6 L813.0 1121.4 L814.5 1125.2 L816.0 1129.1 L817.5 1133.2 L819.0 1137.4 L820.5 1141.7 L822.0 1146.1 L823.5 1150.5 L825.0 1155.0 L826.5 1159.4 L828.0 1164.0 L829.5 1168.7 L831.0 1173.5 L832.5 1178.2 L834.0 1182.8 L835.5 1187.3 L837.0 1191.6 L838.5 1195.9 L840.0 1200.0 L841.5 1204.1 L843.0 1208.1 L844.5 1212.1 L846.0 1216.0 L847.5 1219.9 L849.0 1223.8 L850.5 1227.7 L852.0 1231.6 L853.5 1235.5 L855.0 1239.3 L856.5 1243.1 L858.0 1246.7 L859.5 1250.2 L861.0 1253.5 L862.5 1256.9 L864.0 1260.5 L865.5 1264.3 L867.0 1268.1 L868.5 1271.8 L870.0 1275.2 L871.5 1278.4 L873.0 1281.0 L874.5 1283.1 L876.0 1284.5 L877.5 1285.0 L879.0 1284.9 L880.5 1284.5 L882.0 1283.8 L883.5 1282.8 L885.0 1281.7 L886.5 1280.4 L888.0 1279.1 L889.5 1277.6 L891.0 1276.1 L892.5 1274.7 L894.0 1273.3 L895.5 1271.9 L897.0 1270.8 L898.5 1269.8 L900.0 1269.0 L901.5 1268.4 L903.0 1267.7 L904.5 1267.1 L906.0 1266.4 L907.5 1265.8 L909.0 1265.2 L910.5 1264.6 L912.0 1264.0 L913.5 1263.4 L915.0 1262.9 L916.5 1262.4 L918.0 1261.9 L919.5 1261.5 L921.0 1261.1 L922.5 1260.7 L924.0 1260.4 L925.5 1260.1 L927.0 1259.9 L928.5 1259.8 L930.0 1259.7 L931.5 1259.6 L933.0 1259.7 L934.5 1259.8 L936.0 1260.0 L937.5 1260.2 L939.0 1260.6 L940.5 1261.0 L942.0 1261.4 L943.5 1261.9 L945.0 1262.4 L946.5 1263.0 L948.0 1263.6 L949.5 1264.3 L951.0 1264.9 L952.5 1265.6 L954.0 1266.3 L955.5 1267.0 L957.0 1267.7 L958.5 1268.4 L960.0 1269.0 L961.5 1269.8 L963.0 1270.6 L964.5 1271.6 L966.0 1272.7 L967.5 1273.9 L969.0 1275.1 L970.5 1276.4 L972.0 1277.6 L973.5 1278.9 L975.0 1280.0 L976.5 1281.2 L978.0 1282.2 L979.5 1283.1 L981.0 1283.9 L982.5 1284.5 L984.0 1284.9 L985.5 1285.1 L987.0 1285.2 L988.5 1285.4 L990.0 1285.5 L991.5 1285.7 L993.0 1285.8 L994.5 1285.9 L996.0 1286.0 L997.5 1286.1 L999.0 1286.3 L1000.5 1286.4 L1002.0 1286.5 L1003.5 1286.5 L1005.0 1286.6 L1006.5 1286.7 L1008.0 1286.8 L1009.5 1286.9 L1011.0 1286.9 L1012.5 1287.0 L1014.0 1287.1 L1015.5 1287.1 L1017.0 1287.1 L1018.5 1287.2 L1020.0 1287.2 L1021.5 1287.3 L1023.0 1287.3 L1024.5 1287.3 L1026.0 1287.3 L1027.5 1287.3 L1029.0 1287.3 L1030.5 1287.3 L1032.0 1287.3 L1033.5 1287.3 L1035.0 1287.3 L1036.5 1287.2 L1038.0 1287.2 L1039.5 1287.1 L1041.0 1287.1 L1042.5 1287.0 L1044.0 1286.9 L1045.5 1286.8 L1047.0 1286.7 L1048.5 1286.6 L1050.0 1286.5 L1051.5 1286.4 L1053.0 1286.3 L1054.5 1286.2 L1056.0 1286.1 L1057.5 1286.0 L1059.0 1285.9 L1060.5 1285.8 L1062.0 1285.7 L1063.5 1285.6 L1065.0 1285.5 L1066.5 1285.5 L1068.0 1285.4 L1069.5 1285.3 L1071.0 1285.2 L1072.5 1285.2 L1074.0 1285.1 L1075.5 1285.1 L1077.0 1285.1 L1078.5 1285.1 L1080.0 1285.0 L1081.5 1285.1 L1083.0 1285.1 L1084.5 1285.2 L1086.0 1285.2 L1087.5 1285.3 L1089.0 1285.4 L1090.5 1285.6 L1092.0 1285.7 L1093.5 1285.9 L1095.0 1286.0 L1096.5 1286.2 L1098.0 1286.4 L1099.5 1286.6 L1101.0 1286.8 L1102.5 1287.0 L1104.0 1287.2 L1105.5 1287.4 L1107.0 1287.6 L1108.5 1287.8 L1110.0 1288.0 L1111.5 1288.2 L1113.0 1288.4 L1114.5 1288.6 L1116.0 1288.8 L1117.5 1288.9 L1119.0 1289.1 L1120.5 1289.2 L1122.0 1289.3 L1123.5 1289.4 L1125.0 1289.5 L1126.5 1289.6 L1128.0 1289.6 L1129.5 1289.6 L1131.0 1289.6 L1132.5 1289.6 L1134.0 1289.6 L1135.5 1289.6 L1137.0 1289.6 L1138.5 1289.5 L1140.0 1289.5 L1141.5 1289.5 L1143.0 1289.4 L1144.5 1289.4 L1146.0 1289.3 L1147.5 1289.3 L1149.0 1289.2 L1150.5 1289.2 L1152.0 1289.1 L1153.5 1289.0 L1155.0 1289.0 L1156.5 1288.9 L1158.0 1288.8 L1159.5 1288.8 L1161.0 1288.7 L1162.5 1288.6 L1164.0 1288.5 L1165.5 1288.5 L1167.0 1288.4 L1168.5 1288.3 L1170.0 1288.2 L1171.5 1288.2 L1173.0 1288.1 L1174.5 1288.0 L1176.0 1288.0 L1177.5 1287.9 L1179.0 1287.8 L1180.5 1287.8 L1182.0 1287.7 L1183.5 1287.7 L1185.0 1287.6 L1186.5 1287.6 L1188.0 1287.5 L1189.5 1287.5 L1191.0 1287.4 L1192.5 1287.4 L1194.0 1287.4 L1195.5 1287.4 L1197.0 1287.4 L1198.5 1287.3 L1200.0 1287.3 L1201.5 1287.3 L1203.0 1287.4 L1204.5 1287.4 L1206.0 1287.4 L1207.5 1287.4 L1209.0 1287.4 L1210.5 1287.5 L1212.0 1287.5 L1213.5 1287.6 L1215.0 1287.6 L1216.5 1287.7 L1218.0 1287.7 L1219.5 1287.8 L1221.0 1287.9 L1222.5 1287.9 L1224.0 1288.0 L1225.5 1288.1 L1227.0 1288.2 L1228.5 1288.2 L1230.0 1288.3 L1231.5 1288.4 L1233.0 1288.5 L1234.5 1288.6 L1236.0 1288.7 L1237.5 1288.8 L1239.0 1288.9 L1240.5 1289.0 L1242.0 1289.1 L1243.5 1289.2 L1245.0 1289.3 L1246.5 1289.4 L1248.0 1289.5 L1249.5 1289.6 L1251.0 1289.7 L1252.5 1289.8 L1254.0 1289.9 L1255.5 1290.0 L1257.0 1290.1 L1258.5 1290.2 L1260.0 1290.3 L1261.5 1290.4 L1263.0 1290.5 L1264.5 1290.6 L1266.0 1290.7 L1267.5 1290.8 L1269.0 1290.9 L1270.5 1291.0 L1272.0 1291.0 L1273.5 1291.1 L1275.0 1291.2 L1276.5 1291.3 L1278.0 1291.4 L1279.5 1291.4 L1281.0 1291.5 L1282.5 1291.5 L1284.0 1291.6 L1285.5 1291.7 L1287.0 1291.7 L1288.5 1291.8 L1290.0 1291.8 L1291.5 1291.8 L1293.0 1291.9 L1294.5 1291.9 L1296.0 1291.9 L1297.5 1291.9 L1299.0 1291.9 L1300.5 1291.9 L1302.0 1291.9 L1303.5 1291.9 L1305.0 1291.9 L1306.5 1291.9 L1308.0 1291.9 L1309.5 1291.9 L1311.0 1291.8 L1312.5 1291.8 L1314.0 1291.8 L1315.5 1291.8 L1317.0 1291.7 L1318.5 1291.7 L1320.0 1291.7 L1321.5 1291.6 L1323.0 1291.6 L1324.5 1291.6 L1326.0 1291.5 L1327.5 1291.5 L1329.0 1291.5 L1330.5 1291.4 L1332.0 1291.4 L1333.5 1291.3 L1335.0 1291.3 L1336.5 1291.2 L1338.0 1291.2 L1339.5 1291.1 L1341.0 1291.1 L1342.5 1291.0 L1344.0 1291.0 L1345.5 1290.9 L1347.0 1290.9 L1348.5 1290.8 L1350.0 1290.8 L1351.5 1290.7 L1353.0 1290.7 L1354.5 1290.6 L1356.0 1290.6 L1357.5 1290.5 L1359.0 1290.5 L1360.5 1290.4 L1362.0 1290.4 L1363.5 1290.3 L1365.0 1290.3 L1366.5 1290.2 L1368.0 1290.2 L1369.5 1290.1 L1371.0 1290.1 L1372.5 1290.1 L1374.0 1290.0 L1375.5 1290.0 L1377.0 1289.9 L1378.5 1289.9 L1380.0 1289.9 L1381.5 1289.8 L1383.0 1289.8 L1384.5 1289.8 L1386.0 1289.8 L1387.5 1289.7 L1389.0 1289.7 L1390.5 1289.7 L1392.0 1289.7 L1393.5 1289.7 L1395.0 1289.6 L1396.5 1289.6 L1398.0 1289.6 L1399.5 1289.6 L1401.0 1289.6 L1402.5 1289.6 L1404.0 1289.6 L1405.5 1289.7 L1407.0 1289.7 L1408.5 1289.7 L1410.0 1289.7 L1411.5 1289.7 L1413.0 1289.7 L1414.5 1289.8 L1416.0 1289.8 L1417.5 1289.8 L1419.0 1289.8 L1420.5 1289.9 L1422.0 1289.9 L1423.5 1289.9 L1425.0 1290.0 L1426.5 1290.0 L1428.0 1290.1 L1429.5 1290.1 L1431.0 1290.2 L1432.5 1290.2 L1434.0 1290.2 L1435.5 1290.3 L1437.0 1290.3 L1438.5 1290.4 L1440.0 1290.4 L1441.5 1290.5 L1443.0 1290.5 L1444.5 1290.6 L1446.0 1290.6 L1447.5 1290.7 L1449.0 1290.7 L1450.5 1290.8 L1452.0 1290.8 L1453.5 1290.9 L1455.0 1290.9 L1456.5 1291.0 L1458.0 1291.0 L1459.5 1291.1 L1461.0 1291.1 L1462.5 1291.2 L1464.0 1291.2 L1465.5 1291.3 L1467.0 1291.3 L1468.5 1291.4 L1470.0 1291.4 L1471.5 1291.5 L1473.0 1291.5 L1474.5 1291.5 L1476.0 1291.6 L1477.5 1291.6 L1479.0 1291.7 L1480.5 1291.7 L1482.0 1291.7 L1483.5 1291.8 L1485.0 1291.8 L1486.5 1291.8 L1488.0 1291.8 L1489.5 1291.8 L1491.0 1291.9 L1492.5 1291.9 L1494.0 1291.9 L1495.5 1291.9 L1497.0 1291.9 L1498.5 1291.9 L1500.0 1291.9 L1501.5 1291.9 L1503.0 1291.9 L1504.5 1291.9 L1506.0 1291.9 L1507.5 1291.9 L1509.0 1291.9 L1510.5 1291.9 L1512.0 1291.9 L1513.5 1291.9 L1515.0 1291.9 L1516.5 1291.8 L1518.0 1291.8 L1519.5 1291.8 L1521.0 1291.8 L1522.5 1291.8 L1524.0 1291.8 L1525.5 1291.7 L1527.0 1291.7 L1528.5 1291.7 L1530.0 1291.7 L1531.5 1291.7 L1533.0 1291.6 L1534.5 1291.6 L1536.0 1291.6 L1537.5 1291.6 L1539.0 1291.5 L1540.5 1291.5 L1542.0 1291.5 L1543.5 1291.5 L1545.0 1291.4 L1546.5 1291.4 L1548.0 1291.4 L1549.5 1291.4 L1551.0 1291.3 L1552.5 1291.3 L1554.0 1291.3 L1555.5 1291.3 L1557.0 1291.2 L1558.5 1291.2 L1560.0 1291.2 L1561.5 1291.2 L1563.0 1291.1 L1564.5 1291.1 L1566.0 1291.1 L1567.5 1291.1 L1569.0 1291.0 L1570.5 1291.0 L1572.0 1291.0 L1573.5 1291.0 L1575.0 1291.0 L1576.5 1290.9 L1578.0 1290.9 L1579.5 1290.9 L1581.0 1290.9 L1582.5 1290.9 L1584.0 1290.9 L1585.5 1290.8 L1587.0 1290.8 L1588.5 1290.8 L1590.0 1290.8 L1591.5 1290.8 L1593.0 1290.8 L1594.5 1290.8 L1596.0 1290.8 L1597.5 1290.8 L1599.0 1290.8 L1600.5 1290.8 L1602.0 1290.8 L1603.5 1290.8 L1605.0 1290.8 L1606.5 1290.8 L1608.0 1290.8 L1609.5 1290.9 L1611.0 1290.9 L1612.5 1290.9 L1614.0 1291.0 L1615.5 1291.0 L1617.0 1291.0 L1618.5 1291.1 L1620.0 1291.1 L1621.5 1291.2 L1623.0 1291.2 L1624.5 1291.3 L1626.0 1291.4 L1627.5 1291.4 L1629.0 1291.5 L1630.5 1291.5 L1632.0 1291.6 L1633.5 1291.7 L1635.0 1291.7 L1636.5 1291.8 L1638.0 1291.9 L1639.5 1292.0 L1641.0 1292.0 L1642.5 1292.1 L1644.0 1292.2 L1645.5 1292.3 L1647.0 1292.3 L1648.5 1292.4 L1650.0 1292.5 L1651.5 1292.6 L1653.0 1292.6 L1654.5 1292.7 L1656.0 1292.8 L1657.5 1292.9 L1659.0 1293.0 L1660.5 1293.0 L1662.0 1293.1 L1663.5 1293.2 L1665.0 1293.2 L1666.5 1293.3 L1668.0 1293.4 L1669.5 1293.4 L1671.0 1293.5 L1672.5 1293.6 L1674.0 1293.6 L1675.5 1293.7 L1677.0 1293.7 L1678.5 1293.8 L1680.0 1293.9 L1681.5 1293.9 L1683.0 1293.9 L1684.5 1294.0 L1686.0 1294.0 L1687.5 1294.1 L1689.0 1294.1 L1690.5 1294.1 L1692.0 1294.1 L1693.5 1294.2 L1695.0 1294.2 L1696.5 1294.2 L1698.0 1294.2 L1699.5 1294.2 L1701.0 1294.2 L1702.5 1294.2 L1704.0 1294.2 L1705.5 1294.2 L1707.0 1294.1 L1708.5 1294.1 L1710.0 1294.1 L1711.5 1294.0 L1713.0 1294.0 L1714.5 1293.9 L1716.0 1293.9 L1717.5 1293.8 L1719.0 1293.7 L1720.5 1293.6 L1722.0 1293.6 L1723.5 1293.5 L1725.0 1293.4 L1726.5 1293.3 L1728.0 1293.2 L1729.5 1293.2 L1731.0 1293.1 L1732.5 1293.0 L1734.0 1292.9 L1735.5 1292.8 L1737.0 1292.7 L1738.5 1292.6 L1740.0 1292.5 L1741.5 1292.4 L1743.0 1292.3 L1744.5 1292.2 L1746.0 1292.1 L1747.5 1292.0 L1749.0 1291.9 L1750.5 1291.8 L1752.0 1291.7 L1753.5 1291.7 L1755.0 1291.6 L1756.5 1291.5 L1758.0 1291.4 L1759.5 1291.3 L1761.0 1291.3 L1762.5 1291.2 L1764.0 1291.1 L1765.5 1291.1 L1767.0 1291.0 L1768.5 1291.0 L1770.0 1290.9 L1771.5 1290.9 L1773.0 1290.8 L1774.5 1290.8 L1776.0 1290.8 L1777.5 1290.8 L1779.0 1290.8 L1780.5 1290.8 L1782.0 1290.8 L1783.5 1290.8 L1785.0 1290.8 L1786.5 1290.8 L1788.0 1290.8 L1789.5 1290.8 L1791.0 1290.8 L1792.5 1290.8 L1794.0 1290.8 L1795.5 1290.8 L1797.0 1290.8 L1798.5 1290.8 L1800.0 1290.8 L1801.5 1290.9 L1803.0 1290.9 L1804.5 1290.9 L1806.0 1290.9 L1807.5 1290.9 L1809.0 1290.9 L1810.5 1291.0 L1812.0 1291.0 L1813.5 1291.0 L1815.0 1291.0 L1816.5 1291.0 L1818.0 1291.1 L1819.5 1291.1 L1821.0 1291.1 L1822.5 1291.2 L1824.0 1291.2 L1825.5 1291.2 L1827.0 1291.3 L1828.5 1291.3 L1830.0 1291.3 L1831.5 1291.4 L1833.0 1291.4 L1834.5 1291.5 L1836.0 1291.5 L1837.5 1291.6 L1839.0 1291.6 L1840.5 1291.7 L1842.0 1291.7 L1843.5 1291.8 L1845.0 1291.8 L1846.5 1291.9 L1848.0 1292.0 L1849.5 1292.0 L1851.0 1292.1 L1852.5 1292.2 L1854.0 1292.2 L1855.5 1292.3 L1857.0 1292.4" stroke="#0000ff" stroke-width="13" fill="none" stroke-linejoin="round"/>
<path d="M640.0 1289.6 L641.5 1287.6 L643.0 1285.4 L644.5 1283.0 L646.0 1280.6 L647.5 1278.0 L649.0 1275.4 L650.5 1272.6 L652.0 1269.6 L653.6 1266.3 L655.1 1262.9 L656.6 1259.5 L658.1 1256.0 L659.6 1252.6 L661.1 1249.4 L662.6 1246.3 L664.1 1243.3 L665.6 1240.3 L667.1 1237.4 L668.6 1234.4 L670.1 1231.5 L671.6 1228.5 L673.1 1225.5 L674.6 1222.4 L676.1 1219.3 L677.6 1216.0 L679.1 1212.7 L680.7 1209.4 L682.2 1206.0 L683.7 1202.7 L685.2 1199.3 L686.7 1195.9 L688.2 1192.6 L689.7 1189.3 L691.2 1186.0 L692.7 1182.6 L694.2 1179.3 L695.7 1176.0 L697.2 1172.7 L698.7 1169.4 L700.2 1166.2 L701.7 1163.0 L703.2 1159.8 L704.7 1156.6 L706.2 1153.4 L707.8 1150.3 L709.3 1147.1 L710.8 1143.9 L712.3 1140.8 L713.8 1137.5 L715.3 1134.2 L716.8 1130.8 L718.3 1127.4 L719.8 1124.1 L721.3 1120.8 L722.8 1117.6 L724.3 1114.7 L725.8 1111.9 L727.3 1109.3 L728.8 1106.8 L730.3 1104.3 L731.8 1101.9 L733.4 1099.5 L734.9 1097.3 L736.4 1095.1 L737.9 1093.0 L739.4 1091.1 L740.9 1089.2 L742.4 1087.5 L743.9 1085.9 L745.4 1084.3 L746.9 1082.6 L748.4 1081.0 L749.9 1079.3 L751.4 1077.7 L752.9 1076.1 L754.4 1074.6 L755.9 1073.2 L757.4 1071.9 L758.9 1070.7 L760.5 1069.7 L762.0 1068.8 L763.5 1068.2 L765.0 1067.7 L766.5 1067.5 L768.0 1067.5 L769.5 1067.6 L771.0 1067.9 L772.5 1068.2 L774.0 1068.6 L775.5 1069.1 L777.0 1069.6 L778.5 1070.2 L780.0 1070.9 L781.5 1071.7 L783.0 1072.4 L784.5 1073.3 L786.1 1074.1 L787.6 1075.0 L789.1 1076.0 L790.6 1076.9 L792.1 1077.9 L793.6 1078.9 L795.1 1080.2 L796.6 1081.7 L798.1 1083.3 L799.6 1085.1 L801.1 1087.0 L802.6 1089.0 L804.1 1091.2 L805.6 1093.4 L807.1 1095.6 L808.6 1098.0 L810.1 1100.3 L811.6 1102.7 L813.2 1105.3 L814.7 1108.1 L816.2 1111.2 L817.7 1114.3 L819.2 1117.6 L820.7 1120.8 L822.2 1124.0 L823.7 1127.0 L825.2 1129.9 L826.7 1132.6 L828.2 1135.2 L829.7 1137.7 L831.2 1140.2 L832.7 1142.8 L834.2 1145.4 L835.7 1148.1 L837.2 1151.1 L838.8 1154.2 L840.3 1157.7 L841.8 1161.5 L843.3 1165.7 L844.8 1170.0 L846.3 1174.3 L847.8 1178.6 L849.3 1182.7 L850.8 1186.4 L852.3 1190.0 L853.8 1193.5 L855.3 1196.9 L856.8 1200.2 L858.3 1203.5 L859.8 1206.8 L861.3 1210.1 L862.8 1213.5 L864.3 1216.9 L865.9 1220.5 L867.4 1224.2 L868.9 1227.8 L870.4 1231.3 L871.9 1234.7 L873.4 1237.8 L874.9 1240.6 L876.4 1243.2 L877.9 1245.7 L879.4 1248.0 L880.9 1250.3 L882.4 1252.5 L883.9 1254.6 L885.4 1256.6 L886.9 1258.7 L888.4 1260.7 L889.9 1262.7 L891.4 1264.8 L893.0 1266.9 L894.5 1268.9 L896.0 1271.0 L897.5 1273.0 L899.0 1275.0 L900.5 1277.0 L902.0 1278.9 L903.5 1280.8 L905.0 1282.8" stroke="#0000ff" stroke-width="18" fill="none" stroke-dasharray="16 14"/>
<path d="M205.5 1285.0 L207.0 1285.2 L208.5 1285.3 L210.0 1285.5 L211.5 1285.6 L213.0 1285.7 L214.5 1285.9 L216.0 1286.0 L217.5 1286.1 L219.0 1286.2 L220.5 1286.3 L222.0 1286.4 L223.5 1286.5 L225.0 1286.6 L226.5 1286.7 L228.0 1286.7 L229.5 1286.8 L231.0 1286.9 L232.5 1287.0 L234.0 1287.0 L235.5 1287.1 L237.0 1287.1 L238.5 1287.2 L240.0 1287.2 L241.5 1287.2 L243.0 1287.3 L244.5 1287.3 L246.0 1287.3 L247.5 1287.3 L249.0 1287.3 L250.5 1287.3 L252.0 1287.3 L253.5 1287.3 L255.0 1287.3 L256.5 1287.3 L258.0 1287.2 L259.5 1287.2 L261.0 1287.1 L262.5 1287.1 L264.0 1287.0 L265.5 1287.0 L267.0 1286.9 L268.5 1286.8 L270.0 1286.8 L271.5 1286.7 L273.0 1286.6 L274.5 1286.5 L276.0 1286.4 L277.5 1286.4 L279.0 1286.3 L280.5 1286.2 L282.0 1286.1 L283.5 1286.0 L285.0 1285.9 L286.5 1285.8 L288.0 1285.7 L289.5 1285.6 L291.0 1285.5 L292.5 1285.5 L294.0 1285.4 L295.5 1285.3 L297.0 1285.2 L298.5 1285.1 L300.0 1285.0 L301.5 1285.0 L303.0 1284.9 L304.5 1284.8 L306.0 1284.7 L307.5 1284.6 L309.0 1284.5 L310.5 1284.4 L312.0 1284.3 L313.5 1284.2 L315.0 1284.1 L316.5 1284.0 L318.0 1283.9 L319.5 1283.8 L321.0 1283.7 L322.5 1283.6 L324.0 1283.5 L325.5 1283.4 L327.0 1283.4 L328.5 1283.3 L330.0 1283.2 L331.5 1283.1 L333.0 1283.0 L334.5 1283.0 L336.0 1282.9 L337.5 1282.9 L339.0 1282.8 L340.5 1282.8 L342.0 1282.8 L343.5 1282.8 L345.0 1282.8 L346.5 1282.8 L348.0 1282.8 L349.5 1282.8 L351.0 1282.8 L352.5 1282.9 L354.0 1282.9 L355.5 1283.0 L357.0 1283.0 L358.5 1283.1 L360.0 1283.2 L361.5 1283.3 L363.0 1283.3 L364.5 1283.4 L366.0 1283.5 L367.5 1283.6 L369.0 1283.7 L370.5 1283.8 L372.0 1283.9 L373.5 1284.0 L375.0 1284.1 L376.5 1284.2 L378.0 1284.2 L379.5 1284.3 L381.0 1284.4 L382.5 1284.5 L384.0 1284.6 L385.5 1284.7 L387.0 1284.7 L388.5 1284.8 L390.0 1284.9 L391.5 1284.9 L393.0 1284.9 L394.5 1285.0 L396.0 1285.0 L397.5 1285.0 L399.0 1285.0 L400.5 1285.0 L402.0 1285.0 L403.5 1285.0 L405.0 1285.0 L406.5 1284.9 L408.0 1284.9 L409.5 1284.8 L411.0 1284.8 L412.5 1284.7 L414.0 1284.6 L415.5 1284.5 L417.0 1284.4 L418.5 1284.3 L420.0 1284.2 L421.5 1284.1 L423.0 1284.0 L424.5 1283.9 L426.0 1283.8 L427.5 1283.7 L429.0 1283.6 L430.5 1283.5 L432.0 1283.4 L433.5 1283.3 L435.0 1283.3 L436.5 1283.2 L438.0 1283.1 L439.5 1283.0 L441.0 1283.0 L442.5 1282.9 L444.0 1282.9 L445.5 1282.8 L447.0 1282.8 L448.5 1282.8 L450.0 1282.8 L451.5 1282.8 L453.0 1282.8 L454.5 1282.8 L456.0 1282.9 L457.5 1282.9 L459.0 1283.0 L460.5 1283.0 L462.0 1283.1 L463.5 1283.2 L465.0 1283.3 L466.5 1283.3 L468.0 1283.4 L469.5 1283.5 L471.0 1283.6 L472.5 1283.7 L474.0 1283.8 L475.5 1283.9 L477.0 1284.0 L478.5 1284.1 L480.0 1284.2 L481.5 1284.3 L483.0 1284.4 L484.5 1284.5 L486.0 1284.6 L487.5 1284.7 L489.0 1284.8 L490.5 1284.8 L492.0 1284.9 L493.5 1284.9 L495.0 1285.0 L496.5 1285.0 L498.0 1285.0 L499.5 1285.0 L501.0 1285.0 L502.5 1285.0 L504.0 1285.0 L505.5 1285.0 L507.0 1285.0 L508.5 1285.0 L510.0 1285.0 L511.5 1284.9 L513.0 1284.9 L514.5 1284.9 L516.0 1284.8 L517.5 1284.8 L519.0 1284.7 L520.5 1284.7 L522.0 1284.6 L523.5 1284.6 L525.0 1284.5 L526.5 1284.5 L528.0 1284.4 L529.5 1284.3 L531.0 1284.3 L532.5 1284.2 L534.0 1284.1 L535.5 1284.1 L537.0 1284.0 L538.5 1283.9 L540.0 1283.8 L541.5 1283.8 L543.0 1283.7 L544.5 1283.6 L546.0 1283.5 L547.5 1283.4 L549.0 1283.4 L550.5 1283.3 L552.0 1283.2 L553.5 1283.1 L555.0 1283.0 L556.5 1283.0 L558.0 1282.9 L559.5 1282.8 L561.0 1282.7 L562.5 1282.6 L564.0 1282.5 L565.5 1282.4 L567.0 1282.4 L568.5 1282.3 L570.0 1282.2 L571.5 1282.1 L573.0 1282.0 L574.5 1281.8 L576.0 1281.7 L577.5 1281.6 L579.0 1281.5 L580.5 1281.4 L582.0 1281.3 L583.5 1281.1 L585.0 1281.0 L586.5 1280.9 L588.0 1280.7 L589.5 1280.6 L591.0 1280.4 L592.5 1280.3 L594.0 1280.1 L595.5 1280.0 L597.0 1279.8 L598.5 1279.6 L600.0 1279.5 L601.5 1279.3 L603.0 1279.1 L604.5 1278.9 L606.0 1278.7 L607.5 1278.5 L609.0 1278.3 L610.5 1278.1 L612.0 1277.8 L613.5 1277.5 L615.0 1277.1 L616.5 1276.7 L618.0 1276.3 L619.5 1275.8 L621.0 1275.3 L622.5 1274.7 L624.0 1274.2 L625.5 1273.7 L627.0 1273.2 L628.5 1272.7 L630.0 1272.3 L631.5 1271.9 L633.0 1271.5 L634.5 1271.2 L636.0 1270.9 L637.5 1270.7 L639.0 1270.6 L640.5 1270.6 L642.0 1270.9 L643.5 1271.4 L645.0 1272.1 L646.5 1273.0 L648.0 1274.1 L649.5 1275.3 L651.0 1276.6 L652.5 1277.9 L654.0 1279.3 L655.5 1280.6 L657.0 1281.8 L658.5 1283.0 L660.0 1284.0 L661.5 1284.8 L663.0 1285.5 L664.5 1286.2 L666.0 1286.9 L667.5 1287.6 L669.0 1288.3 L670.5 1289.0 L672.0 1289.6 L673.5 1290.2 L675.0 1290.7 L676.5 1291.1 L678.0 1291.5 L679.5 1291.7 L681.0 1291.9 L682.5 1291.9 L684.0 1291.7 L685.5 1291.2 L687.0 1290.5 L688.5 1289.5 L690.0 1288.4 L691.5 1287.2 L693.0 1285.8 L694.5 1284.3 L696.0 1282.7 L697.5 1281.1 L699.0 1279.5 L700.5 1277.8 L702.0 1276.2 L703.5 1274.6 L705.0 1273.1 L706.5 1271.7 L708.0 1270.5 L709.5 1269.4 L711.0 1268.4 L712.5 1267.4 L714.0 1266.3 L715.5 1265.3 L717.0 1264.2 L718.5 1263.1 L720.0 1262.1 L721.5 1261.0 L723.0 1259.9 L724.5 1258.9 L726.0 1257.9 L727.5 1256.9 L729.0 1256.0 L730.5 1255.1 L732.0 1254.3 L733.5 1253.5 L735.0 1252.9 L736.5 1252.2 L738.0 1251.7 L739.5 1251.3 L741.0 1250.9 L742.5 1250.6 L744.0 1250.5 L745.5 1250.5 L747.0 1250.7 L748.5 1251.1 L750.0 1251.7 L751.5 1252.5 L753.0 1253.4 L754.5 1254.5 L756.0 1255.7 L757.5 1257.0 L759.0 1258.4 L760.5 1259.8 L762.0 1261.3 L763.5 1262.8 L765.0 1264.3 L766.5 1265.8 L768.0 1267.2 L769.5 1268.6 L771.0 1270.0 L772.5 1271.6 L774.0 1273.3 L775.5 1275.3 L777.0 1277.3 L778.5 1279.4 L780.0 1281.5 L781.5 1283.5 L783.0 1285.5 L784.5 1287.2 L786.0 1288.8 L787.5 1290.1 L789.0 1291.1 L790.5 1291.7 L792.0 1291.9 L793.5 1291.7 L795.0 1291.0 L796.5 1290.0 L798.0 1288.5 L799.5 1286.8 L801.0 1284.8 L802.5 1282.5 L804.0 1280.0 L805.5 1277.1 L807.0 1271.6 L808.5 1264.4 L810.0 1257.3 L811.5 1252.0 L813.0 1247.7 L814.5 1243.9 L816.0 1240.4 L817.5 1237.1 L819.0 1233.9 L820.5 1230.7 L822.0 1227.6 L823.5 1224.2 L825.0 1220.7 L826.5 1217.0 L828.0 1213.3 L829.5 1209.5 L831.0 1205.8 L832.5 1201.9 L834.0 1198.1 L835.5 1194.3 L837.0 1190.6 L838.5 1186.8 L840.0 1183.0 L841.5 1179.1 L843.0 1175.3 L844.5 1171.5 L846.0 1167.7 L847.5 1164.0 L849.0 1160.4 L850.5 1156.9 L852.0 1153.6 L853.5 1150.4 L855.0 1147.3 L856.5 1144.2 L858.0 1141.2 L859.5 1138.2 L861.0 1135.3 L862.5 1132.4 L864.0 1129.5 L865.5 1126.6 L867.0 1123.8 L868.5 1120.8 L870.0 1117.8 L871.5 1114.8 L873.0 1111.7 L874.5 1108.6 L876.0 1105.6 L877.5 1102.7 L879.0 1099.9 L880.5 1097.2 L882.0 1094.8 L883.5 1092.6 L885.0 1090.7 L886.5 1089.4 L888.0 1088.3 L889.5 1087.1 L891.0 1086.0 L892.5 1084.9 L894.0 1083.7 L895.5 1082.6 L897.0 1081.4 L898.5 1080.3 L900.0 1079.2 L901.5 1078.0 L903.0 1076.9 L904.5 1075.7 L906.0 1074.6 L907.5 1073.5 L909.0 1072.3 L910.5 1071.2 L912.0 1070.0 L913.5 1068.9 L915.0 1067.8 L916.5 1067.3 L918.0 1068.3 L919.5 1069.3 L921.0 1070.4 L922.5 1071.4 L924.0 1072.4 L925.5 1073.4 L927.0 1074.4 L928.5 1075.4 L930.0 1076.4 L931.5 1077.4 L933.0 1078.4 L934.5 1079.4 L936.0 1080.4 L937.5 1081.4 L939.0 1082.4 L940.5 1083.4 L942.0 1084.4 L943.5 1085.5 L945.0 1086.5 L946.5 1087.5 L948.0 1088.5 L949.5 1089.5 L951.0 1090.7 L952.5 1092.8 L954.0 1095.5 L955.5 1098.5 L957.0 1101.8 L958.5 1105.4 L960.0 1109.1 L961.5 1113.0 L963.0 1116.8 L964.5 1120.6 L966.0 1124.2 L967.5 1127.7 L969.0 1131.3 L970.5 1135.0 L972.0 1138.7 L973.5 1142.5 L975.0 1146.3 L976.5 1150.1 L978.0 1153.9 L979.5 1157.8 L981.0 1161.7 L982.5 1165.6 L984.0 1169.6 L985.5 1173.6 L987.0 1177.6 L988.5 1181.6 L990.0 1185.7 L991.5 1189.9 L993.0 1194.1 L994.5 1198.4 L996.0 1202.7 L997.5 1207.0 L999.0 1211.3 L1000.5 1215.7 L1002.0 1220.0 L1003.5 1224.3 L1005.0 1228.4 L1006.5 1232.4 L1008.0 1236.5 L1009.5 1240.6 L1011.0 1244.9 L1012.5 1249.5 L1014.0 1254.4 L1015.5 1260.7 L1017.0 1267.7 L1018.5 1274.1 L1020.0 1278.2 L1021.5 1280.6 L1023.0 1282.8 L1024.5 1284.7 L1026.0 1286.3 L1027.5 1287.5 L1029.0 1288.2 L1030.5 1288.5 L1032.0 1288.1 L1033.5 1287.2 L1035.0 1285.9 L1036.5 1284.1 L1038.0 1282.0 L1039.5 1279.7 L1041.0 1277.3 L1042.5 1274.8 L1044.0 1272.3 L1045.5 1270.0 L1047.0 1267.8 L1048.5 1266.0 L1050.0 1264.4 L1051.5 1263.1 L1053.0 1261.8 L1054.5 1260.4 L1056.0 1259.1 L1057.5 1257.7 L1059.0 1256.4 L1060.5 1255.1 L1062.0 1253.8 L1063.5 1252.7 L1065.0 1251.5 L1066.5 1250.5 L1068.0 1249.6 L1069.5 1248.7 L1071.0 1248.0 L1072.5 1247.4 L1074.0 1247.0 L1075.5 1246.7 L1077.0 1246.6 L1078.5 1246.6 L1080.0 1246.8 L1081.5 1247.2 L1083.0 1247.7 L1084.5 1248.3 L1086.0 1249.0 L1087.5 1249.8 L1089.0 1250.7 L1090.5 1251.7 L1092.0 1252.7 L1093.5 1253.8 L1095.0 1254.9 L1096.5 1256.0 L1098.0 1257.1 L1099.5 1258.3 L1101.0 1259.4 L1102.5 1260.4 L1104.0 1261.5 L1105.5 1262.5 L1107.0 1263.6 L1108.5 1264.8 L1110.0 1266.1 L1111.5 1267.6 L1113.0 1269.0 L1114.5 1270.5 L1116.0 1272.0 L1117.5 1273.5 L1119.0 1274.9 L1120.5 1276.3 L1122.0 1277.6 L1123.5 1278.7 L1125.0 1279.7 L1126.5 1280.6 L1128.0 1281.2 L1129.5 1281.7 L1131.0 1281.9 L1132.5 1282.0 L1134.0 1282.1 L1135.5 1282.2 L1137.0 1282.3 L1138.5 1282.4 L1140.0 1282.5 L1141.5 1282.5 L1143.0 1282.5 L1144.5 1282.5 L1146.0 1282.4 L1147.5 1282.3 L1149.0 1282.1 L1150.5 1281.8 L1152.0 1281.5 L1153.5 1281.2 L1155.0 1280.8 L1156.5 1280.4 L1158.0 1279.9 L1159.5 1279.4 L1161.0 1279.0 L1162.5 1278.5 L1164.0 1278.0 L1165.5 1277.5 L1167.0 1277.0 L1168.5 1276.5 L1170.0 1276.1 L1171.5 1275.6 L1173.0 1275.2 L1174.5 1274.9 L1176.0 1274.6 L1177.5 1274.3 L1179.0 1274.1 L1180.5 1273.9 L1182.0 1273.8 L1183.5 1273.8 L1185.0 1273.8 L1186.5 1273.9 L1188.0 1273.9 L1189.5 1274.0 L1191.0 1274.1 L1192.5 1274.2 L1194.0 1274.3 L1195.5 1274.5 L1197.0 1274.6 L1198.5 1274.8 L1200.0 1274.9 L1201.5 1275.1 L1203.0 1275.3 L1204.5 1275.5 L1206.0 1275.7 L1207.5 1275.9 L1209.0 1276.2 L1210.5 1276.4 L1212.0 1276.6 L1213.5 1276.8 L1215.0 1277.1 L1216.5 1277.3 L1218.0 1277.6 L1219.5 1277.8 L1221.0 1278.0 L1222.5 1278.3 L1224.0 1278.5 L1225.5 1278.7 L1227.0 1278.9 L1228.5 1279.1 L1230.0 1279.3 L1231.5 1279.5 L1233.0 1279.7 L1234.5 1279.9 L1236.0 1280.1 L1237.5 1280.2 L1239.0 1280.4 L1240.5 1280.5 L1242.0 1280.6 L1243.5 1280.8 L1245.0 1280.9 L1246.5 1281.0 L1248.0 1281.2 L1249.5 1281.3 L1251.0 1281.5 L1252.5 1281.6 L1254.0 1281.7 L1255.5 1281.9 L1257.0 1282.0 L1258.5 1282.1 L1260.0 1282.3 L1261.5 1282.4 L1263.0 1282.6 L1264.5 1282.7 L1266.0 1282.8 L1267.5 1282.9 L1269.0 1283.1 L1270.5 1283.2 L1272.0 1283.3 L1273.5 1283.4 L1275.0 1283.5 L1276.5 1283.6 L1278.0 1283.7 L1279.5 1283.8 L1281.0 1283.9 L1282.5 1284.0 L1284.0 1284.1 L1285.5 1284.2 L1287.0 1284.3 L1288.5 1284.3 L1290.0 1284.4 L1291.5 1284.4 L1293.0 1284.5 L1294.5 1284.5 L1296.0 1284.5 L1297.5 1284.6 L1299.0 1284.6 L1300.5 1284.6 L1302.0 1284.6 L1303.5 1284.6 L1305.0 1284.5 L1306.5 1284.4 L1308.0 1284.4 L1309.5 1284.3 L1311.0 1284.1 L1312.5 1284.0 L1314.0 1283.9 L1315.5 1283.7 L1317.0 1283.5 L1318.5 1283.3 L1320.0 1283.1 L1321.5 1282.9 L1323.0 1282.7 L1324.5 1282.5 L1326.0 1282.3 L1327.5 1282.0 L1329.0 1281.8 L1330.5 1281.6 L1332.0 1281.3 L1333.5 1281.1 L1335.0 1280.9 L1336.5 1280.6 L1338.0 1280.4 L1339.5 1280.2 L1341.0 1280.0 L1342.5 1279.8 L1344.0 1279.6 L1345.5 1279.4 L1347.0 1279.2 L1348.5 1279.0 L1350.0 1278.9 L1351.5 1278.7 L1353.0 1278.6 L1354.5 1278.5 L1356.0 1278.4 L1357.5 1278.3 L1359.0 1278.2 L1360.5 1278.2 L1362.0 1278.2 L1363.5 1278.2 L1365.0 1278.2 L1366.5 1278.3 L1368.0 1278.3 L1369.5 1278.4 L1371.0 1278.5 L1372.5 1278.6 L1374.0 1278.8 L1375.5 1278.9 L1377.0 1279.1 L1378.5 1279.3 L1380.0 1279.5 L1381.5 1279.7 L1383.0 1279.9 L1384.5 1280.1 L1386.0 1280.3 L1387.5 1280.6 L1389.0 1280.8 L1390.5 1281.1 L1392.0 1281.4 L1393.5 1281.6 L1395.0 1281.9 L1396.5 1282.2 L1398.0 1282.5 L1399.5 1282.7 L1401.0 1283.0 L1402.5 1283.3 L1404.0 1283.6 L1405.5 1283.8 L1407.0 1284.1 L1408.5 1284.4 L1410.0 1284.6 L1411.5 1284.9 L1413.0 1285.1 L1414.5 1285.4 L1416.0 1285.6 L1417.5 1285.8 L1419.0 1286.0 L1420.5 1286.2 L1422.0 1286.4 L1423.5 1286.6 L1425.0 1286.7 L1426.5 1286.9 L1428.0 1287.0 L1429.5 1287.1 L1431.0 1287.2 L1432.5 1287.3 L1434.0 1287.3 L1435.5 1287.3 L1437.0 1287.3 L1438.5 1287.3 L1440.0 1287.3 L1441.5 1287.2 L1443.0 1287.0 L1444.5 1286.9 L1446.0 1286.7 L1447.5 1286.5 L1449.0 1286.2 L1450.5 1286.0 L1452.0 1285.7 L1453.5 1285.4 L1455.0 1285.1 L1456.5 1284.8 L1458.0 1284.5 L1459.5 1284.1 L1461.0 1283.8 L1462.5 1283.4 L1464.0 1283.1 L1465.5 1282.7 L1467.0 1282.4 L1468.5 1282.0 L1470.0 1281.7 L1471.5 1281.4 L1473.0 1281.1 L1474.5 1280.8 L1476.0 1280.5 L1477.5 1280.2 L1479.0 1280.0 L1480.5 1279.8 L1482.0 1279.6 L1483.5 1279.4 L1485.0 1279.3 L1486.5 1279.2 L1488.0 1279.1 L1489.5 1279.1 L1491.0 1279.1 L1492.5 1279.1 L1494.0 1279.2 L1495.5 1279.3 L1497.0 1279.5 L1498.5 1279.6 L1500.0 1279.8 L1501.5 1280.1 L1503.0 1280.3 L1504.5 1280.6 L1506.0 1280.9 L1507.5 1281.2 L1509.0 1281.5 L1510.5 1281.8 L1512.0 1282.2 L1513.5 1282.5 L1515.0 1282.9 L1516.5 1283.3 L1518.0 1283.7 L1519.5 1284.1 L1521.0 1284.5 L1522.5 1284.9 L1524.0 1285.2 L1525.5 1285.6 L1527.0 1286.0 L1528.5 1286.4 L1530.0 1286.8 L1531.5 1287.1 L1533.0 1287.5 L1534.5 1287.8 L1536.0 1288.1 L1537.5 1288.4 L1539.0 1288.7 L1540.5 1289.0 L1542.0 1289.2 L1543.5 1289.4 L1545.0 1289.6 L1546.5 1289.8 L1548.0 1289.9 L1549.5 1290.0 L1551.0 1290.1 L1552.5 1290.1 L1554.0 1290.1 L1555.5 1290.0 L1557.0 1289.8 L1558.5 1289.5 L1560.0 1289.2 L1561.5 1288.8 L1563.0 1288.4 L1564.5 1287.9 L1566.0 1287.4 L1567.5 1286.9 L1569.0 1286.5 L1570.5 1286.0 L1572.0 1285.5 L1573.5 1285.1 L1575.0 1284.7 L1576.5 1284.4 L1578.0 1284.1 L1579.5 1284.0 L1581.0 1283.8 L1582.5 1283.7 L1584.0 1283.6 L1585.5 1283.5 L1587.0 1283.4 L1588.5 1283.3 L1590.0 1283.2 L1591.5 1283.1 L1593.0 1283.0 L1594.5 1282.9 L1596.0 1282.8 L1597.5 1282.7 L1599.0 1282.6 L1600.5 1282.5 L1602.0 1282.4 L1603.5 1282.4 L1605.0 1282.3 L1606.5 1282.2 L1608.0 1282.2 L1609.5 1282.1 L1611.0 1282.0 L1612.5 1282.0 L1614.0 1281.9 L1615.5 1281.9 L1617.0 1281.8 L1618.5 1281.8 L1620.0 1281.8 L1621.5 1281.7 L1623.0 1281.7 L1624.5 1281.7 L1626.0 1281.7 L1627.5 1281.6 L1629.0 1281.6 L1630.5 1281.6 L1632.0 1281.6 L1633.5 1281.6 L1635.0 1281.6 L1636.5 1281.6 L1638.0 1281.6 L1639.5 1281.6 L1641.0 1281.5 L1642.5 1281.5 L1644.0 1281.5 L1645.5 1281.5 L1647.0 1281.5 L1648.5 1281.5 L1650.0 1281.5 L1651.5 1281.5 L1653.0 1281.5 L1654.5 1281.5 L1656.0 1281.5 L1657.5 1281.5 L1659.0 1281.5 L1660.5 1281.4 L1662.0 1281.4 L1663.5 1281.4 L1665.0 1281.4 L1666.5 1281.4 L1668.0 1281.4 L1669.5 1281.4 L1671.0 1281.4 L1672.5 1281.4 L1674.0 1281.4 L1675.5 1281.4 L1677.0 1281.4 L1678.5 1281.4 L1680.0 1281.4 L1681.5 1281.4 L1683.0 1281.4 L1684.5 1281.4 L1686.0 1281.4 L1687.5 1281.4 L1689.0 1281.4 L1690.5 1281.4 L1692.0 1281.4 L1693.5 1281.5 L1695.0 1281.6 L1696.5 1281.8 L1698.0 1282.0 L1699.5 1282.2 L1701.0 1282.5 L1702.5 1282.7 L1704.0 1283.0 L1705.5 1283.4 L1707.0 1283.7 L1708.5 1284.1 L1710.0 1284.4 L1711.5 1284.8 L1713.0 1285.2 L1714.5 1285.5 L1716.0 1285.9 L1717.5 1286.3 L1719.0 1286.6 L1720.5 1287.0 L1722.0 1287.3 L1723.5 1287.6 L1725.0 1287.9 L1726.5 1288.2 L1728.0 1288.4 L1729.5 1288.6 L1731.0 1288.8 L1732.5 1289.0 L1734.0 1289.1 L1735.5 1289.1 L1737.0 1289.2 L1738.5 1289.2 L1740.0 1289.1 L1741.5 1289.1 L1743.0 1289.0 L1744.5 1288.9 L1746.0 1288.7 L1747.5 1288.6 L1749.0 1288.4 L1750.5 1288.2 L1752.0 1288.0 L1753.5 1287.8 L1755.0 1287.5 L1756.5 1287.3 L1758.0 1287.0 L1759.5 1286.7 L1761.0 1286.4 L1762.5 1286.1 L1764.0 1285.8 L1765.5 1285.5 L1767.0 1285.2 L1768.5 1284.9 L1770.0 1284.5 L1771.5 1284.2 L1773.0 1283.9 L1774.5 1283.5 L1776.0 1283.2 L1777.5 1282.8 L1779.0 1282.5 L1780.5 1282.2 L1782.0 1281.8 L1783.5 1281.5 L1785.0 1281.2 L1786.5 1280.9 L1788.0 1280.6 L1789.5 1280.3 L1791.0 1280.0 L1792.5 1279.8 L1794.0 1279.5 L1795.5 1279.3 L1797.0 1279.1 L1798.5 1278.8 L1800.0 1278.7 L1801.5 1278.5 L1803.0 1278.3 L1804.5 1278.2 L1806.0 1278.1 L1807.5 1278.0 L1809.0 1278.0 L1810.5 1277.9 L1812.0 1277.9 L1813.5 1277.8 L1815.0 1277.8 L1816.5 1277.7 L1818.0 1277.7 L1819.5 1277.6 L1821.0 1277.6 L1822.5 1277.5 L1824.0 1277.5 L1825.5 1277.5 L1827.0 1277.4 L1828.5 1277.4 L1830.0 1277.4 L1831.5 1277.3 L1833.0 1277.3 L1834.5 1277.3 L1836.0 1277.2 L1837.5 1277.2 L1839.0 1277.2 L1840.5 1277.2 L1842.0 1277.1 L1843.5 1277.1 L1845.0 1277.1 L1846.5 1277.1 L1848.0 1277.1 L1849.5 1277.1 L1851.0 1277.1 L1852.5 1277.0 L1854.0 1277.0 L1855.5 1277.0 L1857.0 1277.0" stroke="#00ff00" stroke-width="13" fill="none" stroke-linejoin="round"/>
<path d="M790.0 1296.5 L791.5 1293.3 L793.0 1288.7 L794.5 1282.8 L796.0 1273.5 L797.5 1262.4 L799.0 1252.6 L800.5 1246.8 L802.0 1242.9 L803.5 1239.7 L805.0 1237.0 L806.5 1234.6 L808.0 1232.5 L809.5 1230.5 L811.0 1228.5 L812.5 1226.3 L814.0 1223.9 L815.5 1221.1 L817.0 1218.0 L818.6 1214.7 L820.1 1211.4 L821.6 1207.9 L823.1 1204.3 L824.6 1200.7 L826.1 1197.1 L827.6 1193.5 L829.1 1189.9 L830.6 1186.2 L832.1 1182.4 L833.6 1178.6 L835.1 1174.8 L836.6 1171.1 L838.1 1167.4 L839.6 1163.9 L841.1 1160.5 L842.6 1157.1 L844.1 1153.8 L845.6 1150.5 L847.1 1147.2 L848.6 1144.0 L850.1 1140.8 L851.6 1137.5 L853.1 1134.2 L854.6 1130.9 L856.1 1127.5 L857.6 1124.1 L859.1 1120.8 L860.6 1117.6 L862.1 1114.5 L863.6 1111.6 L865.1 1108.9 L866.6 1106.2 L868.1 1103.5 L869.6 1100.8 L871.1 1098.2 L872.7 1095.7 L874.2 1093.2 L875.7 1090.9 L877.2 1088.8 L878.7 1086.9 L880.2 1085.2 L881.7 1083.8 L883.2 1082.6 L884.7 1081.4 L886.2 1080.3 L887.7 1079.2 L889.2 1078.1 L890.7 1077.1 L892.2 1076.1 L893.7 1075.1 L895.2 1074.2 L896.7 1073.3 L898.2 1072.5 L899.7 1071.7 L901.2 1071.0 L902.7 1070.3 L904.2 1069.7 L905.7 1069.1 L907.2 1068.7 L908.7 1068.3 L910.2 1068.0 L911.7 1067.7 L913.2 1067.6 L914.7 1067.5 L916.2 1067.7 L917.7 1068.2 L919.2 1069.2 L920.7 1070.4 L922.2 1071.9 L923.7 1073.6 L925.2 1075.5 L926.7 1077.4 L928.3 1079.4 L929.8 1081.4 L931.3 1083.2 L932.8 1085.1 L934.3 1087.0 L935.8 1089.2 L937.3 1091.4 L938.8 1093.7 L940.3 1096.1 L941.8 1098.5 L943.3 1100.9 L944.8 1103.3 L946.3 1105.6 L947.8 1107.9 L949.3 1110.0 L950.8 1112.1 L952.3 1114.1 L953.8 1116.1 L955.3 1118.0 L956.8 1120.0 L958.3 1122.0 L959.8 1124.1 L961.3 1126.2 L962.8 1128.4 L964.3 1130.7 L965.8 1133.2 L967.3 1135.9 L968.8 1138.9 L970.3 1142.0 L971.8 1145.3 L973.3 1148.6 L974.8 1151.8 L976.3 1154.9 L977.8 1157.8 L979.3 1160.3 L980.8 1162.7 L982.3 1164.9 L983.9 1167.1 L985.4 1169.1 L986.9 1171.1 L988.4 1173.1 L989.9 1175.1 L991.4 1177.2 L992.9 1179.5 L994.4 1181.9 L995.9 1184.6 L997.4 1187.5 L998.9 1190.7 L1000.4 1194.2 L1001.9 1197.7 L1003.4 1201.4 L1004.9 1205.0 L1006.4 1208.6 L1007.9 1212.0 L1009.4 1215.4 L1010.9 1218.8 L1012.4 1222.2 L1013.9 1225.6 L1015.4 1228.9 L1016.9 1232.2 L1018.4 1235.3 L1019.9 1238.2 L1021.4 1241.0 L1022.9 1243.8 L1024.4 1246.5 L1025.9 1249.1 L1027.4 1251.6 L1028.9 1254.1 L1030.4 1256.4 L1031.9 1258.6 L1033.4 1260.5 L1034.9 1262.3 L1036.4 1263.9 L1038.0 1265.5 L1039.5 1266.9 L1041.0 1268.3 L1042.5 1269.6 L1044.0 1270.9 L1045.5 1272.1 L1047.0 1273.2 L1048.5 1274.3 L1050.0 1275.4 L1051.5 1276.5 L1053.0 1277.5 L1054.5 1278.5 L1056.0 1279.6 L1057.5 1280.6 L1059.0 1281.5 L1060.5 1282.5 L1062.0 1283.4 L1063.5 1284.2 L1065.0 1285.0" stroke="#00ff00" stroke-width="18" fill="none" stroke-dasharray="16 14"/>
<path d="M205.5 1289.6 L207.0 1289.8 L208.5 1290.0 L210.0 1290.1 L211.5 1290.2 L213.0 1290.4 L214.5 1290.5 L216.0 1290.6 L217.5 1290.7 L219.0 1290.7 L220.5 1290.8 L222.0 1290.9 L223.5 1290.9 L225.0 1290.9 L226.5 1291.0 L228.0 1291.0 L229.5 1291.0 L231.0 1291.0 L232.5 1291.0 L234.0 1290.9 L235.5 1290.9 L237.0 1290.8 L238.5 1290.6 L240.0 1290.5 L241.5 1290.3 L243.0 1290.1 L244.5 1289.9 L246.0 1289.7 L247.5 1289.5 L249.0 1289.3 L250.5 1289.1 L252.0 1289.0 L253.5 1288.8 L255.0 1288.7 L256.5 1288.6 L258.0 1288.5 L259.5 1288.5 L261.0 1288.5 L262.5 1288.5 L264.0 1288.5 L265.5 1288.5 L267.0 1288.5 L268.5 1288.5 L270.0 1288.5 L271.5 1288.5 L273.0 1288.6 L274.5 1288.6 L276.0 1288.6 L277.5 1288.6 L279.0 1288.6 L280.5 1288.7 L282.0 1288.7 L283.5 1288.7 L285.0 1288.8 L286.5 1288.8 L288.0 1288.8 L289.5 1288.8 L291.0 1288.9 L292.5 1288.9 L294.0 1288.9 L295.5 1289.0 L297.0 1289.0 L298.5 1289.0 L300.0 1289.1 L301.5 1289.2 L303.0 1289.2 L304.5 1289.3 L306.0 1289.3 L307.5 1289.4 L309.0 1289.5 L310.5 1289.6 L312.0 1289.7 L313.5 1289.7 L315.0 1289.8 L316.5 1289.9 L318.0 1290.0 L319.5 1290.1 L321.0 1290.2 L322.5 1290.3 L324.0 1290.4 L325.5 1290.5 L327.0 1290.6 L328.5 1290.7 L330.0 1290.8 L331.5 1290.9 L333.0 1291.0 L334.5 1291.1 L336.0 1291.3 L337.5 1291.4 L339.0 1291.6 L340.5 1291.8 L342.0 1291.9 L343.6 1292.1 L345.1 1292.3 L346.6 1292.4 L348.1 1292.6 L349.6 1292.7 L351.1 1292.8 L352.6 1292.9 L354.1 1293.0 L355.6 1293.0 L357.1 1293.1 L358.6 1293.1 L360.1 1293.0 L361.6 1293.0 L363.1 1292.9 L364.6 1292.9 L366.1 1292.8 L367.6 1292.7 L369.1 1292.6 L370.6 1292.5 L372.1 1292.3 L373.6 1292.2 L375.1 1292.1 L376.6 1291.9 L378.1 1291.7 L379.6 1291.6 L381.1 1291.4 L382.6 1291.3 L384.1 1291.1 L385.6 1290.9 L387.1 1290.8 L388.6 1290.6 L390.1 1290.5 L391.6 1290.3 L393.1 1290.2 L394.6 1290.0 L396.1 1289.9 L397.6 1289.8 L399.1 1289.7 L400.6 1289.6 L402.1 1289.5 L403.6 1289.4 L405.1 1289.3 L406.6 1289.2 L408.1 1289.1 L409.6 1289.0 L411.1 1288.9 L412.6 1288.9 L414.1 1288.8 L415.6 1288.7 L417.1 1288.6 L418.6 1288.5 L420.1 1288.4 L421.6 1288.3 L423.1 1288.2 L424.6 1288.1 L426.1 1288.1 L427.6 1288.0 L429.1 1287.9 L430.6 1287.8 L432.1 1287.8 L433.6 1287.7 L435.1 1287.6 L436.6 1287.6 L438.1 1287.5 L439.6 1287.5 L441.1 1287.5 L442.6 1287.4 L444.1 1287.4 L445.6 1287.4 L447.1 1287.4 L448.6 1287.3 L450.1 1287.3 L451.6 1287.3 L453.1 1287.4 L454.6 1287.4 L456.1 1287.4 L457.6 1287.4 L459.1 1287.4 L460.6 1287.5 L462.1 1287.5 L463.6 1287.5 L465.1 1287.6 L466.6 1287.6 L468.1 1287.7 L469.6 1287.7 L471.1 1287.8 L472.6 1287.8 L474.1 1287.9 L475.6 1287.9 L477.1 1288.0 L478.6 1288.0 L480.1 1288.1 L481.6 1288.1 L483.1 1288.2 L484.6 1288.2 L486.1 1288.3 L487.6 1288.3 L489.1 1288.3 L490.6 1288.4 L492.1 1288.4 L493.6 1288.4 L495.1 1288.5 L496.6 1288.5 L498.1 1288.5 L499.6 1288.5 L501.1 1288.5 L502.6 1288.5 L504.1 1288.4 L505.6 1288.4 L507.1 1288.4 L508.6 1288.3 L510.1 1288.2 L511.6 1288.1 L513.1 1288.1 L514.6 1288.0 L516.1 1287.9 L517.6 1287.8 L519.1 1287.7 L520.6 1287.5 L522.1 1287.4 L523.6 1287.3 L525.1 1287.2 L526.6 1287.1 L528.1 1286.9 L529.6 1286.8 L531.1 1286.7 L532.6 1286.5 L534.1 1286.4 L535.6 1286.3 L537.1 1286.2 L538.6 1286.0 L540.1 1285.9 L541.6 1285.8 L543.1 1285.7 L544.6 1285.6 L546.1 1285.5 L547.6 1285.4 L549.1 1285.3 L550.6 1285.3 L552.1 1285.2 L553.6 1285.2 L555.1 1285.1 L556.6 1285.1 L558.1 1285.1 L559.6 1285.1 L561.1 1285.1 L562.6 1285.1 L564.1 1285.2 L565.6 1285.2 L567.1 1285.3 L568.6 1285.5 L570.1 1285.6 L571.6 1285.8 L573.1 1285.9 L574.6 1286.1 L576.1 1286.3 L577.6 1286.5 L579.1 1286.7 L580.6 1286.8 L582.1 1287.0 L583.6 1287.2 L585.1 1287.4 L586.6 1287.6 L588.1 1287.8 L589.6 1287.9 L591.1 1288.1 L592.6 1288.2 L594.1 1288.3 L595.6 1288.4 L597.1 1288.4 L598.6 1288.5 L600.1 1288.5 L601.6 1288.5 L603.1 1288.5 L604.6 1288.4 L606.1 1288.4 L607.6 1288.4 L609.1 1288.3 L610.6 1288.2 L612.1 1288.2 L613.6 1288.1 L615.1 1288.0 L616.6 1288.0 L618.1 1287.9 L619.7 1287.8 L621.2 1287.7 L622.7 1287.6 L624.2 1287.5 L625.7 1287.4 L627.2 1287.3 L628.7 1287.2 L630.2 1287.1 L631.7 1287.1 L633.2 1287.0 L634.7 1286.9 L636.2 1286.8 L637.7 1286.7 L639.2 1286.7 L640.7 1286.6 L642.2 1286.6 L643.7 1286.5 L645.2 1286.4 L646.7 1286.4 L648.2 1286.3 L649.7 1286.3 L651.2 1286.2 L652.7 1286.1 L654.2 1286.1 L655.7 1286.0 L657.2 1285.9 L658.7 1285.9 L660.2 1285.8 L661.7 1285.7 L663.2 1285.7 L664.7 1285.6 L666.2 1285.6 L667.7 1285.5 L669.2 1285.5 L670.7 1285.4 L672.2 1285.4 L673.7 1285.3 L675.2 1285.3 L676.7 1285.2 L678.2 1285.2 L679.7 1285.2 L681.2 1285.1 L682.7 1285.1 L684.2 1285.1 L685.7 1285.1 L687.2 1285.1 L688.7 1285.1 L690.2 1285.1 L691.7 1285.1 L693.2 1285.1 L694.7 1285.1 L696.2 1285.2 L697.7 1285.2 L699.2 1285.3 L700.7 1285.4 L702.2 1285.5 L703.7 1285.6 L705.2 1285.7 L706.7 1285.8 L708.2 1285.9 L709.7 1286.0 L711.2 1286.1 L712.7 1286.2 L714.2 1286.4 L715.7 1286.5 L717.2 1286.6 L718.7 1286.7 L720.2 1286.8 L721.7 1287.0 L723.2 1287.1 L724.7 1287.2 L726.2 1287.3 L727.7 1287.4 L729.2 1287.5 L730.7 1287.5 L732.2 1287.6 L733.7 1287.7 L735.2 1287.7 L736.7 1287.8 L738.2 1287.8 L739.7 1287.8 L741.2 1287.8 L742.7 1287.8 L744.2 1287.8 L745.7 1287.7 L747.2 1287.7 L748.7 1287.7 L750.2 1287.6 L751.7 1287.6 L753.2 1287.5 L754.7 1287.5 L756.2 1287.4 L757.7 1287.4 L759.2 1287.3 L760.7 1287.2 L762.2 1287.1 L763.7 1287.0 L765.2 1287.0 L766.7 1286.9 L768.2 1286.8 L769.7 1286.7 L771.2 1286.6 L772.7 1286.4 L774.2 1286.3 L775.7 1286.2 L777.2 1286.1 L778.7 1286.0 L780.2 1285.9 L781.7 1285.8 L783.2 1285.6 L784.7 1285.5 L786.2 1285.4 L787.7 1285.2 L789.2 1285.1 L790.7 1285.0 L792.2 1284.8 L793.7 1284.6 L795.2 1284.4 L796.7 1284.1 L798.2 1283.8 L799.7 1283.5 L801.2 1283.1 L802.7 1282.8 L804.2 1282.4 L805.7 1282.0 L807.2 1281.6 L808.7 1281.3 L810.2 1280.9 L811.7 1280.6 L813.2 1280.2 L814.7 1279.9 L816.2 1279.6 L817.7 1279.4 L819.2 1279.1 L820.7 1279.0 L822.2 1278.8 L823.7 1278.7 L825.2 1278.6 L826.7 1278.6 L828.2 1278.7 L829.7 1278.8 L831.2 1279.0 L832.7 1279.2 L834.2 1279.4 L835.7 1279.7 L837.2 1280.0 L838.7 1280.4 L840.2 1280.8 L841.7 1281.2 L843.2 1281.6 L844.7 1282.0 L846.2 1282.5 L847.7 1282.9 L849.2 1283.4 L850.7 1283.8 L852.2 1284.2 L853.7 1284.7 L855.2 1285.1 L856.7 1285.4 L858.2 1285.8 L859.7 1286.1 L861.2 1286.4 L862.7 1286.7 L864.2 1286.9 L865.7 1287.1 L867.2 1287.2 L868.7 1287.3 L870.2 1287.3 L871.7 1287.3 L873.2 1287.2 L874.7 1287.1 L876.2 1287.0 L877.7 1286.8 L879.2 1286.6 L880.7 1286.4 L882.2 1286.2 L883.7 1285.9 L885.2 1285.6 L886.7 1285.3 L888.2 1285.0 L889.7 1284.7 L891.2 1284.4 L892.7 1284.1 L894.3 1283.8 L895.8 1283.5 L897.3 1283.2 L898.8 1283.0 L900.3 1282.7 L901.8 1282.4 L903.3 1282.2 L904.8 1281.8 L906.3 1281.5 L907.8 1281.2 L909.3 1280.8 L910.8 1280.4 L912.3 1280.1 L913.8 1279.7 L915.3 1279.3 L916.8 1279.0 L918.3 1278.6 L919.8 1278.3 L921.3 1278.0 L922.8 1277.7 L924.3 1277.4 L925.8 1277.2 L927.3 1277.0 L928.8 1276.8 L930.3 1276.7 L931.8 1276.6 L933.3 1276.6 L934.8 1276.6 L936.3 1276.8 L937.8 1277.0 L939.3 1277.3 L940.8 1277.7 L942.3 1278.2 L943.8 1278.7 L945.3 1279.3 L946.8 1279.9 L948.3 1280.5 L949.8 1281.1 L951.3 1281.8 L952.8 1282.4 L954.3 1283.0 L955.8 1283.6 L957.3 1284.2 L958.8 1284.7 L960.3 1285.1 L961.8 1285.6 L963.3 1286.1 L964.8 1286.6 L966.3 1287.2 L967.8 1287.7 L969.3 1288.3 L970.8 1288.8 L972.3 1289.3 L973.8 1289.8 L975.3 1290.3 L976.8 1290.7 L978.3 1291.1 L979.8 1291.4 L981.3 1291.6 L982.8 1291.8 L984.3 1291.9 L985.8 1291.9 L987.3 1291.7 L988.8 1291.4 L990.3 1290.9 L991.8 1290.3 L993.3 1289.6 L994.8 1288.7 L996.3 1287.8 L997.8 1286.8 L999.3 1285.8 L1000.8 1284.7 L1002.3 1283.6 L1003.8 1282.5 L1005.3 1281.4 L1006.8 1280.4 L1008.3 1279.4 L1009.8 1278.4 L1011.3 1277.6 L1012.8 1276.8 L1014.3 1276.2 L1015.8 1275.6 L1017.3 1275.1 L1018.8 1274.5 L1020.3 1274.0 L1021.8 1273.4 L1023.3 1272.9 L1024.8 1272.3 L1026.3 1271.8 L1027.8 1271.3 L1029.3 1270.8 L1030.8 1270.3 L1032.3 1269.8 L1033.8 1269.3 L1035.3 1268.9 L1036.8 1268.5 L1038.3 1268.2 L1039.8 1267.8 L1041.3 1267.5 L1042.8 1267.3 L1044.3 1267.1 L1045.8 1266.9 L1047.3 1266.8 L1048.8 1266.7 L1050.3 1266.7 L1051.8 1266.8 L1053.3 1267.0 L1054.8 1267.2 L1056.3 1267.6 L1057.8 1268.0 L1059.3 1268.5 L1060.8 1269.0 L1062.3 1269.6 L1063.8 1270.2 L1065.3 1270.9 L1066.8 1271.6 L1068.3 1272.3 L1069.8 1273.0 L1071.3 1273.8 L1072.8 1274.6 L1074.3 1275.3 L1075.8 1276.1 L1077.3 1276.9 L1078.8 1277.6 L1080.3 1278.3 L1081.8 1279.1 L1083.3 1280.1 L1084.8 1281.2 L1086.3 1282.3 L1087.8 1283.5 L1089.3 1284.7 L1090.8 1286.0 L1092.3 1287.2 L1093.8 1288.3 L1095.3 1289.5 L1096.8 1290.5 L1098.3 1291.4 L1099.8 1292.1 L1101.3 1292.7 L1102.8 1293.1 L1104.3 1293.3 L1105.8 1293.2 L1107.3 1292.7 L1108.8 1292.0 L1110.3 1290.9 L1111.8 1289.6 L1113.3 1288.0 L1114.8 1286.2 L1116.3 1284.2 L1117.8 1282.1 L1119.3 1279.9 L1120.8 1277.6 L1122.3 1275.2 L1123.8 1272.8 L1125.3 1270.4 L1126.8 1268.0 L1128.3 1265.7 L1129.8 1263.4 L1131.3 1261.3 L1132.8 1259.4 L1134.3 1257.6 L1135.8 1256.0 L1137.3 1254.7 L1138.8 1253.6 L1140.3 1252.8 L1141.8 1252.2 L1143.3 1251.5 L1144.8 1250.8 L1146.3 1250.2 L1147.8 1249.6 L1149.3 1248.9 L1150.8 1248.4 L1152.3 1247.8 L1153.8 1247.2 L1155.3 1246.7 L1156.8 1246.2 L1158.3 1245.8 L1159.8 1245.3 L1161.3 1244.9 L1162.8 1244.6 L1164.3 1244.2 L1165.8 1243.9 L1167.3 1243.7 L1168.8 1243.5 L1170.4 1243.3 L1171.9 1243.2 L1173.4 1243.2 L1174.9 1243.2 L1176.4 1243.3 L1177.9 1243.6 L1179.4 1244.1 L1180.9 1244.7 L1182.4 1245.4 L1183.9 1246.3 L1185.4 1247.2 L1186.9 1248.3 L1188.4 1249.4 L1189.9 1250.7 L1191.4 1251.9 L1192.9 1253.3 L1194.4 1254.6 L1195.9 1256.0 L1197.4 1257.4 L1198.9 1258.8 L1200.4 1260.2 L1201.9 1262.0 L1203.4 1264.2 L1204.9 1266.7 L1206.4 1269.6 L1207.9 1272.6 L1209.4 1275.7 L1210.9 1278.8 L1212.4 1281.9 L1213.9 1284.8 L1215.4 1287.5 L1216.9 1289.8 L1218.4 1291.7 L1219.9 1293.2 L1221.4 1294.0 L1222.9 1294.2 L1224.4 1293.7 L1225.9 1292.6 L1227.4 1291.0 L1228.9 1289.0 L1230.4 1286.5 L1231.9 1283.8 L1233.4 1280.9 L1234.9 1277.8 L1236.4 1274.7 L1237.9 1271.6 L1239.4 1267.9 L1240.9 1263.4 L1242.4 1258.6 L1243.9 1254.1 L1245.4 1250.2 L1246.9 1246.5 L1248.4 1242.9 L1249.9 1239.4 L1251.4 1236.0 L1252.9 1232.6 L1254.4 1229.3 L1255.9 1225.9 L1257.4 1222.4 L1258.9 1218.9 L1260.4 1215.4 L1261.9 1211.9 L1263.4 1208.3 L1264.9 1204.8 L1266.4 1201.3 L1267.9 1197.7 L1269.4 1194.1 L1270.9 1190.5 L1272.4 1186.9 L1273.9 1183.1 L1275.4 1179.3 L1276.9 1175.5 L1278.4 1171.7 L1279.9 1167.8 L1281.4 1164.1 L1282.9 1160.4 L1284.4 1156.8 L1285.9 1153.2 L1287.4 1149.7 L1288.9 1146.3 L1290.4 1142.9 L1291.9 1139.5 L1293.4 1136.2 L1294.9 1132.9 L1296.4 1129.7 L1297.9 1126.6 L1299.4 1123.6 L1300.9 1120.5 L1302.4 1117.5 L1303.9 1114.5 L1305.4 1111.5 L1306.9 1108.5 L1308.4 1105.6 L1309.9 1102.8 L1311.4 1100.1 L1312.9 1097.5 L1314.4 1095.1 L1315.9 1092.8 L1317.4 1090.8 L1318.9 1089.3 L1320.4 1087.8 L1321.9 1086.4 L1323.4 1085.0 L1324.9 1083.5 L1326.4 1082.1 L1327.9 1080.6 L1329.4 1079.2 L1330.9 1077.7 L1332.4 1076.3 L1333.9 1074.8 L1335.4 1073.4 L1336.9 1071.9 L1338.4 1070.5 L1339.9 1069.0 L1341.4 1067.6 L1342.9 1067.6 L1344.4 1068.6 L1345.9 1069.6 L1347.4 1070.6 L1348.9 1071.6 L1350.4 1072.6 L1351.9 1073.6 L1353.4 1074.7 L1354.9 1075.7 L1356.4 1076.7 L1357.9 1077.7 L1359.4 1078.7 L1360.9 1079.7 L1362.4 1080.7 L1363.9 1081.7 L1365.4 1082.7 L1366.9 1083.7 L1368.4 1084.7 L1369.9 1085.7 L1371.4 1086.7 L1372.9 1087.7 L1374.4 1088.7 L1375.9 1089.7 L1377.4 1091.2 L1378.9 1093.1 L1380.4 1095.1 L1381.9 1097.3 L1383.4 1099.7 L1384.9 1102.3 L1386.4 1105.0 L1387.9 1107.8 L1389.4 1110.8 L1390.9 1113.8 L1392.4 1116.8 L1393.9 1119.9 L1395.4 1123.0 L1396.9 1126.2 L1398.4 1129.6 L1399.9 1133.2 L1401.4 1136.9 L1402.9 1140.8 L1404.4 1144.7 L1405.9 1148.7 L1407.4 1152.7 L1408.9 1156.6 L1410.4 1160.5 L1411.9 1164.4 L1413.4 1168.4 L1414.9 1172.4 L1416.4 1176.4 L1417.9 1180.4 L1419.4 1184.5 L1420.9 1188.6 L1422.4 1192.8 L1423.9 1196.9 L1425.4 1201.1 L1426.9 1205.4 L1428.4 1209.7 L1429.9 1214.0 L1431.4 1218.3 L1432.9 1222.8 L1434.4 1227.2 L1435.9 1231.7 L1437.4 1236.2 L1438.9 1240.8 L1440.4 1245.5 L1441.9 1250.3 L1443.4 1255.3 L1445.0 1261.1 L1446.5 1266.9 L1448.0 1271.2 L1449.5 1274.2 L1451.0 1277.1 L1452.5 1279.9 L1454.0 1282.5 L1455.5 1284.8 L1457.0 1286.9 L1458.5 1288.7 L1460.0 1290.1 L1461.5 1291.1 L1463.0 1291.8 L1464.5 1291.9 L1466.0 1291.6 L1467.5 1290.7 L1469.0 1289.5 L1470.5 1287.8 L1472.0 1285.9 L1473.5 1283.7 L1475.0 1281.3 L1476.5 1278.8 L1478.0 1276.2 L1479.5 1273.6 L1481.0 1271.1 L1482.5 1268.6 L1484.0 1266.3 L1485.5 1264.2 L1487.0 1262.4 L1488.5 1261.0 L1490.0 1259.9 L1491.5 1259.0 L1493.0 1258.2 L1494.5 1257.4 L1496.0 1256.6 L1497.5 1255.8 L1499.0 1255.0 L1500.5 1254.3 L1502.0 1253.6 L1503.5 1253.0 L1505.0 1252.4 L1506.5 1251.8 L1508.0 1251.3 L1509.5 1250.9 L1511.0 1250.5 L1512.5 1250.2 L1514.0 1250.0 L1515.5 1249.9 L1517.0 1249.8 L1518.5 1249.8 L1520.0 1249.9 L1521.5 1250.1 L1523.0 1250.4 L1524.5 1250.8 L1526.0 1251.3 L1527.5 1251.8 L1529.0 1252.4 L1530.5 1253.1 L1532.0 1253.8 L1533.5 1254.6 L1535.0 1255.4 L1536.5 1256.2 L1538.0 1257.1 L1539.5 1258.0 L1541.0 1258.9 L1542.5 1259.8 L1544.0 1260.8 L1545.5 1261.7 L1547.0 1262.6 L1548.5 1263.5 L1550.0 1264.4 L1551.5 1265.4 L1553.0 1266.5 L1554.5 1267.8 L1556.0 1269.3 L1557.5 1270.8 L1559.0 1272.4 L1560.5 1274.0 L1562.0 1275.7 L1563.5 1277.4 L1565.0 1279.0 L1566.5 1280.7 L1568.0 1282.2 L1569.5 1283.7 L1571.0 1285.1 L1572.5 1286.3 L1574.0 1287.4 L1575.5 1288.3 L1577.0 1289.0 L1578.5 1289.4 L1580.0 1289.6 L1581.5 1289.6 L1583.0 1289.3 L1584.5 1288.8 L1586.0 1288.1 L1587.5 1287.2 L1589.0 1286.3 L1590.5 1285.2 L1592.0 1284.1 L1593.5 1283.0 L1595.0 1281.8 L1596.5 1280.7 L1598.0 1279.6 L1599.5 1278.5 L1601.0 1277.6 L1602.5 1276.8 L1604.0 1276.2 L1605.5 1275.8 L1607.0 1275.3 L1608.5 1275.0 L1610.0 1274.6 L1611.5 1274.2 L1613.0 1273.8 L1614.5 1273.5 L1616.0 1273.1 L1617.5 1272.8 L1619.0 1272.5 L1620.5 1272.2 L1622.0 1272.0 L1623.5 1271.7 L1625.0 1271.5 L1626.5 1271.4 L1628.0 1271.2 L1629.5 1271.2 L1631.0 1271.1 L1632.5 1271.1 L1634.0 1271.1 L1635.5 1271.3 L1637.0 1271.5 L1638.5 1271.8 L1640.0 1272.2 L1641.5 1272.6 L1643.0 1273.1 L1644.5 1273.6 L1646.0 1274.1 L1647.5 1274.7 L1649.0 1275.3 L1650.5 1276.0 L1652.0 1276.6 L1653.5 1277.2 L1655.0 1277.8 L1656.5 1278.5 L1658.0 1279.0 L1659.5 1279.6 L1661.0 1280.2 L1662.5 1280.8 L1664.0 1281.5 L1665.5 1282.2 L1667.0 1283.0 L1668.5 1283.8 L1670.0 1284.7 L1671.5 1285.5 L1673.0 1286.3 L1674.5 1287.1 L1676.0 1287.9 L1677.5 1288.6 L1679.0 1289.3 L1680.5 1289.8 L1682.0 1290.3 L1683.5 1290.7 L1685.0 1291.0 L1686.5 1291.2 L1688.0 1291.2 L1689.5 1291.1 L1691.0 1290.9 L1692.5 1290.5 L1694.0 1290.0 L1695.5 1289.5 L1697.0 1288.9 L1698.5 1288.2 L1700.0 1287.5 L1701.5 1286.8 L1703.0 1286.1 L1704.5 1285.4 L1706.0 1284.7 L1707.5 1284.1 L1709.0 1283.6 L1710.5 1283.1 L1712.0 1282.8 L1713.5 1282.4 L1715.0 1282.1 L1716.5 1281.8 L1718.0 1281.5 L1719.5 1281.2 L1721.1 1280.9 L1722.6 1280.6 L1724.1 1280.4 L1725.6 1280.1 L1727.1 1279.9 L1728.6 1279.7 L1730.1 1279.5 L1731.6 1279.4 L1733.1 1279.2 L1734.6 1279.2 L1736.1 1279.1 L1737.6 1279.1 L1739.1 1279.1 L1740.6 1279.3 L1742.1 1279.4 L1743.6 1279.7 L1745.1 1280.0 L1746.6 1280.3 L1748.1 1280.6 L1749.6 1281.0 L1751.1 1281.4 L1752.6 1281.8 L1754.1 1282.3 L1755.6 1282.7 L1757.1 1283.1 L1758.6 1283.6 L1760.1 1284.0 L1761.6 1284.3 L1763.1 1284.7 L1764.6 1285.0 L1766.1 1285.2 L1767.6 1285.5 L1769.1 1285.8 L1770.6 1286.1 L1772.1 1286.4 L1773.6 1286.7 L1775.1 1287.0 L1776.6 1287.3 L1778.1 1287.7 L1779.6 1287.9 L1781.1 1288.2 L1782.6 1288.5 L1784.1 1288.8 L1785.6 1289.0 L1787.1 1289.2 L1788.6 1289.4 L1790.1 1289.6 L1791.6 1289.8 L1793.1 1289.9 L1794.6 1290.0 L1796.1 1290.1 L1797.6 1290.1 L1799.1 1290.1 L1800.6 1290.0 L1802.1 1289.9 L1803.6 1289.7 L1805.1 1289.5 L1806.6 1289.2 L1808.1 1289.0 L1809.6 1288.7 L1811.1 1288.3 L1812.6 1288.0 L1814.1 1287.7 L1815.6 1287.3 L1817.1 1287.0 L1818.6 1286.7 L1820.1 1286.3 L1821.6 1286.0 L1823.1 1285.8 L1824.6 1285.5 L1826.1 1285.3 L1827.6 1285.2 L1829.1 1285.1 L1830.6 1285.0 L1832.1 1285.0 L1833.6 1284.9 L1835.1 1284.9 L1836.6 1284.9 L1838.1 1284.8 L1839.6 1284.8 L1841.1 1284.8 L1842.6 1284.7 L1844.1 1284.7 L1845.6 1284.7 L1847.1 1284.7 L1848.6 1284.6 L1850.1 1284.6 L1851.6 1284.6 L1853.1 1284.6 L1854.6 1284.6 L1856.1 1284.6 L1857.6 1284.6" stroke="#00ffff" stroke-width="13" fill="none" stroke-linejoin="round"/>
<path d="M1222.0 1296.5 L1223.5 1294.5 L1225.0 1292.3 L1226.5 1289.9 L1228.0 1287.3 L1229.5 1284.5 L1231.0 1281.4 L1232.5 1278.1 L1234.0 1274.6 L1235.5 1271.1 L1237.0 1267.6 L1238.5 1264.1 L1240.0 1260.5 L1241.5 1256.9 L1243.0 1253.2 L1244.5 1249.4 L1246.0 1245.7 L1247.5 1241.9 L1249.0 1238.1 L1250.5 1234.3 L1252.0 1230.5 L1253.5 1226.7 L1255.0 1222.8 L1256.5 1218.9 L1258.0 1215.0 L1259.5 1211.1 L1261.0 1207.2 L1262.5 1203.4 L1264.0 1199.6 L1265.5 1195.8 L1267.0 1192.0 L1268.5 1188.2 L1270.0 1184.5 L1271.5 1180.7 L1273.0 1177.0 L1274.5 1173.3 L1276.0 1169.7 L1277.5 1166.1 L1279.0 1162.5 L1280.5 1159.1 L1282.0 1155.6 L1283.5 1152.2 L1285.0 1148.9 L1286.5 1145.5 L1288.0 1142.2 L1289.5 1139.0 L1291.0 1135.8 L1292.5 1132.6 L1294.0 1129.5 L1295.5 1126.4 L1297.0 1123.3 L1298.5 1120.1 L1300.0 1116.9 L1301.5 1113.7 L1303.0 1110.5 L1304.5 1107.4 L1306.0 1104.5 L1307.5 1101.6 L1309.0 1098.9 L1310.5 1096.5 L1312.0 1094.3 L1313.5 1092.3 L1315.0 1090.5 L1316.5 1088.6 L1318.0 1086.7 L1319.5 1084.9 L1321.0 1083.0 L1322.5 1081.2 L1324.0 1079.5 L1325.5 1077.8 L1327.0 1076.3 L1328.5 1074.8 L1330.0 1073.4 L1331.5 1072.1 L1333.0 1071.0 L1334.5 1070.0 L1336.0 1069.1 L1337.5 1068.4 L1339.0 1067.9 L1340.5 1067.6 L1342.0 1067.5 L1343.5 1067.6 L1345.0 1067.7 L1346.5 1068.0 L1348.0 1068.4 L1349.5 1068.8 L1351.0 1069.4 L1352.5 1070.0 L1354.0 1070.8 L1355.5 1071.5 L1357.0 1072.4 L1358.5 1073.3 L1360.0 1074.3 L1361.5 1075.3 L1363.0 1076.4 L1364.5 1077.5 L1366.0 1078.7 L1367.5 1079.9 L1369.0 1081.1 L1370.5 1082.3 L1372.0 1083.6 L1373.5 1085.1 L1375.0 1087.0 L1376.5 1089.0 L1378.0 1091.3 L1379.5 1093.8 L1381.0 1096.4 L1382.5 1099.2 L1384.0 1102.1 L1385.5 1105.0 L1387.0 1108.0 L1388.5 1110.9 L1390.0 1113.8 L1391.5 1116.7 L1393.0 1119.7 L1394.5 1122.7 L1396.0 1125.8 L1397.5 1129.1 L1399.0 1132.3 L1400.5 1135.7 L1402.0 1139.1 L1403.5 1142.6 L1405.0 1146.1 L1406.5 1149.7 L1408.0 1153.3 L1409.5 1157.0 L1411.0 1160.9 L1412.5 1164.9 L1414.0 1168.9 L1415.5 1173.0 L1417.0 1177.0 L1418.5 1180.9 L1420.0 1184.8 L1421.5 1188.6 L1423.0 1192.3 L1424.5 1195.9 L1426.0 1199.5 L1427.5 1203.1 L1429.0 1206.7 L1430.5 1210.2 L1432.0 1213.8 L1433.5 1217.3 L1435.0 1220.9 L1436.5 1224.5 L1438.0 1228.1 L1439.5 1231.8 L1441.0 1235.4 L1442.5 1239.0 L1444.0 1242.6 L1445.5 1246.2 L1447.0 1249.8 L1448.5 1253.4 L1450.0 1257.0 L1451.5 1261.2 L1453.0 1265.8 L1454.5 1270.6 L1456.0 1275.2 L1457.5 1279.4 L1459.0 1283.0 L1460.5 1285.6 L1462.0 1287.1 L1463.5 1287.3 L1465.0 1286.8 L1466.5 1285.9 L1468.0 1284.7 L1469.5 1283.3 L1471.0 1281.8 L1472.5 1280.3 L1474.0 1279.0 L1475.5 1277.8 L1477.0 1276.6 L1478.5 1275.3 L1480.0 1273.9 L1481.5 1272.5 L1483.0 1271.2 L1484.5 1269.9 L1486.0 1268.8 L1487.5 1267.9 L1489.0 1267.2 L1490.5 1266.8 L1492.0 1266.7 L1493.5 1266.7 L1495.0 1266.7 L1496.5 1266.7 L1498.0 1266.7" stroke="#00ffff" stroke-width="18" fill="none" stroke-dasharray="16 14"/>
<text class="tk" text-anchor="middle" transform="translate(294.25 1352.50) scale(1 1.045)">-1</text>
<text class="tk" text-anchor="middle" transform="translate(479.75 1352.50) scale(1 1.045)">0</text>
<text class="tk" text-anchor="middle" transform="translate(661.25 1352.50) scale(1 1.045)">1</text>
<text class="tk" text-anchor="middle" transform="translate(846.25 1352.50) scale(1 1.045)">2</text>
<text class="tk" text-anchor="middle" transform="translate(1029.75 1352.50) scale(1 1.045)">3</text>
<text class="tk" text-anchor="middle" transform="translate(1213.25 1352.50) scale(1 1.045)">4</text>
<text class="tk" text-anchor="middle" transform="translate(1396.75 1352.50) scale(1 1.045)">5</text>
<text class="tk" text-anchor="middle" transform="translate(1580.25 1352.50) scale(1 1.045)">6</text>
<text class="tk" text-anchor="middle" transform="translate(1763.75 1352.50) scale(1 1.045)">7</text>
<text class="tk" text-anchor="end" transform="translate(191.60 1313.40) scale(1 1.045)">0</text>
<text class="tk" text-anchor="end" transform="translate(193.60 1198.90) scale(1 1.045)">0.5</text>
<text class="tk" text-anchor="end" transform="translate(189.10 1084.40) scale(1 1.045)">1</text>
<text class="ti" x="1029.8" y="1041.9" text-anchor="middle">Angle Mode</text>
<text class="lx" font-style="italic" transform="translate(858.53 1425.10) scale(1.134 0.982)">L</text>
<text class="lx" transform="translate(920.32 1429.64) scale(1.421 0.916)">=</text>
<text class="lx" transform="translate(1001.24 1426.43) scale(0.921 1.071)">(</text>
<text class="lx" font-style="italic" transform="translate(1025.31 1424.54) scale(1.147 0.935)">ϕ</text>
<text class="lx" font-style="italic" transform="translate(1070.59 1426.06) scale(0.997 0.965)">ρ</text>
<text class="lx" transform="translate(1105.77 1426.43) scale(0.916 1.071)">)</text>
<text class="lx" transform="translate(1135.30 1442.50) scale(1.435 1.443)">/</text>
<text class="lx" font-style="italic" transform="translate(1172.31 1426.20) scale(1.156 0.967)">λ</text>
<text class="lx" transform="translate(101.81 1278.50) rotate(-90) scale(1.000 1.075)">|</text>
<text class="lx" font-style="italic" transform="translate(101.40 1258.80) rotate(-90) scale(1.200 1.010)">P</text>
<text class="lx" font-style="italic" transform="translate(102.80 1203.55) rotate(-90) scale(1.250 1.082)">S</text>
<text class="lx" font-style="italic" transform="translate(101.40 1155.60) rotate(-90) scale(1.131 1.010)">F</text>
<text class="lx" transform="translate(101.81 1099.05) rotate(-90) scale(0.950 1.075)">|</text>
</svg></body></html>
